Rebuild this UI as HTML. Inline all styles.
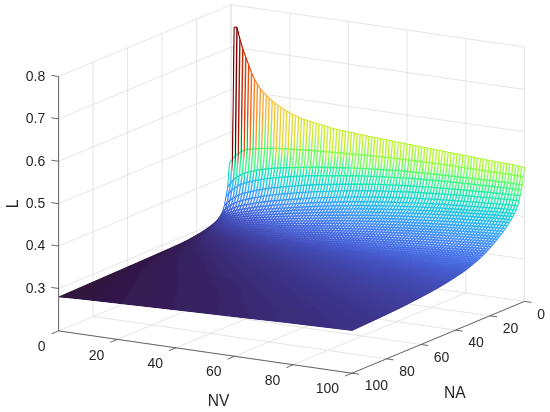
<!DOCTYPE html>
<html><head><meta charset="utf-8"><title>L vs NV, NA</title>
<style>html,body{margin:0;padding:0;background:#fff}svg{display:block}text{font-family:"Liberation Sans",Arial,Helvetica,sans-serif;font-size:14px;fill:#262626}</style></head>
<body><svg width="550" height="412" viewBox="0 0 550 412">
<rect width="550" height="412" fill="#fff"/>
<defs><linearGradient id="r0" gradientUnits="userSpaceOnUse" x1="234" x2="524.5"><stop offset="0" stop-color="#7a0403"/><stop offset="0.015" stop-color="#7a0403"/><stop offset="0.025" stop-color="#a71401"/><stop offset="0.035" stop-color="#c52603"/><stop offset="0.056" stop-color="#ea4e0d"/><stop offset="0.076" stop-color="#fb7e21"/><stop offset="0.086" stop-color="#fe932a"/><stop offset="0.126" stop-color="#faba39"/><stop offset="0.197" stop-color="#e5d938"/><stop offset="0.338" stop-color="#cbed34"/><stop offset="1" stop-color="#a7fc3a"/></linearGradient><linearGradient id="r1" gradientUnits="userSpaceOnUse" x1="229.4" x2="523.5"><stop offset="0" stop-color="#18dec0"/><stop offset="0.015" stop-color="#1ce6b4"/><stop offset="0.055" stop-color="#3cf58e"/><stop offset="0.125" stop-color="#55fa76"/><stop offset="0.305" stop-color="#6dfe62"/><stop offset="0.525" stop-color="#7dff56"/><stop offset="0.825" stop-color="#84ff51"/><stop offset="1" stop-color="#80ff53"/></linearGradient><linearGradient id="r2" gradientUnits="userSpaceOnUse" x1="227.7" x2="522.5"><stop offset="0" stop-color="#3e9bfe"/><stop offset="0.005" stop-color="#3e9bfe"/><stop offset="0.035" stop-color="#28bceb"/><stop offset="0.075" stop-color="#1bd0d5"/><stop offset="0.155" stop-color="#18e0bd"/><stop offset="0.415" stop-color="#35f394"/><stop offset="0.625" stop-color="#4af880"/><stop offset="0.865" stop-color="#55fa76"/><stop offset="1" stop-color="#59fb73"/></linearGradient><linearGradient id="r3" gradientUnits="userSpaceOnUse" x1="225.9" x2="521.4"><stop offset="0" stop-color="#467df4"/><stop offset="0.005" stop-color="#467df4"/><stop offset="0.025" stop-color="#4294ff"/><stop offset="0.065" stop-color="#31aff5"/><stop offset="0.165" stop-color="#1ccdd8"/><stop offset="0.365" stop-color="#1ae4b6"/><stop offset="0.655" stop-color="#32f298"/><stop offset="0.925" stop-color="#3ff68a"/><stop offset="1" stop-color="#43f787"/></linearGradient><linearGradient id="r4" gradientUnits="userSpaceOnUse" x1="224.2" x2="520.3"><stop offset="0" stop-color="#4661d6"/><stop offset="0.005" stop-color="#4661d6"/><stop offset="0.035" stop-color="#4680f6"/><stop offset="0.085" stop-color="#4099ff"/><stop offset="0.275" stop-color="#20c7df"/><stop offset="0.515" stop-color="#19e2bb"/><stop offset="0.935" stop-color="#2aefa1"/><stop offset="1" stop-color="#2cf09e"/></linearGradient><linearGradient id="r5" gradientUnits="userSpaceOnUse" x1="222.5" x2="519.1"><stop offset="0" stop-color="#4451bf"/><stop offset="0.005" stop-color="#4451bf"/><stop offset="0.035" stop-color="#466be3"/><stop offset="0.075" stop-color="#4680f6"/><stop offset="0.165" stop-color="#3e9bfe"/><stop offset="0.385" stop-color="#22c5e2"/><stop offset="0.665" stop-color="#18dec0"/><stop offset="1" stop-color="#1fe9af"/></linearGradient><linearGradient id="r6" gradientUnits="userSpaceOnUse" x1="220.5" x2="517.7"><stop offset="0" stop-color="#4146ac"/><stop offset="0.005" stop-color="#4146ac"/><stop offset="0.035" stop-color="#455ed3"/><stop offset="0.085" stop-color="#4773eb"/><stop offset="0.195" stop-color="#4391fe"/><stop offset="0.395" stop-color="#2eb4f2"/><stop offset="0.645" stop-color="#1ad2d2"/><stop offset="1" stop-color="#18e0bd"/></linearGradient><linearGradient id="r7" gradientUnits="userSpaceOnUse" x1="218.6" x2="516.2"><stop offset="0" stop-color="#3f3e9c"/><stop offset="0.005" stop-color="#3f3e9c"/><stop offset="0.025" stop-color="#434eba"/><stop offset="0.075" stop-color="#4666dd"/><stop offset="0.215" stop-color="#458afc"/><stop offset="0.395" stop-color="#37a8fa"/><stop offset="0.685" stop-color="#1fc9dd"/><stop offset="1" stop-color="#18d9c8"/></linearGradient><linearGradient id="r8" gradientUnits="userSpaceOnUse" x1="216.6" x2="514.6"><stop offset="0" stop-color="#3e3891"/><stop offset="0.005" stop-color="#3e3891"/><stop offset="0.025" stop-color="#4146ac"/><stop offset="0.075" stop-color="#455ed3"/><stop offset="0.195" stop-color="#477bf2"/><stop offset="0.335" stop-color="#4294ff"/><stop offset="0.585" stop-color="#2cb7f0"/><stop offset="0.985" stop-color="#1ad2d2"/><stop offset="1" stop-color="#1ad2d2"/></linearGradient><linearGradient id="r9" gradientUnits="userSpaceOnUse" x1="214.6" x2="512.9"><stop offset="0" stop-color="#3d358b"/><stop offset="0.015" stop-color="#3f3b97"/><stop offset="0.025" stop-color="#4143a7"/><stop offset="0.065" stop-color="#4454c3"/><stop offset="0.185" stop-color="#4773eb"/><stop offset="0.355" stop-color="#4391fe"/><stop offset="0.645" stop-color="#2eb4f2"/><stop offset="1" stop-color="#1ecbda"/></linearGradient><linearGradient id="r10" gradientUnits="userSpaceOnUse" x1="212.6" x2="511.1"><stop offset="0" stop-color="#3b2f80"/><stop offset="0.005" stop-color="#3b2f80"/><stop offset="0.025" stop-color="#3f3e9c"/><stop offset="0.065" stop-color="#434eba"/><stop offset="0.175" stop-color="#4669e0"/><stop offset="0.325" stop-color="#4685fa"/><stop offset="0.555" stop-color="#3aa3fc"/><stop offset="0.865" stop-color="#27bee9"/><stop offset="1" stop-color="#22c5e2"/></linearGradient><linearGradient id="r11" gradientUnits="userSpaceOnUse" x1="210.6" x2="509.3"><stop offset="0" stop-color="#3a2d79"/><stop offset="0.005" stop-color="#3a2d79"/><stop offset="0.025" stop-color="#3f3b97"/><stop offset="0.075" stop-color="#424bb5"/><stop offset="0.175" stop-color="#4664da"/><stop offset="0.335" stop-color="#4680f6"/><stop offset="0.555" stop-color="#3e9bfe"/><stop offset="0.875" stop-color="#2cb7f0"/><stop offset="1" stop-color="#27bee9"/></linearGradient><linearGradient id="r12" gradientUnits="userSpaceOnUse" x1="208.6" x2="507.4"><stop offset="0" stop-color="#3a2d79"/><stop offset="0.005" stop-color="#3a2d79"/><stop offset="0.025" stop-color="#3e3891"/><stop offset="0.075" stop-color="#4249b1"/><stop offset="0.185" stop-color="#4661d6"/><stop offset="0.365" stop-color="#467df4"/><stop offset="0.595" stop-color="#4099ff"/><stop offset="0.985" stop-color="#2cb7f0"/><stop offset="1" stop-color="#2cb7f0"/></linearGradient><linearGradient id="r13" gradientUnits="userSpaceOnUse" x1="206.7" x2="505.5"><stop offset="0" stop-color="#392a73"/><stop offset="0.005" stop-color="#392a73"/><stop offset="0.025" stop-color="#3d358b"/><stop offset="0.065" stop-color="#4143a7"/><stop offset="0.155" stop-color="#4456c7"/><stop offset="0.315" stop-color="#4771e9"/><stop offset="0.555" stop-color="#448ffe"/><stop offset="0.975" stop-color="#31aff5"/><stop offset="1" stop-color="#31aff5"/></linearGradient><linearGradient id="r14" gradientUnits="userSpaceOnUse" x1="204.7" x2="503.5"><stop offset="0" stop-color="#38276d"/><stop offset="0.005" stop-color="#38276d"/><stop offset="0.025" stop-color="#3c3286"/><stop offset="0.105" stop-color="#4249b1"/><stop offset="0.275" stop-color="#4666dd"/><stop offset="0.515" stop-color="#4685fa"/><stop offset="0.855" stop-color="#3aa3fc"/><stop offset="1" stop-color="#35abf8"/></linearGradient><linearGradient id="r15" gradientUnits="userSpaceOnUse" x1="202.7" x2="501.5"><stop offset="0" stop-color="#38276d"/><stop offset="0.015" stop-color="#392a73"/><stop offset="0.035" stop-color="#3c3286"/><stop offset="0.095" stop-color="#4143a7"/><stop offset="0.225" stop-color="#4559cb"/><stop offset="0.455" stop-color="#4778f0"/><stop offset="0.735" stop-color="#4294ff"/><stop offset="1" stop-color="#38a5fb"/></linearGradient><linearGradient id="r16" gradientUnits="userSpaceOnUse" x1="200.7" x2="499.5"><stop offset="0" stop-color="#372466"/><stop offset="0.005" stop-color="#372466"/><stop offset="0.025" stop-color="#3a2d79"/><stop offset="0.085" stop-color="#3f3e9c"/><stop offset="0.195" stop-color="#4451bf"/><stop offset="0.425" stop-color="#4771e9"/><stop offset="0.725" stop-color="#458cfd"/><stop offset="1" stop-color="#3d9efe"/></linearGradient><linearGradient id="r17" gradientUnits="userSpaceOnUse" x1="198.7" x2="497.4"><stop offset="0" stop-color="#372466"/><stop offset="0.025" stop-color="#392a73"/><stop offset="0.045" stop-color="#3c3286"/><stop offset="0.075" stop-color="#3e3891"/><stop offset="0.165" stop-color="#4249b1"/><stop offset="0.325" stop-color="#455ed3"/><stop offset="0.545" stop-color="#4778f0"/><stop offset="0.895" stop-color="#4294ff"/><stop offset="1" stop-color="#4099ff"/></linearGradient><linearGradient id="r18" gradientUnits="userSpaceOnUse" x1="196.7" x2="495.4"><stop offset="0" stop-color="#36215f"/><stop offset="0.015" stop-color="#372466"/><stop offset="0.035" stop-color="#3a2d79"/><stop offset="0.055" stop-color="#3c3286"/><stop offset="0.135" stop-color="#4040a2"/><stop offset="0.315" stop-color="#4559cb"/><stop offset="0.525" stop-color="#4771e9"/><stop offset="0.865" stop-color="#458cfd"/><stop offset="1" stop-color="#4294ff"/></linearGradient><linearGradient id="r19" gradientUnits="userSpaceOnUse" x1="194.8" x2="493.3"><stop offset="0" stop-color="#36215f"/><stop offset="0.065" stop-color="#3c3286"/><stop offset="0.105" stop-color="#3e3891"/><stop offset="0.295" stop-color="#4454c3"/><stop offset="0.545" stop-color="#476ee6"/><stop offset="0.865" stop-color="#4687fb"/><stop offset="1" stop-color="#448ffe"/></linearGradient><linearGradient id="r20" gradientUnits="userSpaceOnUse" x1="192.8" x2="491.2"><stop offset="0" stop-color="#351e58"/><stop offset="0.015" stop-color="#36215f"/><stop offset="0.035" stop-color="#392a73"/><stop offset="0.055" stop-color="#3a2d79"/><stop offset="0.075" stop-color="#3c3286"/><stop offset="0.265" stop-color="#424bb5"/><stop offset="0.455" stop-color="#4661d6"/><stop offset="0.755" stop-color="#477bf2"/><stop offset="1" stop-color="#458afc"/></linearGradient><linearGradient id="r21" gradientUnits="userSpaceOnUse" x1="190.8" x2="489.1"><stop offset="0" stop-color="#351e58"/><stop offset="0.055" stop-color="#3a2d79"/><stop offset="0.225" stop-color="#4143a7"/><stop offset="0.345" stop-color="#4451bf"/><stop offset="0.555" stop-color="#4666dd"/><stop offset="0.875" stop-color="#467df4"/><stop offset="1" stop-color="#4685fa"/></linearGradient><linearGradient id="r22" gradientUnits="userSpaceOnUse" x1="188.8" x2="487"><stop offset="0" stop-color="#351e58"/><stop offset="0.055" stop-color="#392a73"/><stop offset="0.155" stop-color="#3e3891"/><stop offset="0.225" stop-color="#4040a2"/><stop offset="0.375" stop-color="#4451bf"/><stop offset="0.595" stop-color="#4666dd"/><stop offset="0.985" stop-color="#4680f6"/><stop offset="1" stop-color="#4680f6"/></linearGradient><linearGradient id="r23" gradientUnits="userSpaceOnUse" x1="186.8" x2="485"><stop offset="0" stop-color="#341b51"/><stop offset="0.045" stop-color="#38276d"/><stop offset="0.065" stop-color="#392a73"/><stop offset="0.105" stop-color="#3b2f80"/><stop offset="0.195" stop-color="#3f3b97"/><stop offset="0.325" stop-color="#4249b1"/><stop offset="0.545" stop-color="#455ed3"/><stop offset="0.885" stop-color="#4776ee"/><stop offset="1" stop-color="#477bf2"/></linearGradient><linearGradient id="r24" gradientUnits="userSpaceOnUse" x1="184.8" x2="482.9"><stop offset="0" stop-color="#341b51"/><stop offset="0.035" stop-color="#372466"/><stop offset="0.055" stop-color="#38276d"/><stop offset="0.095" stop-color="#3a2d79"/><stop offset="0.165" stop-color="#3d358b"/><stop offset="0.265" stop-color="#4040a2"/><stop offset="0.465" stop-color="#4454c3"/><stop offset="0.735" stop-color="#4669e0"/><stop offset="1" stop-color="#4778f0"/></linearGradient><linearGradient id="r25" gradientUnits="userSpaceOnUse" x1="182.9" x2="480.8"><stop offset="0" stop-color="#341b51"/><stop offset="0.055" stop-color="#38276d"/><stop offset="0.105" stop-color="#3a2d79"/><stop offset="0.155" stop-color="#3c3286"/><stop offset="0.285" stop-color="#4040a2"/><stop offset="0.565" stop-color="#4559cb"/><stop offset="0.885" stop-color="#476ee6"/><stop offset="1" stop-color="#4773eb"/></linearGradient><linearGradient id="r26" gradientUnits="userSpaceOnUse" x1="180.9" x2="478.7"><stop offset="0" stop-color="#341b51"/><stop offset="0.035" stop-color="#36215f"/><stop offset="0.115" stop-color="#3a2d79"/><stop offset="0.165" stop-color="#3c3286"/><stop offset="0.285" stop-color="#3f3e9c"/><stop offset="0.345" stop-color="#4143a7"/><stop offset="0.535" stop-color="#4454c3"/><stop offset="0.795" stop-color="#4666dd"/><stop offset="1" stop-color="#4771e9"/></linearGradient><linearGradient id="r27" gradientUnits="userSpaceOnUse" x1="178.9" x2="476.6"><stop offset="0" stop-color="#341b51"/><stop offset="0.015" stop-color="#341b51"/><stop offset="0.045" stop-color="#372466"/><stop offset="0.105" stop-color="#392a73"/><stop offset="0.125" stop-color="#3a2d79"/><stop offset="0.275" stop-color="#3f3b97"/><stop offset="0.305" stop-color="#3f3e9c"/><stop offset="0.465" stop-color="#424bb5"/><stop offset="0.605" stop-color="#4456c7"/><stop offset="0.905" stop-color="#4669e0"/><stop offset="1" stop-color="#476ee6"/></linearGradient><linearGradient id="r28" gradientUnits="userSpaceOnUse" x1="176.9" x2="474.5"><stop offset="0" stop-color="#341b51"/><stop offset="0.015" stop-color="#341b51"/><stop offset="0.035" stop-color="#36215f"/><stop offset="0.085" stop-color="#38276d"/><stop offset="0.135" stop-color="#3a2d79"/><stop offset="0.325" stop-color="#3f3e9c"/><stop offset="0.455" stop-color="#4249b1"/><stop offset="0.685" stop-color="#4559cb"/><stop offset="1" stop-color="#466be3"/></linearGradient><linearGradient id="r29" gradientUnits="userSpaceOnUse" x1="174.9" x2="472.4"><stop offset="0" stop-color="#33184a"/><stop offset="0.035" stop-color="#36215f"/><stop offset="0.125" stop-color="#392a73"/><stop offset="0.145" stop-color="#3a2d79"/><stop offset="0.215" stop-color="#3c3286"/><stop offset="0.345" stop-color="#3f3e9c"/><stop offset="0.485" stop-color="#4249b1"/><stop offset="0.725" stop-color="#4559cb"/><stop offset="1" stop-color="#4669e0"/></linearGradient><linearGradient id="r30" gradientUnits="userSpaceOnUse" x1="172.9" x2="470.4"><stop offset="0" stop-color="#33184a"/><stop offset="0.025" stop-color="#351e58"/><stop offset="0.075" stop-color="#372466"/><stop offset="0.125" stop-color="#392a73"/><stop offset="0.175" stop-color="#3a2d79"/><stop offset="0.195" stop-color="#3b2f80"/><stop offset="0.265" stop-color="#3d358b"/><stop offset="0.365" stop-color="#3f3e9c"/><stop offset="0.475" stop-color="#4146ac"/><stop offset="0.635" stop-color="#4451bf"/><stop offset="0.865" stop-color="#455ed3"/><stop offset="1" stop-color="#4666dd"/></linearGradient><linearGradient id="r31" gradientUnits="userSpaceOnUse" x1="170.9" x2="468.3"><stop offset="0" stop-color="#33184a"/><stop offset="0.025" stop-color="#351e58"/><stop offset="0.075" stop-color="#372466"/><stop offset="0.175" stop-color="#3a2d79"/><stop offset="0.245" stop-color="#3c3286"/><stop offset="0.315" stop-color="#3e3891"/><stop offset="0.425" stop-color="#4040a2"/><stop offset="0.585" stop-color="#424bb5"/><stop offset="0.765" stop-color="#4456c7"/><stop offset="1" stop-color="#4664da"/></linearGradient><linearGradient id="r32" gradientUnits="userSpaceOnUse" x1="169" x2="466.2"><stop offset="0" stop-color="#33184a"/><stop offset="0.025" stop-color="#351e58"/><stop offset="0.065" stop-color="#36215f"/><stop offset="0.085" stop-color="#372466"/><stop offset="0.155" stop-color="#392a73"/><stop offset="0.225" stop-color="#3b2f80"/><stop offset="0.295" stop-color="#3d358b"/><stop offset="0.405" stop-color="#3f3e9c"/><stop offset="0.615" stop-color="#424bb5"/><stop offset="0.905" stop-color="#455ccf"/><stop offset="1" stop-color="#4661d6"/></linearGradient><linearGradient id="r33" gradientUnits="userSpaceOnUse" x1="167" x2="464.2"><stop offset="0" stop-color="#33184a"/><stop offset="0.065" stop-color="#36215f"/><stop offset="0.165" stop-color="#392a73"/><stop offset="0.235" stop-color="#3b2f80"/><stop offset="0.355" stop-color="#3e3891"/><stop offset="0.425" stop-color="#3f3e9c"/><stop offset="0.515" stop-color="#4143a7"/><stop offset="0.645" stop-color="#424bb5"/><stop offset="0.955" stop-color="#455ccf"/><stop offset="1" stop-color="#455ed3"/></linearGradient><linearGradient id="r34" gradientUnits="userSpaceOnUse" x1="165" x2="462.1"><stop offset="0" stop-color="#33184a"/><stop offset="0.065" stop-color="#36215f"/><stop offset="0.105" stop-color="#372466"/><stop offset="0.175" stop-color="#392a73"/><stop offset="0.225" stop-color="#3a2d79"/><stop offset="0.245" stop-color="#3b2f80"/><stop offset="0.265" stop-color="#3b2f80"/><stop offset="0.285" stop-color="#3c3286"/><stop offset="0.445" stop-color="#3f3e9c"/><stop offset="0.585" stop-color="#4146ac"/><stop offset="0.775" stop-color="#4451bf"/><stop offset="1" stop-color="#455ccf"/></linearGradient><linearGradient id="r35" gradientUnits="userSpaceOnUse" x1="163" x2="460"><stop offset="0" stop-color="#33184a"/><stop offset="0.045" stop-color="#351e58"/><stop offset="0.085" stop-color="#36215f"/><stop offset="0.105" stop-color="#372466"/><stop offset="0.155" stop-color="#38276d"/><stop offset="0.175" stop-color="#392a73"/><stop offset="0.195" stop-color="#392a73"/><stop offset="0.215" stop-color="#3a2d79"/><stop offset="0.235" stop-color="#3a2d79"/><stop offset="0.255" stop-color="#3b2f80"/><stop offset="0.275" stop-color="#3b2f80"/><stop offset="0.295" stop-color="#3c3286"/><stop offset="0.355" stop-color="#3d358b"/><stop offset="0.385" stop-color="#3e3891"/><stop offset="0.475" stop-color="#3f3e9c"/><stop offset="0.565" stop-color="#4143a7"/><stop offset="0.705" stop-color="#424bb5"/><stop offset="1" stop-color="#4559cb"/></linearGradient><linearGradient id="r36" gradientUnits="userSpaceOnUse" x1="161" x2="458"><stop offset="0" stop-color="#33184a"/><stop offset="0.045" stop-color="#351e58"/><stop offset="0.085" stop-color="#36215f"/><stop offset="0.105" stop-color="#372466"/><stop offset="0.125" stop-color="#372466"/><stop offset="0.145" stop-color="#38276d"/><stop offset="0.165" stop-color="#38276d"/><stop offset="0.185" stop-color="#392a73"/><stop offset="0.205" stop-color="#392a73"/><stop offset="0.225" stop-color="#3a2d79"/><stop offset="0.245" stop-color="#3a2d79"/><stop offset="0.265" stop-color="#3b2f80"/><stop offset="0.285" stop-color="#3b2f80"/><stop offset="0.305" stop-color="#3c3286"/><stop offset="0.375" stop-color="#3d358b"/><stop offset="0.405" stop-color="#3e3891"/><stop offset="0.495" stop-color="#3f3e9c"/><stop offset="0.585" stop-color="#4143a7"/><stop offset="0.745" stop-color="#424bb5"/><stop offset="0.985" stop-color="#4456c7"/><stop offset="1" stop-color="#4456c7"/></linearGradient><linearGradient id="r37" gradientUnits="userSpaceOnUse" x1="159" x2="455.9"><stop offset="0" stop-color="#33184a"/><stop offset="0.015" stop-color="#33184a"/><stop offset="0.075" stop-color="#36215f"/><stop offset="0.095" stop-color="#36215f"/><stop offset="0.115" stop-color="#372466"/><stop offset="0.135" stop-color="#372466"/><stop offset="0.155" stop-color="#38276d"/><stop offset="0.175" stop-color="#38276d"/><stop offset="0.195" stop-color="#392a73"/><stop offset="0.215" stop-color="#392a73"/><stop offset="0.235" stop-color="#3a2d79"/><stop offset="0.255" stop-color="#3a2d79"/><stop offset="0.275" stop-color="#3b2f80"/><stop offset="0.305" stop-color="#3b2f80"/><stop offset="0.325" stop-color="#3c3286"/><stop offset="0.385" stop-color="#3d358b"/><stop offset="0.415" stop-color="#3e3891"/><stop offset="0.515" stop-color="#3f3e9c"/><stop offset="0.775" stop-color="#424bb5"/><stop offset="1" stop-color="#4456c7"/></linearGradient><linearGradient id="r38" gradientUnits="userSpaceOnUse" x1="157.1" x2="453.8"><stop offset="0" stop-color="#33184a"/><stop offset="0.015" stop-color="#33184a"/><stop offset="0.055" stop-color="#351e58"/><stop offset="0.095" stop-color="#36215f"/><stop offset="0.135" stop-color="#372466"/><stop offset="0.185" stop-color="#38276d"/><stop offset="0.205" stop-color="#392a73"/><stop offset="0.225" stop-color="#392a73"/><stop offset="0.245" stop-color="#3a2d79"/><stop offset="0.275" stop-color="#3a2d79"/><stop offset="0.295" stop-color="#3b2f80"/><stop offset="0.315" stop-color="#3b2f80"/><stop offset="0.335" stop-color="#3c3286"/><stop offset="0.365" stop-color="#3c3286"/><stop offset="0.395" stop-color="#3d358b"/><stop offset="0.535" stop-color="#3f3e9c"/><stop offset="0.695" stop-color="#4146ac"/><stop offset="0.805" stop-color="#424bb5"/><stop offset="1" stop-color="#4454c3"/></linearGradient><linearGradient id="r39" gradientUnits="userSpaceOnUse" x1="155.1" x2="451.8"><stop offset="0" stop-color="#33184a"/><stop offset="0.015" stop-color="#33184a"/><stop offset="0.055" stop-color="#351e58"/><stop offset="0.095" stop-color="#36215f"/><stop offset="0.135" stop-color="#372466"/><stop offset="0.185" stop-color="#38276d"/><stop offset="0.235" stop-color="#392a73"/><stop offset="0.255" stop-color="#3a2d79"/><stop offset="0.285" stop-color="#3a2d79"/><stop offset="0.305" stop-color="#3b2f80"/><stop offset="0.325" stop-color="#3b2f80"/><stop offset="0.345" stop-color="#3c3286"/><stop offset="0.375" stop-color="#3c3286"/><stop offset="0.405" stop-color="#3d358b"/><stop offset="0.505" stop-color="#3f3b97"/><stop offset="0.665" stop-color="#4143a7"/><stop offset="0.775" stop-color="#4249b1"/><stop offset="1" stop-color="#4454c3"/></linearGradient><linearGradient id="r40" gradientUnits="userSpaceOnUse" x1="153.1" x2="449.7"><stop offset="0" stop-color="#33184a"/><stop offset="0.015" stop-color="#33184a"/><stop offset="0.035" stop-color="#341b51"/><stop offset="0.075" stop-color="#351e58"/><stop offset="0.095" stop-color="#36215f"/><stop offset="0.115" stop-color="#36215f"/><stop offset="0.135" stop-color="#372466"/><stop offset="0.155" stop-color="#372466"/><stop offset="0.175" stop-color="#38276d"/><stop offset="0.205" stop-color="#38276d"/><stop offset="0.225" stop-color="#392a73"/><stop offset="0.245" stop-color="#392a73"/><stop offset="0.265" stop-color="#3a2d79"/><stop offset="0.295" stop-color="#3a2d79"/><stop offset="0.315" stop-color="#3b2f80"/><stop offset="0.345" stop-color="#3b2f80"/><stop offset="0.365" stop-color="#3c3286"/><stop offset="0.435" stop-color="#3d358b"/><stop offset="0.465" stop-color="#3e3891"/><stop offset="0.535" stop-color="#3f3b97"/><stop offset="0.565" stop-color="#3f3e9c"/><stop offset="0.645" stop-color="#4040a2"/><stop offset="0.685" stop-color="#4143a7"/><stop offset="0.875" stop-color="#424bb5"/><stop offset="1" stop-color="#4451bf"/></linearGradient><linearGradient id="r41" gradientUnits="userSpaceOnUse" x1="151.1" x2="447.7"><stop offset="0" stop-color="#33184a"/><stop offset="0.015" stop-color="#33184a"/><stop offset="0.035" stop-color="#341b51"/><stop offset="0.075" stop-color="#351e58"/><stop offset="0.115" stop-color="#36215f"/><stop offset="0.155" stop-color="#372466"/><stop offset="0.205" stop-color="#38276d"/><stop offset="0.255" stop-color="#392a73"/><stop offset="0.305" stop-color="#3a2d79"/><stop offset="0.325" stop-color="#3b2f80"/><stop offset="0.355" stop-color="#3b2f80"/><stop offset="0.375" stop-color="#3c3286"/><stop offset="0.405" stop-color="#3c3286"/><stop offset="0.435" stop-color="#3d358b"/><stop offset="0.505" stop-color="#3e3891"/><stop offset="0.535" stop-color="#3f3b97"/><stop offset="0.655" stop-color="#4040a2"/><stop offset="0.845" stop-color="#4249b1"/><stop offset="0.975" stop-color="#434eba"/><stop offset="1" stop-color="#4451bf"/></linearGradient><linearGradient id="r42" gradientUnits="userSpaceOnUse" x1="149.1" x2="445.6"><stop offset="0" stop-color="#33184a"/><stop offset="0.015" stop-color="#33184a"/><stop offset="0.035" stop-color="#341b51"/><stop offset="0.075" stop-color="#351e58"/><stop offset="0.115" stop-color="#36215f"/><stop offset="0.155" stop-color="#372466"/><stop offset="0.175" stop-color="#372466"/><stop offset="0.195" stop-color="#38276d"/><stop offset="0.225" stop-color="#38276d"/><stop offset="0.245" stop-color="#392a73"/><stop offset="0.275" stop-color="#392a73"/><stop offset="0.295" stop-color="#3a2d79"/><stop offset="0.315" stop-color="#3a2d79"/><stop offset="0.335" stop-color="#3b2f80"/><stop offset="0.375" stop-color="#3b2f80"/><stop offset="0.395" stop-color="#3c3286"/><stop offset="0.475" stop-color="#3d358b"/><stop offset="0.505" stop-color="#3e3891"/><stop offset="0.575" stop-color="#3f3b97"/><stop offset="0.605" stop-color="#3f3e9c"/><stop offset="0.695" stop-color="#4040a2"/><stop offset="0.735" stop-color="#4143a7"/><stop offset="1" stop-color="#434eba"/></linearGradient><linearGradient id="r43" gradientUnits="userSpaceOnUse" x1="147.1" x2="443.6"><stop offset="0" stop-color="#33184a"/><stop offset="0.025" stop-color="#33184a"/><stop offset="0.045" stop-color="#341b51"/><stop offset="0.085" stop-color="#351e58"/><stop offset="0.125" stop-color="#36215f"/><stop offset="0.165" stop-color="#372466"/><stop offset="0.185" stop-color="#372466"/><stop offset="0.205" stop-color="#38276d"/><stop offset="0.235" stop-color="#38276d"/><stop offset="0.255" stop-color="#392a73"/><stop offset="0.285" stop-color="#392a73"/><stop offset="0.305" stop-color="#3a2d79"/><stop offset="0.335" stop-color="#3a2d79"/><stop offset="0.355" stop-color="#3b2f80"/><stop offset="0.385" stop-color="#3b2f80"/><stop offset="0.405" stop-color="#3c3286"/><stop offset="0.435" stop-color="#3c3286"/><stop offset="0.465" stop-color="#3d358b"/><stop offset="0.545" stop-color="#3e3891"/><stop offset="0.575" stop-color="#3f3b97"/><stop offset="0.655" stop-color="#3f3e9c"/><stop offset="0.695" stop-color="#4040a2"/><stop offset="0.835" stop-color="#4146ac"/><stop offset="1" stop-color="#434eba"/></linearGradient><linearGradient id="r44" gradientUnits="userSpaceOnUse" x1="145.2" x2="441.6"><stop offset="0" stop-color="#321543"/><stop offset="0.045" stop-color="#341b51"/><stop offset="0.085" stop-color="#351e58"/><stop offset="0.125" stop-color="#36215f"/><stop offset="0.145" stop-color="#36215f"/><stop offset="0.165" stop-color="#372466"/><stop offset="0.195" stop-color="#372466"/><stop offset="0.215" stop-color="#38276d"/><stop offset="0.245" stop-color="#38276d"/><stop offset="0.265" stop-color="#392a73"/><stop offset="0.295" stop-color="#392a73"/><stop offset="0.315" stop-color="#3a2d79"/><stop offset="0.345" stop-color="#3a2d79"/><stop offset="0.365" stop-color="#3b2f80"/><stop offset="0.395" stop-color="#3b2f80"/><stop offset="0.415" stop-color="#3c3286"/><stop offset="0.445" stop-color="#3c3286"/><stop offset="0.475" stop-color="#3d358b"/><stop offset="0.505" stop-color="#3d358b"/><stop offset="0.535" stop-color="#3e3891"/><stop offset="0.615" stop-color="#3f3b97"/><stop offset="0.645" stop-color="#3f3e9c"/><stop offset="0.735" stop-color="#4040a2"/><stop offset="0.775" stop-color="#4143a7"/><stop offset="1" stop-color="#424bb5"/></linearGradient><linearGradient id="r45" gradientUnits="userSpaceOnUse" x1="143.2" x2="439.5"><stop offset="0" stop-color="#321543"/><stop offset="0.045" stop-color="#341b51"/><stop offset="0.085" stop-color="#351e58"/><stop offset="0.105" stop-color="#351e58"/><stop offset="0.125" stop-color="#36215f"/><stop offset="0.155" stop-color="#36215f"/><stop offset="0.175" stop-color="#372466"/><stop offset="0.205" stop-color="#372466"/><stop offset="0.225" stop-color="#38276d"/><stop offset="0.255" stop-color="#38276d"/><stop offset="0.275" stop-color="#392a73"/><stop offset="0.305" stop-color="#392a73"/><stop offset="0.325" stop-color="#3a2d79"/><stop offset="0.355" stop-color="#3a2d79"/><stop offset="0.375" stop-color="#3b2f80"/><stop offset="0.415" stop-color="#3b2f80"/><stop offset="0.435" stop-color="#3c3286"/><stop offset="0.465" stop-color="#3c3286"/><stop offset="0.495" stop-color="#3d358b"/><stop offset="0.525" stop-color="#3d358b"/><stop offset="0.555" stop-color="#3e3891"/><stop offset="0.635" stop-color="#3f3b97"/><stop offset="0.665" stop-color="#3f3e9c"/><stop offset="0.765" stop-color="#4040a2"/><stop offset="0.805" stop-color="#4143a7"/><stop offset="1" stop-color="#424bb5"/></linearGradient><linearGradient id="r46" gradientUnits="userSpaceOnUse" x1="141.2" x2="437.5"><stop offset="0" stop-color="#321543"/><stop offset="0.045" stop-color="#341b51"/><stop offset="0.065" stop-color="#341b51"/><stop offset="0.085" stop-color="#351e58"/><stop offset="0.115" stop-color="#351e58"/><stop offset="0.135" stop-color="#36215f"/><stop offset="0.155" stop-color="#36215f"/><stop offset="0.175" stop-color="#372466"/><stop offset="0.215" stop-color="#372466"/><stop offset="0.235" stop-color="#38276d"/><stop offset="0.265" stop-color="#38276d"/><stop offset="0.285" stop-color="#392a73"/><stop offset="0.315" stop-color="#392a73"/><stop offset="0.335" stop-color="#3a2d79"/><stop offset="0.375" stop-color="#3a2d79"/><stop offset="0.395" stop-color="#3b2f80"/><stop offset="0.425" stop-color="#3b2f80"/><stop offset="0.445" stop-color="#3c3286"/><stop offset="0.485" stop-color="#3c3286"/><stop offset="0.515" stop-color="#3d358b"/><stop offset="0.595" stop-color="#3e3891"/><stop offset="0.625" stop-color="#3f3b97"/><stop offset="0.655" stop-color="#3f3b97"/><stop offset="0.685" stop-color="#3f3e9c"/><stop offset="0.725" stop-color="#3f3e9c"/><stop offset="0.765" stop-color="#4040a2"/><stop offset="0.865" stop-color="#4143a7"/><stop offset="0.905" stop-color="#4146ac"/><stop offset="1" stop-color="#4249b1"/></linearGradient><linearGradient id="r47" gradientUnits="userSpaceOnUse" x1="139.2" x2="435.4"><stop offset="0" stop-color="#321543"/><stop offset="0.025" stop-color="#33184a"/><stop offset="0.065" stop-color="#341b51"/><stop offset="0.085" stop-color="#351e58"/><stop offset="0.115" stop-color="#351e58"/><stop offset="0.135" stop-color="#36215f"/><stop offset="0.165" stop-color="#36215f"/><stop offset="0.185" stop-color="#372466"/><stop offset="0.225" stop-color="#372466"/><stop offset="0.245" stop-color="#38276d"/><stop offset="0.275" stop-color="#38276d"/><stop offset="0.295" stop-color="#392a73"/><stop offset="0.325" stop-color="#392a73"/><stop offset="0.345" stop-color="#3a2d79"/><stop offset="0.385" stop-color="#3a2d79"/><stop offset="0.405" stop-color="#3b2f80"/><stop offset="0.435" stop-color="#3b2f80"/><stop offset="0.455" stop-color="#3c3286"/><stop offset="0.495" stop-color="#3c3286"/><stop offset="0.525" stop-color="#3d358b"/><stop offset="0.555" stop-color="#3d358b"/><stop offset="0.585" stop-color="#3e3891"/><stop offset="0.615" stop-color="#3e3891"/><stop offset="0.645" stop-color="#3f3b97"/><stop offset="0.675" stop-color="#3f3b97"/><stop offset="0.705" stop-color="#3f3e9c"/><stop offset="0.745" stop-color="#3f3e9c"/><stop offset="0.785" stop-color="#4040a2"/><stop offset="0.885" stop-color="#4143a7"/><stop offset="0.925" stop-color="#4146ac"/><stop offset="1" stop-color="#4249b1"/></linearGradient><linearGradient id="r48" gradientUnits="userSpaceOnUse" x1="137.2" x2="433.4"><stop offset="0" stop-color="#321543"/><stop offset="0.025" stop-color="#33184a"/><stop offset="0.065" stop-color="#341b51"/><stop offset="0.105" stop-color="#351e58"/><stop offset="0.125" stop-color="#351e58"/><stop offset="0.145" stop-color="#36215f"/><stop offset="0.175" stop-color="#36215f"/><stop offset="0.195" stop-color="#372466"/><stop offset="0.235" stop-color="#372466"/><stop offset="0.255" stop-color="#38276d"/><stop offset="0.285" stop-color="#38276d"/><stop offset="0.305" stop-color="#392a73"/><stop offset="0.345" stop-color="#392a73"/><stop offset="0.365" stop-color="#3a2d79"/><stop offset="0.395" stop-color="#3a2d79"/><stop offset="0.415" stop-color="#3b2f80"/><stop offset="0.455" stop-color="#3b2f80"/><stop offset="0.475" stop-color="#3c3286"/><stop offset="0.515" stop-color="#3c3286"/><stop offset="0.545" stop-color="#3d358b"/><stop offset="0.575" stop-color="#3d358b"/><stop offset="0.605" stop-color="#3e3891"/><stop offset="0.635" stop-color="#3e3891"/><stop offset="0.665" stop-color="#3f3b97"/><stop offset="0.705" stop-color="#3f3b97"/><stop offset="0.735" stop-color="#3f3e9c"/><stop offset="0.845" stop-color="#4040a2"/><stop offset="0.885" stop-color="#4143a7"/><stop offset="1" stop-color="#4146ac"/></linearGradient><linearGradient id="r49" gradientUnits="userSpaceOnUse" x1="135.2" x2="431.4"><stop offset="0" stop-color="#321543"/><stop offset="0.025" stop-color="#33184a"/><stop offset="0.065" stop-color="#341b51"/><stop offset="0.105" stop-color="#351e58"/><stop offset="0.125" stop-color="#351e58"/><stop offset="0.145" stop-color="#36215f"/><stop offset="0.185" stop-color="#36215f"/><stop offset="0.205" stop-color="#372466"/><stop offset="0.235" stop-color="#372466"/><stop offset="0.255" stop-color="#38276d"/><stop offset="0.295" stop-color="#38276d"/><stop offset="0.315" stop-color="#392a73"/><stop offset="0.355" stop-color="#392a73"/><stop offset="0.375" stop-color="#3a2d79"/><stop offset="0.405" stop-color="#3a2d79"/><stop offset="0.425" stop-color="#3b2f80"/><stop offset="0.465" stop-color="#3b2f80"/><stop offset="0.485" stop-color="#3c3286"/><stop offset="0.525" stop-color="#3c3286"/><stop offset="0.555" stop-color="#3d358b"/><stop offset="0.585" stop-color="#3d358b"/><stop offset="0.615" stop-color="#3e3891"/><stop offset="0.655" stop-color="#3e3891"/><stop offset="0.685" stop-color="#3f3b97"/><stop offset="0.725" stop-color="#3f3b97"/><stop offset="0.755" stop-color="#3f3e9c"/><stop offset="0.795" stop-color="#3f3e9c"/><stop offset="0.835" stop-color="#4040a2"/><stop offset="0.945" stop-color="#4143a7"/><stop offset="0.985" stop-color="#4146ac"/><stop offset="1" stop-color="#4146ac"/></linearGradient><linearGradient id="r50" gradientUnits="userSpaceOnUse" x1="133.3" x2="429.3"><stop offset="0" stop-color="#321543"/><stop offset="0.025" stop-color="#33184a"/><stop offset="0.065" stop-color="#341b51"/><stop offset="0.085" stop-color="#341b51"/><stop offset="0.105" stop-color="#351e58"/><stop offset="0.135" stop-color="#351e58"/><stop offset="0.155" stop-color="#36215f"/><stop offset="0.195" stop-color="#36215f"/><stop offset="0.215" stop-color="#372466"/><stop offset="0.245" stop-color="#372466"/><stop offset="0.265" stop-color="#38276d"/><stop offset="0.305" stop-color="#38276d"/><stop offset="0.325" stop-color="#392a73"/><stop offset="0.365" stop-color="#392a73"/><stop offset="0.385" stop-color="#3a2d79"/><stop offset="0.425" stop-color="#3a2d79"/><stop offset="0.445" stop-color="#3b2f80"/><stop offset="0.485" stop-color="#3b2f80"/><stop offset="0.505" stop-color="#3c3286"/><stop offset="0.545" stop-color="#3c3286"/><stop offset="0.575" stop-color="#3d358b"/><stop offset="0.605" stop-color="#3d358b"/><stop offset="0.635" stop-color="#3e3891"/><stop offset="0.675" stop-color="#3e3891"/><stop offset="0.705" stop-color="#3f3b97"/><stop offset="0.745" stop-color="#3f3b97"/><stop offset="0.775" stop-color="#3f3e9c"/><stop offset="0.815" stop-color="#3f3e9c"/><stop offset="0.855" stop-color="#4040a2"/><stop offset="0.895" stop-color="#4040a2"/><stop offset="0.935" stop-color="#4143a7"/><stop offset="1" stop-color="#4146ac"/></linearGradient><linearGradient id="r51" gradientUnits="userSpaceOnUse" x1="131.3" x2="427.3"><stop offset="0" stop-color="#321543"/><stop offset="0.015" stop-color="#321543"/><stop offset="0.035" stop-color="#33184a"/><stop offset="0.075" stop-color="#341b51"/><stop offset="0.115" stop-color="#351e58"/><stop offset="0.145" stop-color="#351e58"/><stop offset="0.165" stop-color="#36215f"/><stop offset="0.195" stop-color="#36215f"/><stop offset="0.215" stop-color="#372466"/><stop offset="0.255" stop-color="#372466"/><stop offset="0.275" stop-color="#38276d"/><stop offset="0.315" stop-color="#38276d"/><stop offset="0.335" stop-color="#392a73"/><stop offset="0.375" stop-color="#392a73"/><stop offset="0.395" stop-color="#3a2d79"/><stop offset="0.435" stop-color="#3a2d79"/><stop offset="0.455" stop-color="#3b2f80"/><stop offset="0.495" stop-color="#3b2f80"/><stop offset="0.515" stop-color="#3c3286"/><stop offset="0.555" stop-color="#3c3286"/><stop offset="0.585" stop-color="#3d358b"/><stop offset="0.625" stop-color="#3d358b"/><stop offset="0.655" stop-color="#3e3891"/><stop offset="0.695" stop-color="#3e3891"/><stop offset="0.725" stop-color="#3f3b97"/><stop offset="0.765" stop-color="#3f3b97"/><stop offset="0.795" stop-color="#3f3e9c"/><stop offset="0.835" stop-color="#3f3e9c"/><stop offset="0.875" stop-color="#4040a2"/><stop offset="0.915" stop-color="#4040a2"/><stop offset="0.955" stop-color="#4143a7"/><stop offset="1" stop-color="#4143a7"/></linearGradient><linearGradient id="r52" gradientUnits="userSpaceOnUse" x1="129.3" x2="425.3"><stop offset="0" stop-color="#321543"/><stop offset="0.015" stop-color="#321543"/><stop offset="0.035" stop-color="#33184a"/><stop offset="0.075" stop-color="#341b51"/><stop offset="0.095" stop-color="#341b51"/><stop offset="0.115" stop-color="#351e58"/><stop offset="0.145" stop-color="#351e58"/><stop offset="0.165" stop-color="#36215f"/><stop offset="0.205" stop-color="#36215f"/><stop offset="0.225" stop-color="#372466"/><stop offset="0.265" stop-color="#372466"/><stop offset="0.285" stop-color="#38276d"/><stop offset="0.325" stop-color="#38276d"/><stop offset="0.345" stop-color="#392a73"/><stop offset="0.385" stop-color="#392a73"/><stop offset="0.405" stop-color="#3a2d79"/><stop offset="0.445" stop-color="#3a2d79"/><stop offset="0.465" stop-color="#3b2f80"/><stop offset="0.505" stop-color="#3b2f80"/><stop offset="0.525" stop-color="#3c3286"/><stop offset="0.575" stop-color="#3c3286"/><stop offset="0.605" stop-color="#3d358b"/><stop offset="0.645" stop-color="#3d358b"/><stop offset="0.675" stop-color="#3e3891"/><stop offset="0.715" stop-color="#3e3891"/><stop offset="0.745" stop-color="#3f3b97"/><stop offset="0.785" stop-color="#3f3b97"/><stop offset="0.815" stop-color="#3f3e9c"/><stop offset="0.865" stop-color="#3f3e9c"/><stop offset="0.905" stop-color="#4040a2"/><stop offset="0.945" stop-color="#4040a2"/><stop offset="0.985" stop-color="#4143a7"/><stop offset="1" stop-color="#4143a7"/></linearGradient><linearGradient id="r53" gradientUnits="userSpaceOnUse" x1="127.3" x2="423.3"><stop offset="0" stop-color="#321543"/><stop offset="0.015" stop-color="#321543"/><stop offset="0.035" stop-color="#33184a"/><stop offset="0.075" stop-color="#341b51"/><stop offset="0.105" stop-color="#341b51"/><stop offset="0.125" stop-color="#351e58"/><stop offset="0.155" stop-color="#351e58"/><stop offset="0.175" stop-color="#36215f"/><stop offset="0.215" stop-color="#36215f"/><stop offset="0.235" stop-color="#372466"/><stop offset="0.275" stop-color="#372466"/><stop offset="0.295" stop-color="#38276d"/><stop offset="0.335" stop-color="#38276d"/><stop offset="0.355" stop-color="#392a73"/><stop offset="0.395" stop-color="#392a73"/><stop offset="0.415" stop-color="#3a2d79"/><stop offset="0.455" stop-color="#3a2d79"/><stop offset="0.475" stop-color="#3b2f80"/><stop offset="0.525" stop-color="#3b2f80"/><stop offset="0.545" stop-color="#3c3286"/><stop offset="0.585" stop-color="#3c3286"/><stop offset="0.615" stop-color="#3d358b"/><stop offset="0.655" stop-color="#3d358b"/><stop offset="0.685" stop-color="#3e3891"/><stop offset="0.725" stop-color="#3e3891"/><stop offset="0.755" stop-color="#3f3b97"/><stop offset="0.805" stop-color="#3f3b97"/><stop offset="0.835" stop-color="#3f3e9c"/><stop offset="0.885" stop-color="#3f3e9c"/><stop offset="0.925" stop-color="#4040a2"/><stop offset="0.965" stop-color="#4040a2"/><stop offset="1" stop-color="#4143a7"/></linearGradient><linearGradient id="r54" gradientUnits="userSpaceOnUse" x1="125.3" x2="421.2"><stop offset="0" stop-color="#321543"/><stop offset="0.015" stop-color="#321543"/><stop offset="0.035" stop-color="#33184a"/><stop offset="0.055" stop-color="#33184a"/><stop offset="0.075" stop-color="#341b51"/><stop offset="0.105" stop-color="#341b51"/><stop offset="0.125" stop-color="#351e58"/><stop offset="0.165" stop-color="#351e58"/><stop offset="0.185" stop-color="#36215f"/><stop offset="0.225" stop-color="#36215f"/><stop offset="0.245" stop-color="#372466"/><stop offset="0.285" stop-color="#372466"/><stop offset="0.305" stop-color="#38276d"/><stop offset="0.345" stop-color="#38276d"/><stop offset="0.365" stop-color="#392a73"/><stop offset="0.405" stop-color="#392a73"/><stop offset="0.425" stop-color="#3a2d79"/><stop offset="0.475" stop-color="#3a2d79"/><stop offset="0.495" stop-color="#3b2f80"/><stop offset="0.535" stop-color="#3b2f80"/><stop offset="0.555" stop-color="#3c3286"/><stop offset="0.605" stop-color="#3c3286"/><stop offset="0.635" stop-color="#3d358b"/><stop offset="0.675" stop-color="#3d358b"/><stop offset="0.705" stop-color="#3e3891"/><stop offset="0.745" stop-color="#3e3891"/><stop offset="0.775" stop-color="#3f3b97"/><stop offset="0.825" stop-color="#3f3b97"/><stop offset="0.855" stop-color="#3f3e9c"/><stop offset="0.905" stop-color="#3f3e9c"/><stop offset="0.945" stop-color="#4040a2"/><stop offset="1" stop-color="#4040a2"/></linearGradient><linearGradient id="r55" gradientUnits="userSpaceOnUse" x1="123.3" x2="419.2"><stop offset="0" stop-color="#321543"/><stop offset="0.015" stop-color="#321543"/><stop offset="0.035" stop-color="#33184a"/><stop offset="0.055" stop-color="#33184a"/><stop offset="0.075" stop-color="#341b51"/><stop offset="0.115" stop-color="#341b51"/><stop offset="0.135" stop-color="#351e58"/><stop offset="0.165" stop-color="#351e58"/><stop offset="0.185" stop-color="#36215f"/><stop offset="0.235" stop-color="#36215f"/><stop offset="0.255" stop-color="#372466"/><stop offset="0.295" stop-color="#372466"/><stop offset="0.315" stop-color="#38276d"/><stop offset="0.355" stop-color="#38276d"/><stop offset="0.375" stop-color="#392a73"/><stop offset="0.415" stop-color="#392a73"/><stop offset="0.435" stop-color="#3a2d79"/><stop offset="0.485" stop-color="#3a2d79"/><stop offset="0.505" stop-color="#3b2f80"/><stop offset="0.555" stop-color="#3b2f80"/><stop offset="0.575" stop-color="#3c3286"/><stop offset="0.615" stop-color="#3c3286"/><stop offset="0.645" stop-color="#3d358b"/><stop offset="0.695" stop-color="#3d358b"/><stop offset="0.725" stop-color="#3e3891"/><stop offset="0.765" stop-color="#3e3891"/><stop offset="0.795" stop-color="#3f3b97"/><stop offset="0.845" stop-color="#3f3b97"/><stop offset="0.875" stop-color="#3f3e9c"/><stop offset="0.925" stop-color="#3f3e9c"/><stop offset="0.965" stop-color="#4040a2"/><stop offset="1" stop-color="#4040a2"/></linearGradient><linearGradient id="r56" gradientUnits="userSpaceOnUse" x1="121.4" x2="417.2"><stop offset="0" stop-color="#321543"/><stop offset="0.015" stop-color="#321543"/><stop offset="0.035" stop-color="#33184a"/><stop offset="0.065" stop-color="#33184a"/><stop offset="0.085" stop-color="#341b51"/><stop offset="0.115" stop-color="#341b51"/><stop offset="0.135" stop-color="#351e58"/><stop offset="0.175" stop-color="#351e58"/><stop offset="0.195" stop-color="#36215f"/><stop offset="0.235" stop-color="#36215f"/><stop offset="0.255" stop-color="#372466"/><stop offset="0.305" stop-color="#372466"/><stop offset="0.325" stop-color="#38276d"/><stop offset="0.365" stop-color="#38276d"/><stop offset="0.385" stop-color="#392a73"/><stop offset="0.435" stop-color="#392a73"/><stop offset="0.455" stop-color="#3a2d79"/><stop offset="0.495" stop-color="#3a2d79"/><stop offset="0.515" stop-color="#3b2f80"/><stop offset="0.565" stop-color="#3b2f80"/><stop offset="0.585" stop-color="#3c3286"/><stop offset="0.635" stop-color="#3c3286"/><stop offset="0.665" stop-color="#3d358b"/><stop offset="0.705" stop-color="#3d358b"/><stop offset="0.735" stop-color="#3e3891"/><stop offset="0.785" stop-color="#3e3891"/><stop offset="0.815" stop-color="#3f3b97"/><stop offset="0.865" stop-color="#3f3b97"/><stop offset="0.895" stop-color="#3f3e9c"/><stop offset="0.955" stop-color="#3f3e9c"/><stop offset="0.995" stop-color="#4040a2"/><stop offset="1" stop-color="#4040a2"/></linearGradient><linearGradient id="r57" gradientUnits="userSpaceOnUse" x1="119.4" x2="415.2"><stop offset="0" stop-color="#321543"/><stop offset="0.025" stop-color="#321543"/><stop offset="0.045" stop-color="#33184a"/><stop offset="0.065" stop-color="#33184a"/><stop offset="0.085" stop-color="#341b51"/><stop offset="0.125" stop-color="#341b51"/><stop offset="0.145" stop-color="#351e58"/><stop offset="0.185" stop-color="#351e58"/><stop offset="0.205" stop-color="#36215f"/><stop offset="0.245" stop-color="#36215f"/><stop offset="0.265" stop-color="#372466"/><stop offset="0.315" stop-color="#372466"/><stop offset="0.335" stop-color="#38276d"/><stop offset="0.375" stop-color="#38276d"/><stop offset="0.395" stop-color="#392a73"/><stop offset="0.445" stop-color="#392a73"/><stop offset="0.465" stop-color="#3a2d79"/><stop offset="0.505" stop-color="#3a2d79"/><stop offset="0.525" stop-color="#3b2f80"/><stop offset="0.575" stop-color="#3b2f80"/><stop offset="0.595" stop-color="#3c3286"/><stop offset="0.645" stop-color="#3c3286"/><stop offset="0.675" stop-color="#3d358b"/><stop offset="0.725" stop-color="#3d358b"/><stop offset="0.755" stop-color="#3e3891"/><stop offset="0.805" stop-color="#3e3891"/><stop offset="0.835" stop-color="#3f3b97"/><stop offset="0.885" stop-color="#3f3b97"/><stop offset="0.915" stop-color="#3f3e9c"/><stop offset="0.975" stop-color="#3f3e9c"/><stop offset="1" stop-color="#4040a2"/></linearGradient><linearGradient id="r58" gradientUnits="userSpaceOnUse" x1="117.4" x2="413.1"><stop offset="0" stop-color="#321543"/><stop offset="0.025" stop-color="#321543"/><stop offset="0.045" stop-color="#33184a"/><stop offset="0.065" stop-color="#33184a"/><stop offset="0.085" stop-color="#341b51"/><stop offset="0.125" stop-color="#341b51"/><stop offset="0.145" stop-color="#351e58"/><stop offset="0.195" stop-color="#351e58"/><stop offset="0.215" stop-color="#36215f"/><stop offset="0.255" stop-color="#36215f"/><stop offset="0.275" stop-color="#372466"/><stop offset="0.315" stop-color="#372466"/><stop offset="0.335" stop-color="#38276d"/><stop offset="0.385" stop-color="#38276d"/><stop offset="0.405" stop-color="#392a73"/><stop offset="0.455" stop-color="#392a73"/><stop offset="0.475" stop-color="#3a2d79"/><stop offset="0.525" stop-color="#3a2d79"/><stop offset="0.545" stop-color="#3b2f80"/><stop offset="0.595" stop-color="#3b2f80"/><stop offset="0.615" stop-color="#3c3286"/><stop offset="0.665" stop-color="#3c3286"/><stop offset="0.695" stop-color="#3d358b"/><stop offset="0.745" stop-color="#3d358b"/><stop offset="0.775" stop-color="#3e3891"/><stop offset="0.825" stop-color="#3e3891"/><stop offset="0.855" stop-color="#3f3b97"/><stop offset="0.905" stop-color="#3f3b97"/><stop offset="0.935" stop-color="#3f3e9c"/><stop offset="1" stop-color="#3f3e9c"/></linearGradient><linearGradient id="r59" gradientUnits="userSpaceOnUse" x1="115.4" x2="411.1"><stop offset="0" stop-color="#321543"/><stop offset="0.025" stop-color="#321543"/><stop offset="0.045" stop-color="#33184a"/><stop offset="0.075" stop-color="#33184a"/><stop offset="0.095" stop-color="#341b51"/><stop offset="0.135" stop-color="#341b51"/><stop offset="0.155" stop-color="#351e58"/><stop offset="0.195" stop-color="#351e58"/><stop offset="0.215" stop-color="#36215f"/><stop offset="0.265" stop-color="#36215f"/><stop offset="0.285" stop-color="#372466"/><stop offset="0.325" stop-color="#372466"/><stop offset="0.345" stop-color="#38276d"/><stop offset="0.395" stop-color="#38276d"/><stop offset="0.415" stop-color="#392a73"/><stop offset="0.465" stop-color="#392a73"/><stop offset="0.485" stop-color="#3a2d79"/><stop offset="0.535" stop-color="#3a2d79"/><stop offset="0.555" stop-color="#3b2f80"/><stop offset="0.605" stop-color="#3b2f80"/><stop offset="0.625" stop-color="#3c3286"/><stop offset="0.685" stop-color="#3c3286"/><stop offset="0.715" stop-color="#3d358b"/><stop offset="0.765" stop-color="#3d358b"/><stop offset="0.795" stop-color="#3e3891"/><stop offset="0.845" stop-color="#3e3891"/><stop offset="0.875" stop-color="#3f3b97"/><stop offset="0.925" stop-color="#3f3b97"/><stop offset="0.955" stop-color="#3f3e9c"/><stop offset="1" stop-color="#3f3e9c"/></linearGradient><linearGradient id="r60" gradientUnits="userSpaceOnUse" x1="113.4" x2="409.1"><stop offset="0" stop-color="#321543"/><stop offset="0.025" stop-color="#321543"/><stop offset="0.045" stop-color="#33184a"/><stop offset="0.075" stop-color="#33184a"/><stop offset="0.095" stop-color="#341b51"/><stop offset="0.135" stop-color="#341b51"/><stop offset="0.155" stop-color="#351e58"/><stop offset="0.205" stop-color="#351e58"/><stop offset="0.225" stop-color="#36215f"/><stop offset="0.275" stop-color="#36215f"/><stop offset="0.295" stop-color="#372466"/><stop offset="0.335" stop-color="#372466"/><stop offset="0.355" stop-color="#38276d"/><stop offset="0.405" stop-color="#38276d"/><stop offset="0.425" stop-color="#392a73"/><stop offset="0.475" stop-color="#392a73"/><stop offset="0.495" stop-color="#3a2d79"/><stop offset="0.545" stop-color="#3a2d79"/><stop offset="0.565" stop-color="#3b2f80"/><stop offset="0.615" stop-color="#3b2f80"/><stop offset="0.635" stop-color="#3c3286"/><stop offset="0.695" stop-color="#3c3286"/><stop offset="0.725" stop-color="#3d358b"/><stop offset="0.775" stop-color="#3d358b"/><stop offset="0.805" stop-color="#3e3891"/><stop offset="0.865" stop-color="#3e3891"/><stop offset="0.895" stop-color="#3f3b97"/><stop offset="0.945" stop-color="#3f3b97"/><stop offset="0.975" stop-color="#3f3e9c"/><stop offset="1" stop-color="#3f3e9c"/></linearGradient><linearGradient id="r61" gradientUnits="userSpaceOnUse" x1="111.4" x2="407.1"><stop offset="0" stop-color="#321543"/><stop offset="0.035" stop-color="#321543"/><stop offset="0.055" stop-color="#33184a"/><stop offset="0.085" stop-color="#33184a"/><stop offset="0.105" stop-color="#341b51"/><stop offset="0.145" stop-color="#341b51"/><stop offset="0.165" stop-color="#351e58"/><stop offset="0.215" stop-color="#351e58"/><stop offset="0.235" stop-color="#36215f"/><stop offset="0.275" stop-color="#36215f"/><stop offset="0.295" stop-color="#372466"/><stop offset="0.345" stop-color="#372466"/><stop offset="0.365" stop-color="#38276d"/><stop offset="0.415" stop-color="#38276d"/><stop offset="0.435" stop-color="#392a73"/><stop offset="0.485" stop-color="#392a73"/><stop offset="0.505" stop-color="#3a2d79"/><stop offset="0.555" stop-color="#3a2d79"/><stop offset="0.575" stop-color="#3b2f80"/><stop offset="0.635" stop-color="#3b2f80"/><stop offset="0.655" stop-color="#3c3286"/><stop offset="0.715" stop-color="#3c3286"/><stop offset="0.745" stop-color="#3d358b"/><stop offset="0.795" stop-color="#3d358b"/><stop offset="0.825" stop-color="#3e3891"/><stop offset="0.885" stop-color="#3e3891"/><stop offset="0.915" stop-color="#3f3b97"/><stop offset="0.975" stop-color="#3f3b97"/><stop offset="1" stop-color="#3f3e9c"/></linearGradient><linearGradient id="r62" gradientUnits="userSpaceOnUse" x1="109.5" x2="405.1"><stop offset="0" stop-color="#321543"/><stop offset="0.035" stop-color="#321543"/><stop offset="0.055" stop-color="#33184a"/><stop offset="0.085" stop-color="#33184a"/><stop offset="0.105" stop-color="#341b51"/><stop offset="0.145" stop-color="#341b51"/><stop offset="0.165" stop-color="#351e58"/><stop offset="0.215" stop-color="#351e58"/><stop offset="0.235" stop-color="#36215f"/><stop offset="0.285" stop-color="#36215f"/><stop offset="0.305" stop-color="#372466"/><stop offset="0.355" stop-color="#372466"/><stop offset="0.375" stop-color="#38276d"/><stop offset="0.425" stop-color="#38276d"/><stop offset="0.445" stop-color="#392a73"/><stop offset="0.495" stop-color="#392a73"/><stop offset="0.515" stop-color="#3a2d79"/><stop offset="0.575" stop-color="#3a2d79"/><stop offset="0.595" stop-color="#3b2f80"/><stop offset="0.645" stop-color="#3b2f80"/><stop offset="0.665" stop-color="#3c3286"/><stop offset="0.725" stop-color="#3c3286"/><stop offset="0.755" stop-color="#3d358b"/><stop offset="0.815" stop-color="#3d358b"/><stop offset="0.845" stop-color="#3e3891"/><stop offset="0.905" stop-color="#3e3891"/><stop offset="0.935" stop-color="#3f3b97"/><stop offset="1" stop-color="#3f3b97"/></linearGradient><linearGradient id="r63" gradientUnits="userSpaceOnUse" x1="107.5" x2="403"><stop offset="0" stop-color="#30123b"/><stop offset="0.025" stop-color="#321543"/><stop offset="0.065" stop-color="#33184a"/><stop offset="0.095" stop-color="#33184a"/><stop offset="0.115" stop-color="#341b51"/><stop offset="0.155" stop-color="#341b51"/><stop offset="0.175" stop-color="#351e58"/><stop offset="0.225" stop-color="#351e58"/><stop offset="0.245" stop-color="#36215f"/><stop offset="0.295" stop-color="#36215f"/><stop offset="0.315" stop-color="#372466"/><stop offset="0.365" stop-color="#372466"/><stop offset="0.385" stop-color="#38276d"/><stop offset="0.435" stop-color="#38276d"/><stop offset="0.455" stop-color="#392a73"/><stop offset="0.505" stop-color="#392a73"/><stop offset="0.525" stop-color="#3a2d79"/><stop offset="0.585" stop-color="#3a2d79"/><stop offset="0.605" stop-color="#3b2f80"/><stop offset="0.665" stop-color="#3b2f80"/><stop offset="0.685" stop-color="#3c3286"/><stop offset="0.745" stop-color="#3c3286"/><stop offset="0.775" stop-color="#3d358b"/><stop offset="0.825" stop-color="#3d358b"/><stop offset="0.855" stop-color="#3e3891"/><stop offset="0.915" stop-color="#3e3891"/><stop offset="0.945" stop-color="#3f3b97"/><stop offset="1" stop-color="#3f3b97"/></linearGradient><linearGradient id="r64" gradientUnits="userSpaceOnUse" x1="105.5" x2="401"><stop offset="0" stop-color="#30123b"/><stop offset="0.025" stop-color="#321543"/><stop offset="0.065" stop-color="#33184a"/><stop offset="0.095" stop-color="#33184a"/><stop offset="0.115" stop-color="#341b51"/><stop offset="0.165" stop-color="#341b51"/><stop offset="0.185" stop-color="#351e58"/><stop offset="0.235" stop-color="#351e58"/><stop offset="0.255" stop-color="#36215f"/><stop offset="0.305" stop-color="#36215f"/><stop offset="0.325" stop-color="#372466"/><stop offset="0.375" stop-color="#372466"/><stop offset="0.395" stop-color="#38276d"/><stop offset="0.445" stop-color="#38276d"/><stop offset="0.465" stop-color="#392a73"/><stop offset="0.515" stop-color="#392a73"/><stop offset="0.535" stop-color="#3a2d79"/><stop offset="0.595" stop-color="#3a2d79"/><stop offset="0.615" stop-color="#3b2f80"/><stop offset="0.675" stop-color="#3b2f80"/><stop offset="0.695" stop-color="#3c3286"/><stop offset="0.755" stop-color="#3c3286"/><stop offset="0.785" stop-color="#3d358b"/><stop offset="0.845" stop-color="#3d358b"/><stop offset="0.875" stop-color="#3e3891"/><stop offset="0.935" stop-color="#3e3891"/><stop offset="0.965" stop-color="#3f3b97"/><stop offset="1" stop-color="#3f3b97"/></linearGradient><linearGradient id="r65" gradientUnits="userSpaceOnUse" x1="103.5" x2="399"><stop offset="0" stop-color="#30123b"/><stop offset="0.025" stop-color="#321543"/><stop offset="0.045" stop-color="#321543"/><stop offset="0.065" stop-color="#33184a"/><stop offset="0.105" stop-color="#33184a"/><stop offset="0.125" stop-color="#341b51"/><stop offset="0.165" stop-color="#341b51"/><stop offset="0.185" stop-color="#351e58"/><stop offset="0.235" stop-color="#351e58"/><stop offset="0.255" stop-color="#36215f"/><stop offset="0.305" stop-color="#36215f"/><stop offset="0.325" stop-color="#372466"/><stop offset="0.385" stop-color="#372466"/><stop offset="0.405" stop-color="#38276d"/><stop offset="0.455" stop-color="#38276d"/><stop offset="0.475" stop-color="#392a73"/><stop offset="0.525" stop-color="#392a73"/><stop offset="0.545" stop-color="#3a2d79"/><stop offset="0.605" stop-color="#3a2d79"/><stop offset="0.625" stop-color="#3b2f80"/><stop offset="0.685" stop-color="#3b2f80"/><stop offset="0.705" stop-color="#3c3286"/><stop offset="0.775" stop-color="#3c3286"/><stop offset="0.805" stop-color="#3d358b"/><stop offset="0.865" stop-color="#3d358b"/><stop offset="0.895" stop-color="#3e3891"/><stop offset="0.955" stop-color="#3e3891"/><stop offset="0.985" stop-color="#3f3b97"/><stop offset="1" stop-color="#3f3b97"/></linearGradient><linearGradient id="r66" gradientUnits="userSpaceOnUse" x1="101.5" x2="397"><stop offset="0" stop-color="#30123b"/><stop offset="0.025" stop-color="#321543"/><stop offset="0.045" stop-color="#321543"/><stop offset="0.065" stop-color="#33184a"/><stop offset="0.105" stop-color="#33184a"/><stop offset="0.125" stop-color="#341b51"/><stop offset="0.175" stop-color="#341b51"/><stop offset="0.195" stop-color="#351e58"/><stop offset="0.245" stop-color="#351e58"/><stop offset="0.265" stop-color="#36215f"/><stop offset="0.315" stop-color="#36215f"/><stop offset="0.335" stop-color="#372466"/><stop offset="0.395" stop-color="#372466"/><stop offset="0.415" stop-color="#38276d"/><stop offset="0.465" stop-color="#38276d"/><stop offset="0.485" stop-color="#392a73"/><stop offset="0.535" stop-color="#392a73"/><stop offset="0.555" stop-color="#3a2d79"/><stop offset="0.615" stop-color="#3a2d79"/><stop offset="0.635" stop-color="#3b2f80"/><stop offset="0.705" stop-color="#3b2f80"/><stop offset="0.725" stop-color="#3c3286"/><stop offset="0.785" stop-color="#3c3286"/><stop offset="0.815" stop-color="#3d358b"/><stop offset="0.885" stop-color="#3d358b"/><stop offset="0.915" stop-color="#3e3891"/><stop offset="0.975" stop-color="#3e3891"/><stop offset="1" stop-color="#3f3b97"/></linearGradient><linearGradient id="r67" gradientUnits="userSpaceOnUse" x1="99.5" x2="395"><stop offset="0" stop-color="#30123b"/><stop offset="0.025" stop-color="#321543"/><stop offset="0.045" stop-color="#321543"/><stop offset="0.065" stop-color="#33184a"/><stop offset="0.105" stop-color="#33184a"/><stop offset="0.125" stop-color="#341b51"/><stop offset="0.175" stop-color="#341b51"/><stop offset="0.195" stop-color="#351e58"/><stop offset="0.255" stop-color="#351e58"/><stop offset="0.275" stop-color="#36215f"/><stop offset="0.325" stop-color="#36215f"/><stop offset="0.345" stop-color="#372466"/><stop offset="0.395" stop-color="#372466"/><stop offset="0.415" stop-color="#38276d"/><stop offset="0.475" stop-color="#38276d"/><stop offset="0.495" stop-color="#392a73"/><stop offset="0.555" stop-color="#392a73"/><stop offset="0.575" stop-color="#3a2d79"/><stop offset="0.635" stop-color="#3a2d79"/><stop offset="0.655" stop-color="#3b2f80"/><stop offset="0.715" stop-color="#3b2f80"/><stop offset="0.735" stop-color="#3c3286"/><stop offset="0.805" stop-color="#3c3286"/><stop offset="0.835" stop-color="#3d358b"/><stop offset="0.895" stop-color="#3d358b"/><stop offset="0.925" stop-color="#3e3891"/><stop offset="1" stop-color="#3e3891"/></linearGradient><linearGradient id="r68" gradientUnits="userSpaceOnUse" x1="97.6" x2="393"><stop offset="0" stop-color="#30123b"/><stop offset="0.025" stop-color="#321543"/><stop offset="0.055" stop-color="#321543"/><stop offset="0.075" stop-color="#33184a"/><stop offset="0.115" stop-color="#33184a"/><stop offset="0.135" stop-color="#341b51"/><stop offset="0.185" stop-color="#341b51"/><stop offset="0.205" stop-color="#351e58"/><stop offset="0.255" stop-color="#351e58"/><stop offset="0.275" stop-color="#36215f"/><stop offset="0.335" stop-color="#36215f"/><stop offset="0.355" stop-color="#372466"/><stop offset="0.405" stop-color="#372466"/><stop offset="0.425" stop-color="#38276d"/><stop offset="0.485" stop-color="#38276d"/><stop offset="0.505" stop-color="#392a73"/><stop offset="0.565" stop-color="#392a73"/><stop offset="0.585" stop-color="#3a2d79"/><stop offset="0.645" stop-color="#3a2d79"/><stop offset="0.665" stop-color="#3b2f80"/><stop offset="0.725" stop-color="#3b2f80"/><stop offset="0.745" stop-color="#3c3286"/><stop offset="0.815" stop-color="#3c3286"/><stop offset="0.845" stop-color="#3d358b"/><stop offset="0.915" stop-color="#3d358b"/><stop offset="0.945" stop-color="#3e3891"/><stop offset="1" stop-color="#3e3891"/></linearGradient><linearGradient id="r69" gradientUnits="userSpaceOnUse" x1="95.6" x2="391"><stop offset="0" stop-color="#30123b"/><stop offset="0.015" stop-color="#30123b"/><stop offset="0.035" stop-color="#321543"/><stop offset="0.055" stop-color="#321543"/><stop offset="0.075" stop-color="#33184a"/><stop offset="0.115" stop-color="#33184a"/><stop offset="0.135" stop-color="#341b51"/><stop offset="0.195" stop-color="#341b51"/><stop offset="0.215" stop-color="#351e58"/><stop offset="0.265" stop-color="#351e58"/><stop offset="0.285" stop-color="#36215f"/><stop offset="0.345" stop-color="#36215f"/><stop offset="0.365" stop-color="#372466"/><stop offset="0.415" stop-color="#372466"/><stop offset="0.435" stop-color="#38276d"/><stop offset="0.495" stop-color="#38276d"/><stop offset="0.515" stop-color="#392a73"/><stop offset="0.575" stop-color="#392a73"/><stop offset="0.595" stop-color="#3a2d79"/><stop offset="0.655" stop-color="#3a2d79"/><stop offset="0.675" stop-color="#3b2f80"/><stop offset="0.745" stop-color="#3b2f80"/><stop offset="0.765" stop-color="#3c3286"/><stop offset="0.835" stop-color="#3c3286"/><stop offset="0.865" stop-color="#3d358b"/><stop offset="0.925" stop-color="#3d358b"/><stop offset="0.955" stop-color="#3e3891"/><stop offset="1" stop-color="#3e3891"/></linearGradient><linearGradient id="r70" gradientUnits="userSpaceOnUse" x1="93.6" x2="389"><stop offset="0" stop-color="#30123b"/><stop offset="0.015" stop-color="#30123b"/><stop offset="0.035" stop-color="#321543"/><stop offset="0.055" stop-color="#321543"/><stop offset="0.075" stop-color="#33184a"/><stop offset="0.125" stop-color="#33184a"/><stop offset="0.145" stop-color="#341b51"/><stop offset="0.195" stop-color="#341b51"/><stop offset="0.215" stop-color="#351e58"/><stop offset="0.275" stop-color="#351e58"/><stop offset="0.295" stop-color="#36215f"/><stop offset="0.345" stop-color="#36215f"/><stop offset="0.365" stop-color="#372466"/><stop offset="0.425" stop-color="#372466"/><stop offset="0.445" stop-color="#38276d"/><stop offset="0.505" stop-color="#38276d"/><stop offset="0.525" stop-color="#392a73"/><stop offset="0.585" stop-color="#392a73"/><stop offset="0.605" stop-color="#3a2d79"/><stop offset="0.665" stop-color="#3a2d79"/><stop offset="0.685" stop-color="#3b2f80"/><stop offset="0.755" stop-color="#3b2f80"/><stop offset="0.775" stop-color="#3c3286"/><stop offset="0.845" stop-color="#3c3286"/><stop offset="0.875" stop-color="#3d358b"/><stop offset="0.945" stop-color="#3d358b"/><stop offset="0.975" stop-color="#3e3891"/><stop offset="1" stop-color="#3e3891"/></linearGradient><linearGradient id="r71" gradientUnits="userSpaceOnUse" x1="91.6" x2="386.9"><stop offset="0" stop-color="#30123b"/><stop offset="0.015" stop-color="#30123b"/><stop offset="0.035" stop-color="#321543"/><stop offset="0.055" stop-color="#321543"/><stop offset="0.075" stop-color="#33184a"/><stop offset="0.125" stop-color="#33184a"/><stop offset="0.145" stop-color="#341b51"/><stop offset="0.205" stop-color="#341b51"/><stop offset="0.225" stop-color="#351e58"/><stop offset="0.275" stop-color="#351e58"/><stop offset="0.295" stop-color="#36215f"/><stop offset="0.355" stop-color="#36215f"/><stop offset="0.375" stop-color="#372466"/><stop offset="0.435" stop-color="#372466"/><stop offset="0.455" stop-color="#38276d"/><stop offset="0.515" stop-color="#38276d"/><stop offset="0.535" stop-color="#392a73"/><stop offset="0.595" stop-color="#392a73"/><stop offset="0.615" stop-color="#3a2d79"/><stop offset="0.675" stop-color="#3a2d79"/><stop offset="0.695" stop-color="#3b2f80"/><stop offset="0.765" stop-color="#3b2f80"/><stop offset="0.785" stop-color="#3c3286"/><stop offset="0.865" stop-color="#3c3286"/><stop offset="0.895" stop-color="#3d358b"/><stop offset="0.955" stop-color="#3d358b"/><stop offset="0.985" stop-color="#3e3891"/><stop offset="1" stop-color="#3e3891"/></linearGradient><linearGradient id="r72" gradientUnits="userSpaceOnUse" x1="89.6" x2="384.9"><stop offset="0" stop-color="#30123b"/><stop offset="0.015" stop-color="#30123b"/><stop offset="0.035" stop-color="#321543"/><stop offset="0.065" stop-color="#321543"/><stop offset="0.085" stop-color="#33184a"/><stop offset="0.135" stop-color="#33184a"/><stop offset="0.155" stop-color="#341b51"/><stop offset="0.205" stop-color="#341b51"/><stop offset="0.225" stop-color="#351e58"/><stop offset="0.285" stop-color="#351e58"/><stop offset="0.305" stop-color="#36215f"/><stop offset="0.365" stop-color="#36215f"/><stop offset="0.385" stop-color="#372466"/><stop offset="0.435" stop-color="#372466"/><stop offset="0.455" stop-color="#38276d"/><stop offset="0.515" stop-color="#38276d"/><stop offset="0.535" stop-color="#392a73"/><stop offset="0.605" stop-color="#392a73"/><stop offset="0.625" stop-color="#3a2d79"/><stop offset="0.685" stop-color="#3a2d79"/><stop offset="0.705" stop-color="#3b2f80"/><stop offset="0.775" stop-color="#3b2f80"/><stop offset="0.795" stop-color="#3c3286"/><stop offset="0.875" stop-color="#3c3286"/><stop offset="0.905" stop-color="#3d358b"/><stop offset="0.975" stop-color="#3d358b"/><stop offset="1" stop-color="#3e3891"/></linearGradient><linearGradient id="r73" gradientUnits="userSpaceOnUse" x1="87.6" x2="382.9"><stop offset="0" stop-color="#30123b"/><stop offset="0.015" stop-color="#30123b"/><stop offset="0.035" stop-color="#321543"/><stop offset="0.065" stop-color="#321543"/><stop offset="0.085" stop-color="#33184a"/><stop offset="0.135" stop-color="#33184a"/><stop offset="0.155" stop-color="#341b51"/><stop offset="0.215" stop-color="#341b51"/><stop offset="0.235" stop-color="#351e58"/><stop offset="0.295" stop-color="#351e58"/><stop offset="0.315" stop-color="#36215f"/><stop offset="0.365" stop-color="#36215f"/><stop offset="0.385" stop-color="#372466"/><stop offset="0.445" stop-color="#372466"/><stop offset="0.465" stop-color="#38276d"/><stop offset="0.525" stop-color="#38276d"/><stop offset="0.545" stop-color="#392a73"/><stop offset="0.615" stop-color="#392a73"/><stop offset="0.635" stop-color="#3a2d79"/><stop offset="0.705" stop-color="#3a2d79"/><stop offset="0.725" stop-color="#3b2f80"/><stop offset="0.795" stop-color="#3b2f80"/><stop offset="0.815" stop-color="#3c3286"/><stop offset="0.895" stop-color="#3c3286"/><stop offset="0.925" stop-color="#3d358b"/><stop offset="1" stop-color="#3d358b"/></linearGradient><linearGradient id="r74" gradientUnits="userSpaceOnUse" x1="85.6" x2="380.9"><stop offset="0" stop-color="#30123b"/><stop offset="0.015" stop-color="#30123b"/><stop offset="0.035" stop-color="#321543"/><stop offset="0.075" stop-color="#321543"/><stop offset="0.095" stop-color="#33184a"/><stop offset="0.145" stop-color="#33184a"/><stop offset="0.165" stop-color="#341b51"/><stop offset="0.215" stop-color="#341b51"/><stop offset="0.235" stop-color="#351e58"/><stop offset="0.295" stop-color="#351e58"/><stop offset="0.315" stop-color="#36215f"/><stop offset="0.375" stop-color="#36215f"/><stop offset="0.395" stop-color="#372466"/><stop offset="0.455" stop-color="#372466"/><stop offset="0.475" stop-color="#38276d"/><stop offset="0.535" stop-color="#38276d"/><stop offset="0.555" stop-color="#392a73"/><stop offset="0.625" stop-color="#392a73"/><stop offset="0.645" stop-color="#3a2d79"/><stop offset="0.715" stop-color="#3a2d79"/><stop offset="0.735" stop-color="#3b2f80"/><stop offset="0.805" stop-color="#3b2f80"/><stop offset="0.825" stop-color="#3c3286"/><stop offset="0.905" stop-color="#3c3286"/><stop offset="0.935" stop-color="#3d358b"/><stop offset="1" stop-color="#3d358b"/></linearGradient><linearGradient id="r75" gradientUnits="userSpaceOnUse" x1="83.7" x2="378.9"><stop offset="0" stop-color="#30123b"/><stop offset="0.015" stop-color="#30123b"/><stop offset="0.035" stop-color="#321543"/><stop offset="0.075" stop-color="#321543"/><stop offset="0.095" stop-color="#33184a"/><stop offset="0.145" stop-color="#33184a"/><stop offset="0.165" stop-color="#341b51"/><stop offset="0.225" stop-color="#341b51"/><stop offset="0.245" stop-color="#351e58"/><stop offset="0.305" stop-color="#351e58"/><stop offset="0.325" stop-color="#36215f"/><stop offset="0.385" stop-color="#36215f"/><stop offset="0.405" stop-color="#372466"/><stop offset="0.465" stop-color="#372466"/><stop offset="0.485" stop-color="#38276d"/><stop offset="0.545" stop-color="#38276d"/><stop offset="0.565" stop-color="#392a73"/><stop offset="0.635" stop-color="#392a73"/><stop offset="0.655" stop-color="#3a2d79"/><stop offset="0.725" stop-color="#3a2d79"/><stop offset="0.745" stop-color="#3b2f80"/><stop offset="0.815" stop-color="#3b2f80"/><stop offset="0.835" stop-color="#3c3286"/><stop offset="0.915" stop-color="#3c3286"/><stop offset="0.945" stop-color="#3d358b"/><stop offset="1" stop-color="#3d358b"/></linearGradient><linearGradient id="r76" gradientUnits="userSpaceOnUse" x1="81.7" x2="376.9"><stop offset="0" stop-color="#30123b"/><stop offset="0.025" stop-color="#30123b"/><stop offset="0.045" stop-color="#321543"/><stop offset="0.075" stop-color="#321543"/><stop offset="0.095" stop-color="#33184a"/><stop offset="0.155" stop-color="#33184a"/><stop offset="0.175" stop-color="#341b51"/><stop offset="0.235" stop-color="#341b51"/><stop offset="0.255" stop-color="#351e58"/><stop offset="0.305" stop-color="#351e58"/><stop offset="0.325" stop-color="#36215f"/><stop offset="0.395" stop-color="#36215f"/><stop offset="0.415" stop-color="#372466"/><stop offset="0.475" stop-color="#372466"/><stop offset="0.495" stop-color="#38276d"/><stop offset="0.555" stop-color="#38276d"/><stop offset="0.575" stop-color="#392a73"/><stop offset="0.645" stop-color="#392a73"/><stop offset="0.665" stop-color="#3a2d79"/><stop offset="0.735" stop-color="#3a2d79"/><stop offset="0.755" stop-color="#3b2f80"/><stop offset="0.835" stop-color="#3b2f80"/><stop offset="0.855" stop-color="#3c3286"/><stop offset="0.935" stop-color="#3c3286"/><stop offset="0.965" stop-color="#3d358b"/><stop offset="1" stop-color="#3d358b"/></linearGradient><linearGradient id="r77" gradientUnits="userSpaceOnUse" x1="79.7" x2="374.9"><stop offset="0" stop-color="#30123b"/><stop offset="0.025" stop-color="#30123b"/><stop offset="0.045" stop-color="#321543"/><stop offset="0.085" stop-color="#321543"/><stop offset="0.105" stop-color="#33184a"/><stop offset="0.155" stop-color="#33184a"/><stop offset="0.175" stop-color="#341b51"/><stop offset="0.235" stop-color="#341b51"/><stop offset="0.255" stop-color="#351e58"/><stop offset="0.315" stop-color="#351e58"/><stop offset="0.335" stop-color="#36215f"/><stop offset="0.395" stop-color="#36215f"/><stop offset="0.415" stop-color="#372466"/><stop offset="0.475" stop-color="#372466"/><stop offset="0.495" stop-color="#38276d"/><stop offset="0.565" stop-color="#38276d"/><stop offset="0.585" stop-color="#392a73"/><stop offset="0.655" stop-color="#392a73"/><stop offset="0.675" stop-color="#3a2d79"/><stop offset="0.745" stop-color="#3a2d79"/><stop offset="0.765" stop-color="#3b2f80"/><stop offset="0.845" stop-color="#3b2f80"/><stop offset="0.865" stop-color="#3c3286"/><stop offset="0.945" stop-color="#3c3286"/><stop offset="0.975" stop-color="#3d358b"/><stop offset="1" stop-color="#3d358b"/></linearGradient><linearGradient id="r78" gradientUnits="userSpaceOnUse" x1="77.7" x2="372.9"><stop offset="0" stop-color="#30123b"/><stop offset="0.025" stop-color="#30123b"/><stop offset="0.045" stop-color="#321543"/><stop offset="0.085" stop-color="#321543"/><stop offset="0.105" stop-color="#33184a"/><stop offset="0.165" stop-color="#33184a"/><stop offset="0.185" stop-color="#341b51"/><stop offset="0.245" stop-color="#341b51"/><stop offset="0.265" stop-color="#351e58"/><stop offset="0.325" stop-color="#351e58"/><stop offset="0.345" stop-color="#36215f"/><stop offset="0.405" stop-color="#36215f"/><stop offset="0.425" stop-color="#372466"/><stop offset="0.485" stop-color="#372466"/><stop offset="0.505" stop-color="#38276d"/><stop offset="0.575" stop-color="#38276d"/><stop offset="0.595" stop-color="#392a73"/><stop offset="0.665" stop-color="#392a73"/><stop offset="0.685" stop-color="#3a2d79"/><stop offset="0.755" stop-color="#3a2d79"/><stop offset="0.775" stop-color="#3b2f80"/><stop offset="0.855" stop-color="#3b2f80"/><stop offset="0.875" stop-color="#3c3286"/><stop offset="0.955" stop-color="#3c3286"/><stop offset="0.985" stop-color="#3d358b"/><stop offset="1" stop-color="#3d358b"/></linearGradient><linearGradient id="r79" gradientUnits="userSpaceOnUse" x1="75.7" x2="370.9"><stop offset="0" stop-color="#30123b"/><stop offset="0.025" stop-color="#30123b"/><stop offset="0.045" stop-color="#321543"/><stop offset="0.085" stop-color="#321543"/><stop offset="0.105" stop-color="#33184a"/><stop offset="0.165" stop-color="#33184a"/><stop offset="0.185" stop-color="#341b51"/><stop offset="0.245" stop-color="#341b51"/><stop offset="0.265" stop-color="#351e58"/><stop offset="0.325" stop-color="#351e58"/><stop offset="0.345" stop-color="#36215f"/><stop offset="0.415" stop-color="#36215f"/><stop offset="0.435" stop-color="#372466"/><stop offset="0.495" stop-color="#372466"/><stop offset="0.515" stop-color="#38276d"/><stop offset="0.585" stop-color="#38276d"/><stop offset="0.605" stop-color="#392a73"/><stop offset="0.675" stop-color="#392a73"/><stop offset="0.695" stop-color="#3a2d79"/><stop offset="0.765" stop-color="#3a2d79"/><stop offset="0.785" stop-color="#3b2f80"/><stop offset="0.865" stop-color="#3b2f80"/><stop offset="0.885" stop-color="#3c3286"/><stop offset="0.975" stop-color="#3c3286"/><stop offset="1" stop-color="#3d358b"/></linearGradient><linearGradient id="r80" gradientUnits="userSpaceOnUse" x1="73.7" x2="368.9"><stop offset="0" stop-color="#30123b"/><stop offset="0.025" stop-color="#30123b"/><stop offset="0.045" stop-color="#321543"/><stop offset="0.095" stop-color="#321543"/><stop offset="0.115" stop-color="#33184a"/><stop offset="0.175" stop-color="#33184a"/><stop offset="0.195" stop-color="#341b51"/><stop offset="0.255" stop-color="#341b51"/><stop offset="0.275" stop-color="#351e58"/><stop offset="0.335" stop-color="#351e58"/><stop offset="0.355" stop-color="#36215f"/><stop offset="0.415" stop-color="#36215f"/><stop offset="0.435" stop-color="#372466"/><stop offset="0.505" stop-color="#372466"/><stop offset="0.525" stop-color="#38276d"/><stop offset="0.585" stop-color="#38276d"/><stop offset="0.605" stop-color="#392a73"/><stop offset="0.685" stop-color="#392a73"/><stop offset="0.705" stop-color="#3a2d79"/><stop offset="0.775" stop-color="#3a2d79"/><stop offset="0.795" stop-color="#3b2f80"/><stop offset="0.885" stop-color="#3b2f80"/><stop offset="0.905" stop-color="#3c3286"/><stop offset="0.985" stop-color="#3c3286"/><stop offset="1" stop-color="#3d358b"/></linearGradient><linearGradient id="r81" gradientUnits="userSpaceOnUse" x1="71.8" x2="366.9"><stop offset="0" stop-color="#30123b"/><stop offset="0.035" stop-color="#30123b"/><stop offset="0.055" stop-color="#321543"/><stop offset="0.095" stop-color="#321543"/><stop offset="0.115" stop-color="#33184a"/><stop offset="0.175" stop-color="#33184a"/><stop offset="0.195" stop-color="#341b51"/><stop offset="0.255" stop-color="#341b51"/><stop offset="0.275" stop-color="#351e58"/><stop offset="0.345" stop-color="#351e58"/><stop offset="0.365" stop-color="#36215f"/><stop offset="0.425" stop-color="#36215f"/><stop offset="0.445" stop-color="#372466"/><stop offset="0.505" stop-color="#372466"/><stop offset="0.525" stop-color="#38276d"/><stop offset="0.595" stop-color="#38276d"/><stop offset="0.615" stop-color="#392a73"/><stop offset="0.695" stop-color="#392a73"/><stop offset="0.715" stop-color="#3a2d79"/><stop offset="0.785" stop-color="#3a2d79"/><stop offset="0.805" stop-color="#3b2f80"/><stop offset="0.895" stop-color="#3b2f80"/><stop offset="0.915" stop-color="#3c3286"/><stop offset="1" stop-color="#3c3286"/></linearGradient><linearGradient id="r82" gradientUnits="userSpaceOnUse" x1="69.8" x2="364.9"><stop offset="0" stop-color="#30123b"/><stop offset="0.035" stop-color="#30123b"/><stop offset="0.055" stop-color="#321543"/><stop offset="0.105" stop-color="#321543"/><stop offset="0.125" stop-color="#33184a"/><stop offset="0.175" stop-color="#33184a"/><stop offset="0.195" stop-color="#341b51"/><stop offset="0.265" stop-color="#341b51"/><stop offset="0.285" stop-color="#351e58"/><stop offset="0.345" stop-color="#351e58"/><stop offset="0.365" stop-color="#36215f"/><stop offset="0.435" stop-color="#36215f"/><stop offset="0.455" stop-color="#372466"/><stop offset="0.515" stop-color="#372466"/><stop offset="0.535" stop-color="#38276d"/><stop offset="0.605" stop-color="#38276d"/><stop offset="0.625" stop-color="#392a73"/><stop offset="0.705" stop-color="#392a73"/><stop offset="0.725" stop-color="#3a2d79"/><stop offset="0.805" stop-color="#3a2d79"/><stop offset="0.825" stop-color="#3b2f80"/><stop offset="0.905" stop-color="#3b2f80"/><stop offset="0.925" stop-color="#3c3286"/><stop offset="1" stop-color="#3c3286"/></linearGradient><linearGradient id="r83" gradientUnits="userSpaceOnUse" x1="67.8" x2="362.9"><stop offset="0" stop-color="#30123b"/><stop offset="0.035" stop-color="#30123b"/><stop offset="0.055" stop-color="#321543"/><stop offset="0.105" stop-color="#321543"/><stop offset="0.125" stop-color="#33184a"/><stop offset="0.185" stop-color="#33184a"/><stop offset="0.205" stop-color="#341b51"/><stop offset="0.265" stop-color="#341b51"/><stop offset="0.285" stop-color="#351e58"/><stop offset="0.355" stop-color="#351e58"/><stop offset="0.375" stop-color="#36215f"/><stop offset="0.435" stop-color="#36215f"/><stop offset="0.455" stop-color="#372466"/><stop offset="0.525" stop-color="#372466"/><stop offset="0.545" stop-color="#38276d"/><stop offset="0.615" stop-color="#38276d"/><stop offset="0.635" stop-color="#392a73"/><stop offset="0.715" stop-color="#392a73"/><stop offset="0.735" stop-color="#3a2d79"/><stop offset="0.815" stop-color="#3a2d79"/><stop offset="0.835" stop-color="#3b2f80"/><stop offset="0.915" stop-color="#3b2f80"/><stop offset="0.935" stop-color="#3c3286"/><stop offset="1" stop-color="#3c3286"/></linearGradient><linearGradient id="r84" gradientUnits="userSpaceOnUse" x1="65.8" x2="360.9"><stop offset="0" stop-color="#30123b"/><stop offset="0.035" stop-color="#30123b"/><stop offset="0.055" stop-color="#321543"/><stop offset="0.105" stop-color="#321543"/><stop offset="0.125" stop-color="#33184a"/><stop offset="0.185" stop-color="#33184a"/><stop offset="0.205" stop-color="#341b51"/><stop offset="0.275" stop-color="#341b51"/><stop offset="0.295" stop-color="#351e58"/><stop offset="0.355" stop-color="#351e58"/><stop offset="0.375" stop-color="#36215f"/><stop offset="0.445" stop-color="#36215f"/><stop offset="0.465" stop-color="#372466"/><stop offset="0.535" stop-color="#372466"/><stop offset="0.555" stop-color="#38276d"/><stop offset="0.625" stop-color="#38276d"/><stop offset="0.645" stop-color="#392a73"/><stop offset="0.715" stop-color="#392a73"/><stop offset="0.735" stop-color="#3a2d79"/><stop offset="0.825" stop-color="#3a2d79"/><stop offset="0.845" stop-color="#3b2f80"/><stop offset="0.925" stop-color="#3b2f80"/><stop offset="0.945" stop-color="#3c3286"/><stop offset="1" stop-color="#3c3286"/></linearGradient><linearGradient id="r85" gradientUnits="userSpaceOnUse" x1="63.8" x2="358.9"><stop offset="0" stop-color="#30123b"/><stop offset="0.045" stop-color="#30123b"/><stop offset="0.065" stop-color="#321543"/><stop offset="0.115" stop-color="#321543"/><stop offset="0.135" stop-color="#33184a"/><stop offset="0.195" stop-color="#33184a"/><stop offset="0.215" stop-color="#341b51"/><stop offset="0.275" stop-color="#341b51"/><stop offset="0.295" stop-color="#351e58"/><stop offset="0.365" stop-color="#351e58"/><stop offset="0.385" stop-color="#36215f"/><stop offset="0.455" stop-color="#36215f"/><stop offset="0.475" stop-color="#372466"/><stop offset="0.535" stop-color="#372466"/><stop offset="0.555" stop-color="#38276d"/><stop offset="0.635" stop-color="#38276d"/><stop offset="0.655" stop-color="#392a73"/><stop offset="0.725" stop-color="#392a73"/><stop offset="0.745" stop-color="#3a2d79"/><stop offset="0.835" stop-color="#3a2d79"/><stop offset="0.855" stop-color="#3b2f80"/><stop offset="0.935" stop-color="#3b2f80"/><stop offset="0.955" stop-color="#3c3286"/><stop offset="1" stop-color="#3c3286"/></linearGradient><linearGradient id="r86" gradientUnits="userSpaceOnUse" x1="61.8" x2="356.9"><stop offset="0" stop-color="#30123b"/><stop offset="0.045" stop-color="#30123b"/><stop offset="0.065" stop-color="#321543"/><stop offset="0.115" stop-color="#321543"/><stop offset="0.135" stop-color="#33184a"/><stop offset="0.195" stop-color="#33184a"/><stop offset="0.215" stop-color="#341b51"/><stop offset="0.285" stop-color="#341b51"/><stop offset="0.305" stop-color="#351e58"/><stop offset="0.375" stop-color="#351e58"/><stop offset="0.395" stop-color="#36215f"/><stop offset="0.455" stop-color="#36215f"/><stop offset="0.475" stop-color="#372466"/><stop offset="0.545" stop-color="#372466"/><stop offset="0.565" stop-color="#38276d"/><stop offset="0.635" stop-color="#38276d"/><stop offset="0.655" stop-color="#392a73"/><stop offset="0.735" stop-color="#392a73"/><stop offset="0.755" stop-color="#3a2d79"/><stop offset="0.845" stop-color="#3a2d79"/><stop offset="0.865" stop-color="#3b2f80"/><stop offset="0.945" stop-color="#3b2f80"/><stop offset="0.965" stop-color="#3c3286"/><stop offset="1" stop-color="#3c3286"/></linearGradient><linearGradient id="r87" gradientUnits="userSpaceOnUse" x1="59.9" x2="354.9"><stop offset="0" stop-color="#30123b"/><stop offset="0.045" stop-color="#30123b"/><stop offset="0.065" stop-color="#321543"/><stop offset="0.115" stop-color="#321543"/><stop offset="0.135" stop-color="#33184a"/><stop offset="0.205" stop-color="#33184a"/><stop offset="0.225" stop-color="#341b51"/><stop offset="0.285" stop-color="#341b51"/><stop offset="0.305" stop-color="#351e58"/><stop offset="0.375" stop-color="#351e58"/><stop offset="0.395" stop-color="#36215f"/><stop offset="0.465" stop-color="#36215f"/><stop offset="0.485" stop-color="#372466"/><stop offset="0.555" stop-color="#372466"/><stop offset="0.575" stop-color="#38276d"/><stop offset="0.645" stop-color="#38276d"/><stop offset="0.665" stop-color="#392a73"/><stop offset="0.745" stop-color="#392a73"/><stop offset="0.765" stop-color="#3a2d79"/><stop offset="0.855" stop-color="#3a2d79"/><stop offset="0.875" stop-color="#3b2f80"/><stop offset="0.965" stop-color="#3b2f80"/><stop offset="0.985" stop-color="#3c3286"/><stop offset="1" stop-color="#3c3286"/></linearGradient><linearGradient id="r88" gradientUnits="userSpaceOnUse" x1="58.6" x2="352"><stop offset="0" stop-color="#30123b"/><stop offset="0.045" stop-color="#30123b"/><stop offset="0.065" stop-color="#321543"/><stop offset="0.125" stop-color="#321543"/><stop offset="0.145" stop-color="#33184a"/><stop offset="0.205" stop-color="#33184a"/><stop offset="0.225" stop-color="#341b51"/><stop offset="0.295" stop-color="#341b51"/><stop offset="0.315" stop-color="#351e58"/><stop offset="0.385" stop-color="#351e58"/><stop offset="0.405" stop-color="#36215f"/><stop offset="0.475" stop-color="#36215f"/><stop offset="0.495" stop-color="#372466"/><stop offset="0.565" stop-color="#372466"/><stop offset="0.585" stop-color="#38276d"/><stop offset="0.655" stop-color="#38276d"/><stop offset="0.675" stop-color="#392a73"/><stop offset="0.755" stop-color="#392a73"/><stop offset="0.775" stop-color="#3a2d79"/><stop offset="0.865" stop-color="#3a2d79"/><stop offset="0.885" stop-color="#3b2f80"/><stop offset="0.975" stop-color="#3b2f80"/><stop offset="1" stop-color="#3c3286"/></linearGradient><linearGradient id="c0" gradientUnits="userSpaceOnUse" x1="229.4" x2="58.6"><stop offset="0" stop-color="#18dec0"/><stop offset="0.0101" stop-color="#18dec0"/><stop offset="0.0101" stop-color="#3e9bfe"/><stop offset="0.0202" stop-color="#3e9bfe"/><stop offset="0.0202" stop-color="#467df4"/><stop offset="0.0303" stop-color="#467df4"/><stop offset="0.0303" stop-color="#4661d6"/><stop offset="0.0404" stop-color="#4661d6"/><stop offset="0.0404" stop-color="#4451bf"/><stop offset="0.0517" stop-color="#4451bf"/><stop offset="0.0517" stop-color="#4146ac"/><stop offset="0.0633" stop-color="#4146ac"/><stop offset="0.0633" stop-color="#3f3e9c"/><stop offset="0.0749" stop-color="#3f3e9c"/><stop offset="0.0749" stop-color="#3e3891"/><stop offset="0.0924" stop-color="#3d358b"/><stop offset="0.1156" stop-color="#3a2d79"/><stop offset="0.1388" stop-color="#392a73"/><stop offset="0.2318" stop-color="#351e58"/><stop offset="0.2782" stop-color="#341b51"/><stop offset="0.3131" stop-color="#341b51"/><stop offset="0.3363" stop-color="#33184a"/><stop offset="0.4873" stop-color="#33184a"/><stop offset="0.5106" stop-color="#321543"/><stop offset="0.708" stop-color="#321543"/><stop offset="0.7313" stop-color="#30123b"/><stop offset="1" stop-color="#30123b"/></linearGradient><linearGradient id="c1" gradientUnits="userSpaceOnUse" x1="234" x2="217.6"><stop offset="0" stop-color="#7a0403"/><stop offset="0.1044" stop-color="#7a0403"/><stop offset="0.1044" stop-color="#1ce6b4"/><stop offset="0.2087" stop-color="#1ce6b4"/><stop offset="0.2087" stop-color="#37a8fa"/><stop offset="0.3131" stop-color="#37a8fa"/><stop offset="0.3131" stop-color="#458afc"/><stop offset="0.4176" stop-color="#458afc"/><stop offset="0.4176" stop-color="#466be3"/><stop offset="0.522" stop-color="#466be3"/><stop offset="0.522" stop-color="#4559cb"/><stop offset="0.6391" stop-color="#4559cb"/><stop offset="0.6391" stop-color="#434eba"/><stop offset="0.7593" stop-color="#434eba"/><stop offset="0.7593" stop-color="#4146ac"/><stop offset="0.8796" stop-color="#4146ac"/><stop offset="0.9398" stop-color="#4040a2"/><stop offset="1" stop-color="#4040a2"/></linearGradient><linearGradient id="c2" gradientUnits="userSpaceOnUse" x1="237" x2="214.6"><stop offset="0" stop-color="#7a0403"/><stop offset="0.0765" stop-color="#7a0403"/><stop offset="0.0765" stop-color="#25eca7"/><stop offset="0.1531" stop-color="#25eca7"/><stop offset="0.1531" stop-color="#2eb4f2"/><stop offset="0.2297" stop-color="#2eb4f2"/><stop offset="0.2297" stop-color="#4294ff"/><stop offset="0.3063" stop-color="#4294ff"/><stop offset="0.3063" stop-color="#4776ee"/><stop offset="0.383" stop-color="#4776ee"/><stop offset="0.383" stop-color="#4664da"/><stop offset="0.4689" stop-color="#4664da"/><stop offset="0.4689" stop-color="#4456c7"/><stop offset="0.5572" stop-color="#4456c7"/><stop offset="0.5572" stop-color="#434eba"/><stop offset="0.6457" stop-color="#434eba"/><stop offset="0.6899" stop-color="#4146ac"/><stop offset="1" stop-color="#3f3b97"/></linearGradient><linearGradient id="c3" gradientUnits="userSpaceOnUse" x1="239.9" x2="209.7"><stop offset="0" stop-color="#a71401"/><stop offset="0.0563" stop-color="#a71401"/><stop offset="0.0563" stop-color="#2cf09e"/><stop offset="0.1127" stop-color="#2cf09e"/><stop offset="0.1127" stop-color="#28bceb"/><stop offset="0.1691" stop-color="#28bceb"/><stop offset="0.1691" stop-color="#3d9efe"/><stop offset="0.2255" stop-color="#3d9efe"/><stop offset="0.2255" stop-color="#4680f6"/><stop offset="0.282" stop-color="#4680f6"/><stop offset="0.282" stop-color="#466be3"/><stop offset="0.3454" stop-color="#466be3"/><stop offset="0.3454" stop-color="#455ed3"/><stop offset="0.4106" stop-color="#455ed3"/><stop offset="0.4106" stop-color="#4454c3"/><stop offset="0.4758" stop-color="#4454c3"/><stop offset="0.5085" stop-color="#424bb5"/><stop offset="0.8359" stop-color="#3e3891"/><stop offset="1" stop-color="#3c3286"/></linearGradient><linearGradient id="c4" gradientUnits="userSpaceOnUse" x1="242.8" x2="198.7"><stop offset="0" stop-color="#c52603"/><stop offset="0.0385" stop-color="#c52603"/><stop offset="0.0385" stop-color="#35f394"/><stop offset="0.077" stop-color="#35f394"/><stop offset="0.077" stop-color="#23c3e4"/><stop offset="0.1155" stop-color="#23c3e4"/><stop offset="0.1155" stop-color="#38a5fb"/><stop offset="0.154" stop-color="#38a5fb"/><stop offset="0.154" stop-color="#4685fa"/><stop offset="0.1927" stop-color="#4685fa"/><stop offset="0.1927" stop-color="#4771e9"/><stop offset="0.236" stop-color="#4771e9"/><stop offset="0.236" stop-color="#4664da"/><stop offset="0.2806" stop-color="#4664da"/><stop offset="0.2806" stop-color="#4559cb"/><stop offset="0.3252" stop-color="#4559cb"/><stop offset="0.3476" stop-color="#4451bf"/><stop offset="0.4821" stop-color="#4143a7"/><stop offset="0.707" stop-color="#3c3286"/><stop offset="0.7971" stop-color="#3b2f80"/><stop offset="0.8873" stop-color="#392a73"/><stop offset="1" stop-color="#38276d"/></linearGradient><linearGradient id="c5" gradientUnits="userSpaceOnUse" x1="245.8" x2="197.7"><stop offset="0" stop-color="#da3907"/><stop offset="0.0352" stop-color="#da3907"/><stop offset="0.0352" stop-color="#3cf58e"/><stop offset="0.0704" stop-color="#3cf58e"/><stop offset="0.0704" stop-color="#1fc9dd"/><stop offset="0.1056" stop-color="#1fc9dd"/><stop offset="0.1056" stop-color="#35abf8"/><stop offset="0.1409" stop-color="#35abf8"/><stop offset="0.1409" stop-color="#458cfd"/><stop offset="0.1762" stop-color="#458cfd"/><stop offset="0.1762" stop-color="#4778f0"/><stop offset="0.2159" stop-color="#4778f0"/><stop offset="0.2159" stop-color="#4669e0"/><stop offset="0.2567" stop-color="#4669e0"/><stop offset="0.2567" stop-color="#455ed3"/><stop offset="0.2976" stop-color="#455ed3"/><stop offset="0.3181" stop-color="#4456c7"/><stop offset="0.4827" stop-color="#4143a7"/><stop offset="0.6894" stop-color="#3c3286"/><stop offset="0.7722" stop-color="#3b2f80"/><stop offset="0.9793" stop-color="#38276d"/><stop offset="1" stop-color="#38276d"/></linearGradient><linearGradient id="c6" gradientUnits="userSpaceOnUse" x1="248.7" x2="198.7"><stop offset="0" stop-color="#ea4e0d"/><stop offset="0.0337" stop-color="#ea4e0d"/><stop offset="0.0337" stop-color="#43f787"/><stop offset="0.0673" stop-color="#43f787"/><stop offset="0.0673" stop-color="#1ccdd8"/><stop offset="0.1011" stop-color="#1ccdd8"/><stop offset="0.1011" stop-color="#31aff5"/><stop offset="0.1348" stop-color="#31aff5"/><stop offset="0.1348" stop-color="#4391fe"/><stop offset="0.1687" stop-color="#4391fe"/><stop offset="0.1687" stop-color="#477bf2"/><stop offset="0.2067" stop-color="#477bf2"/><stop offset="0.2067" stop-color="#466be3"/><stop offset="0.2459" stop-color="#466be3"/><stop offset="0.2459" stop-color="#4661d6"/><stop offset="0.2851" stop-color="#4661d6"/><stop offset="0.3048" stop-color="#4559cb"/><stop offset="0.4629" stop-color="#4146ac"/><stop offset="0.7013" stop-color="#3c3286"/><stop offset="0.781" stop-color="#3b2f80"/><stop offset="1" stop-color="#38276d"/></linearGradient><linearGradient id="c7" gradientUnits="userSpaceOnUse" x1="251.6" x2="197.7"><stop offset="0" stop-color="#f46617"/><stop offset="0.0311" stop-color="#f46617"/><stop offset="0.0311" stop-color="#46f884"/><stop offset="0.0622" stop-color="#46f884"/><stop offset="0.0622" stop-color="#1bd0d5"/><stop offset="0.0933" stop-color="#1bd0d5"/><stop offset="0.0933" stop-color="#2eb4f2"/><stop offset="0.1245" stop-color="#2eb4f2"/><stop offset="0.1245" stop-color="#4294ff"/><stop offset="0.1558" stop-color="#4294ff"/><stop offset="0.1558" stop-color="#4680f6"/><stop offset="0.1909" stop-color="#4680f6"/><stop offset="0.1909" stop-color="#4771e9"/><stop offset="0.2271" stop-color="#4771e9"/><stop offset="0.2271" stop-color="#4666dd"/><stop offset="0.2634" stop-color="#4666dd"/><stop offset="0.3181" stop-color="#4456c7"/><stop offset="0.5385" stop-color="#3f3e9c"/><stop offset="0.6861" stop-color="#3c3286"/><stop offset="0.7599" stop-color="#3b2f80"/><stop offset="0.9815" stop-color="#38276d"/><stop offset="1" stop-color="#38276d"/></linearGradient><linearGradient id="c8" gradientUnits="userSpaceOnUse" x1="254.6" x2="198.7"><stop offset="0" stop-color="#fb7e21"/><stop offset="0.0299" stop-color="#fb7e21"/><stop offset="0.0299" stop-color="#4af880"/><stop offset="0.0597" stop-color="#4af880"/><stop offset="0.0597" stop-color="#1ad4d0"/><stop offset="0.0897" stop-color="#1ad4d0"/><stop offset="0.0897" stop-color="#2cb7f0"/><stop offset="0.1197" stop-color="#2cb7f0"/><stop offset="0.1197" stop-color="#4099ff"/><stop offset="0.1498" stop-color="#4099ff"/><stop offset="0.1498" stop-color="#4682f8"/><stop offset="0.1836" stop-color="#4682f8"/><stop offset="0.1836" stop-color="#4773eb"/><stop offset="0.2184" stop-color="#4773eb"/><stop offset="0.2184" stop-color="#4669e0"/><stop offset="0.2534" stop-color="#4669e0"/><stop offset="0.3061" stop-color="#4559cb"/><stop offset="0.5187" stop-color="#4040a2"/><stop offset="0.7325" stop-color="#3b2f80"/><stop offset="1" stop-color="#38276d"/></linearGradient><linearGradient id="c9" gradientUnits="userSpaceOnUse" x1="257.5" x2="199.7"><stop offset="0" stop-color="#fe932a"/><stop offset="0.0287" stop-color="#fe932a"/><stop offset="0.0287" stop-color="#4ef97d"/><stop offset="0.0575" stop-color="#4ef97d"/><stop offset="0.0575" stop-color="#19d5cd"/><stop offset="0.0863" stop-color="#19d5cd"/><stop offset="0.0863" stop-color="#28bceb"/><stop offset="0.1152" stop-color="#28bceb"/><stop offset="0.1152" stop-color="#3e9bfe"/><stop offset="0.1441" stop-color="#3e9bfe"/><stop offset="0.1441" stop-color="#4687fb"/><stop offset="0.1767" stop-color="#4687fb"/><stop offset="0.1767" stop-color="#4776ee"/><stop offset="0.2103" stop-color="#4776ee"/><stop offset="0.2103" stop-color="#466be3"/><stop offset="0.2441" stop-color="#466be3"/><stop offset="0.329" stop-color="#4456c7"/><stop offset="0.638" stop-color="#3d358b"/><stop offset="0.9828" stop-color="#38276d"/><stop offset="1" stop-color="#38276d"/></linearGradient><linearGradient id="c10" gradientUnits="userSpaceOnUse" x1="260.4" x2="200.7"><stop offset="0" stop-color="#fe9e2f"/><stop offset="0.0277" stop-color="#fe9e2f"/><stop offset="0.0277" stop-color="#4ef97d"/><stop offset="0.0554" stop-color="#4ef97d"/><stop offset="0.0554" stop-color="#18d7ca"/><stop offset="0.0831" stop-color="#18d7ca"/><stop offset="0.0831" stop-color="#27bee9"/><stop offset="0.1109" stop-color="#27bee9"/><stop offset="0.1109" stop-color="#3d9efe"/><stop offset="0.1389" stop-color="#3d9efe"/><stop offset="0.1389" stop-color="#458afc"/><stop offset="0.1703" stop-color="#458afc"/><stop offset="0.1703" stop-color="#477bf2"/><stop offset="0.2027" stop-color="#477bf2"/><stop offset="0.2027" stop-color="#476ee6"/><stop offset="0.2353" stop-color="#476ee6"/><stop offset="0.3173" stop-color="#4559cb"/><stop offset="0.583" stop-color="#3f3b97"/><stop offset="0.683" stop-color="#3c3286"/><stop offset="0.7498" stop-color="#3b2f80"/><stop offset="0.8165" stop-color="#3a2d79"/><stop offset="1" stop-color="#38276d"/></linearGradient><linearGradient id="c11" gradientUnits="userSpaceOnUse" x1="263.4" x2="199.7"><stop offset="0" stop-color="#fea933"/><stop offset="0.0258" stop-color="#fea933"/><stop offset="0.0258" stop-color="#52fa7a"/><stop offset="0.0517" stop-color="#52fa7a"/><stop offset="0.0517" stop-color="#18d9c8"/><stop offset="0.0776" stop-color="#18d9c8"/><stop offset="0.0776" stop-color="#25c0e7"/><stop offset="0.1036" stop-color="#25c0e7"/><stop offset="0.1036" stop-color="#3aa3fc"/><stop offset="0.1298" stop-color="#3aa3fc"/><stop offset="0.1298" stop-color="#458cfd"/><stop offset="0.1592" stop-color="#458cfd"/><stop offset="0.1592" stop-color="#467df4"/><stop offset="0.1895" stop-color="#467df4"/><stop offset="0.1895" stop-color="#4771e9"/><stop offset="0.22" stop-color="#4771e9"/><stop offset="0.2968" stop-color="#455ccf"/><stop offset="0.4835" stop-color="#4143a7"/><stop offset="0.7026" stop-color="#3b2f80"/><stop offset="0.9218" stop-color="#392a73"/><stop offset="1" stop-color="#38276d"/></linearGradient><linearGradient id="c12" gradientUnits="userSpaceOnUse" x1="266.3" x2="200.6"><stop offset="0" stop-color="#fcb336"/><stop offset="0.025" stop-color="#fcb336"/><stop offset="0.025" stop-color="#55fa76"/><stop offset="0.0499" stop-color="#55fa76"/><stop offset="0.0499" stop-color="#18ddc2"/><stop offset="0.075" stop-color="#18ddc2"/><stop offset="0.075" stop-color="#23c3e4"/><stop offset="0.1001" stop-color="#23c3e4"/><stop offset="0.1001" stop-color="#38a5fb"/><stop offset="0.1254" stop-color="#38a5fb"/><stop offset="0.1254" stop-color="#4391fe"/><stop offset="0.1538" stop-color="#4391fe"/><stop offset="0.1538" stop-color="#4680f6"/><stop offset="0.1832" stop-color="#4680f6"/><stop offset="0.1832" stop-color="#4773eb"/><stop offset="0.2127" stop-color="#4773eb"/><stop offset="0.2872" stop-color="#455ed3"/><stop offset="0.529" stop-color="#3f3e9c"/><stop offset="0.6201" stop-color="#3d358b"/><stop offset="0.8025" stop-color="#3a2d79"/><stop offset="1" stop-color="#38276d"/></linearGradient><linearGradient id="c13" gradientUnits="userSpaceOnUse" x1="269.2" x2="201.6"><stop offset="0" stop-color="#faba39"/><stop offset="0.0241" stop-color="#faba39"/><stop offset="0.0241" stop-color="#55fa76"/><stop offset="0.0483" stop-color="#55fa76"/><stop offset="0.0483" stop-color="#18dec0"/><stop offset="0.0725" stop-color="#18dec0"/><stop offset="0.0725" stop-color="#20c7df"/><stop offset="0.0968" stop-color="#20c7df"/><stop offset="0.0968" stop-color="#37a8fa"/><stop offset="0.1213" stop-color="#37a8fa"/><stop offset="0.1213" stop-color="#4294ff"/><stop offset="0.1488" stop-color="#4294ff"/><stop offset="0.1488" stop-color="#4682f8"/><stop offset="0.1773" stop-color="#4682f8"/><stop offset="0.1773" stop-color="#4776ee"/><stop offset="0.2059" stop-color="#4776ee"/><stop offset="0.2781" stop-color="#4661d6"/><stop offset="0.4834" stop-color="#4143a7"/><stop offset="0.6605" stop-color="#3c3286"/><stop offset="0.8082" stop-color="#3a2d79"/><stop offset="1" stop-color="#38276d"/></linearGradient><linearGradient id="c14" gradientUnits="userSpaceOnUse" x1="272.2" x2="202.6"><stop offset="0" stop-color="#f7c13a"/><stop offset="0.0233" stop-color="#f7c13a"/><stop offset="0.0233" stop-color="#59fb73"/><stop offset="0.0467" stop-color="#59fb73"/><stop offset="0.0467" stop-color="#18e0bd"/><stop offset="0.0702" stop-color="#18e0bd"/><stop offset="0.0702" stop-color="#1fc9dd"/><stop offset="0.0937" stop-color="#1fc9dd"/><stop offset="0.0937" stop-color="#35abf8"/><stop offset="0.1174" stop-color="#35abf8"/><stop offset="0.1174" stop-color="#4196ff"/><stop offset="0.1441" stop-color="#4196ff"/><stop offset="0.1441" stop-color="#4685fa"/><stop offset="0.1717" stop-color="#4685fa"/><stop offset="0.1717" stop-color="#4778f0"/><stop offset="0.1994" stop-color="#4778f0"/><stop offset="0.2695" stop-color="#4664da"/><stop offset="0.4118" stop-color="#424bb5"/><stop offset="0.5838" stop-color="#3e3891"/><stop offset="0.8136" stop-color="#3a2d79"/><stop offset="1" stop-color="#38276d"/></linearGradient><linearGradient id="c15" gradientUnits="userSpaceOnUse" x1="275.1" x2="203.6"><stop offset="0" stop-color="#f5c53a"/><stop offset="0.0226" stop-color="#f5c53a"/><stop offset="0.0226" stop-color="#59fb73"/><stop offset="0.0452" stop-color="#59fb73"/><stop offset="0.0452" stop-color="#18e0bd"/><stop offset="0.068" stop-color="#18e0bd"/><stop offset="0.068" stop-color="#1ecbda"/><stop offset="0.0908" stop-color="#1ecbda"/><stop offset="0.0908" stop-color="#33adf7"/><stop offset="0.1137" stop-color="#33adf7"/><stop offset="0.1137" stop-color="#4099ff"/><stop offset="0.1396" stop-color="#4099ff"/><stop offset="0.1396" stop-color="#4687fb"/><stop offset="0.1664" stop-color="#4687fb"/><stop offset="0.1664" stop-color="#477bf2"/><stop offset="0.1933" stop-color="#477bf2"/><stop offset="0.2614" stop-color="#4666dd"/><stop offset="0.4834" stop-color="#4143a7"/><stop offset="0.6231" stop-color="#3d358b"/><stop offset="0.8186" stop-color="#3a2d79"/><stop offset="1" stop-color="#38276d"/></linearGradient><linearGradient id="c16" gradientUnits="userSpaceOnUse" x1="278" x2="204.5"><stop offset="0" stop-color="#f1cb3a"/><stop offset="0.0219" stop-color="#f1cb3a"/><stop offset="0.0219" stop-color="#5dfc6f"/><stop offset="0.0438" stop-color="#5dfc6f"/><stop offset="0.0438" stop-color="#19e2bb"/><stop offset="0.0659" stop-color="#19e2bb"/><stop offset="0.0659" stop-color="#1ccdd8"/><stop offset="0.088" stop-color="#1ccdd8"/><stop offset="0.088" stop-color="#31aff5"/><stop offset="0.1103" stop-color="#31aff5"/><stop offset="0.1103" stop-color="#3e9bfe"/><stop offset="0.1354" stop-color="#3e9bfe"/><stop offset="0.1354" stop-color="#458afc"/><stop offset="0.1613" stop-color="#458afc"/><stop offset="0.1613" stop-color="#467df4"/><stop offset="0.1875" stop-color="#467df4"/><stop offset="0.2805" stop-color="#4661d6"/><stop offset="0.4426" stop-color="#4249b1"/><stop offset="0.5786" stop-color="#3e3891"/><stop offset="0.7419" stop-color="#3b2f80"/><stop offset="0.8778" stop-color="#392a73"/><stop offset="0.9321" stop-color="#392a73"/><stop offset="1" stop-color="#38276d"/></linearGradient><linearGradient id="c17" gradientUnits="userSpaceOnUse" x1="281" x2="205.5"><stop offset="0" stop-color="#eecf3a"/><stop offset="0.0212" stop-color="#eecf3a"/><stop offset="0.0212" stop-color="#5dfc6f"/><stop offset="0.0425" stop-color="#5dfc6f"/><stop offset="0.0425" stop-color="#19e3b9"/><stop offset="0.0639" stop-color="#19e3b9"/><stop offset="0.0639" stop-color="#1ccdd8"/><stop offset="0.0853" stop-color="#1ccdd8"/><stop offset="0.0853" stop-color="#2fb2f4"/><stop offset="0.107" stop-color="#2fb2f4"/><stop offset="0.107" stop-color="#3d9efe"/><stop offset="0.1313" stop-color="#3d9efe"/><stop offset="0.1313" stop-color="#458cfd"/><stop offset="0.1566" stop-color="#458cfd"/><stop offset="0.1566" stop-color="#4680f6"/><stop offset="0.182" stop-color="#4680f6"/><stop offset="0.2725" stop-color="#4664da"/><stop offset="0.4834" stop-color="#4143a7"/><stop offset="0.616" stop-color="#3d358b"/><stop offset="0.8015" stop-color="#3a2d79"/><stop offset="0.9339" stop-color="#392a73"/><stop offset="1" stop-color="#38276d"/></linearGradient><linearGradient id="c18" gradientUnits="userSpaceOnUse" x1="283.9" x2="204.5"><stop offset="0" stop-color="#ebd339"/><stop offset="0.0201" stop-color="#ebd339"/><stop offset="0.0201" stop-color="#61fc6c"/><stop offset="0.0402" stop-color="#61fc6c"/><stop offset="0.0402" stop-color="#1ae4b6"/><stop offset="0.0604" stop-color="#1ae4b6"/><stop offset="0.0604" stop-color="#1bd0d5"/><stop offset="0.0808" stop-color="#1bd0d5"/><stop offset="0.0808" stop-color="#2eb4f2"/><stop offset="0.1012" stop-color="#2eb4f2"/><stop offset="0.1012" stop-color="#3ba0fd"/><stop offset="0.1243" stop-color="#3ba0fd"/><stop offset="0.1243" stop-color="#448ffe"/><stop offset="0.1482" stop-color="#448ffe"/><stop offset="0.1482" stop-color="#4682f8"/><stop offset="0.1724" stop-color="#4682f8"/><stop offset="0.2582" stop-color="#4666dd"/><stop offset="0.509" stop-color="#3f3e9c"/><stop offset="0.7107" stop-color="#3b2f80"/><stop offset="0.8869" stop-color="#392a73"/><stop offset="1" stop-color="#38276d"/></linearGradient><linearGradient id="c19" gradientUnits="userSpaceOnUse" x1="286.8" x2="205.5"><stop offset="0" stop-color="#e9d539"/><stop offset="0.0195" stop-color="#e9d539"/><stop offset="0.0195" stop-color="#61fc6c"/><stop offset="0.0391" stop-color="#61fc6c"/><stop offset="0.0391" stop-color="#1ae4b6"/><stop offset="0.0587" stop-color="#1ae4b6"/><stop offset="0.0587" stop-color="#1ad2d2"/><stop offset="0.0785" stop-color="#1ad2d2"/><stop offset="0.0785" stop-color="#2cb7f0"/><stop offset="0.0984" stop-color="#2cb7f0"/><stop offset="0.0984" stop-color="#3aa3fc"/><stop offset="0.1209" stop-color="#3aa3fc"/><stop offset="0.1209" stop-color="#4391fe"/><stop offset="0.1441" stop-color="#4391fe"/><stop offset="0.1441" stop-color="#4685fa"/><stop offset="0.1676" stop-color="#4685fa"/><stop offset="0.1795" stop-color="#477bf2"/><stop offset="0.3487" stop-color="#4454c3"/><stop offset="0.57" stop-color="#3e3891"/><stop offset="0.6684" stop-color="#3c3286"/><stop offset="0.7914" stop-color="#3a2d79"/><stop offset="0.9141" stop-color="#392a73"/><stop offset="0.9632" stop-color="#38276d"/><stop offset="1" stop-color="#38276d"/></linearGradient><linearGradient id="c20" gradientUnits="userSpaceOnUse" x1="289.8" x2="206.4"><stop offset="0" stop-color="#e5d938"/><stop offset="0.019" stop-color="#e5d938"/><stop offset="0.019" stop-color="#61fc6c"/><stop offset="0.038" stop-color="#61fc6c"/><stop offset="0.038" stop-color="#1ce6b4"/><stop offset="0.0571" stop-color="#1ce6b4"/><stop offset="0.0571" stop-color="#1ad4d0"/><stop offset="0.0763" stop-color="#1ad4d0"/><stop offset="0.0763" stop-color="#2ab9ee"/><stop offset="0.0957" stop-color="#2ab9ee"/><stop offset="0.0957" stop-color="#38a5fb"/><stop offset="0.1175" stop-color="#38a5fb"/><stop offset="0.1175" stop-color="#4294ff"/><stop offset="0.1402" stop-color="#4294ff"/><stop offset="0.1402" stop-color="#4687fb"/><stop offset="0.1631" stop-color="#4687fb"/><stop offset="0.1747" stop-color="#467df4"/><stop offset="0.3399" stop-color="#4456c7"/><stop offset="0.532" stop-color="#3f3b97"/><stop offset="0.7243" stop-color="#3b2f80"/><stop offset="0.8922" stop-color="#392a73"/><stop offset="1" stop-color="#38276d"/></linearGradient><linearGradient id="c21" gradientUnits="userSpaceOnUse" x1="292.7" x2="207.4"><stop offset="0" stop-color="#e3db38"/><stop offset="0.0184" stop-color="#e3db38"/><stop offset="0.0184" stop-color="#61fc6c"/><stop offset="0.0369" stop-color="#61fc6c"/><stop offset="0.0369" stop-color="#1de7b2"/><stop offset="0.0555" stop-color="#1de7b2"/><stop offset="0.0555" stop-color="#19d5cd"/><stop offset="0.0742" stop-color="#19d5cd"/><stop offset="0.0742" stop-color="#28bceb"/><stop offset="0.0931" stop-color="#28bceb"/><stop offset="0.0931" stop-color="#37a8fa"/><stop offset="0.1144" stop-color="#37a8fa"/><stop offset="0.1144" stop-color="#4196ff"/><stop offset="0.1365" stop-color="#4196ff"/><stop offset="0.1365" stop-color="#458afc"/><stop offset="0.1588" stop-color="#458afc"/><stop offset="0.1701" stop-color="#4680f6"/><stop offset="0.3314" stop-color="#4456c7"/><stop offset="0.5662" stop-color="#3e3891"/><stop offset="0.7306" stop-color="#3b2f80"/><stop offset="0.8947" stop-color="#392a73"/><stop offset="1" stop-color="#38276d"/></linearGradient><linearGradient id="c22" gradientUnits="userSpaceOnUse" x1="295.6" x2="206.4"><stop offset="0" stop-color="#dfdf37"/><stop offset="0.0175" stop-color="#dfdf37"/><stop offset="0.0175" stop-color="#65fd69"/><stop offset="0.0351" stop-color="#65fd69"/><stop offset="0.0351" stop-color="#1de7b2"/><stop offset="0.0528" stop-color="#1de7b2"/><stop offset="0.0528" stop-color="#19d5cd"/><stop offset="0.0706" stop-color="#19d5cd"/><stop offset="0.0706" stop-color="#27bee9"/><stop offset="0.0886" stop-color="#27bee9"/><stop offset="0.0886" stop-color="#37a8fa"/><stop offset="0.1089" stop-color="#37a8fa"/><stop offset="0.1089" stop-color="#4196ff"/><stop offset="0.13" stop-color="#4196ff"/><stop offset="0.13" stop-color="#458afc"/><stop offset="0.1513" stop-color="#458afc"/><stop offset="0.2494" stop-color="#4666dd"/><stop offset="0.4956" stop-color="#3f3e9c"/><stop offset="0.6529" stop-color="#3c3286"/><stop offset="0.765" stop-color="#3a2d79"/><stop offset="0.8098" stop-color="#3a2d79"/><stop offset="0.8546" stop-color="#392a73"/><stop offset="0.8994" stop-color="#392a73"/><stop offset="0.9441" stop-color="#38276d"/><stop offset="1" stop-color="#38276d"/></linearGradient><linearGradient id="c23" gradientUnits="userSpaceOnUse" x1="298.6" x2="209.3"><stop offset="0" stop-color="#dde037"/><stop offset="0.0175" stop-color="#dde037"/><stop offset="0.0175" stop-color="#65fd69"/><stop offset="0.035" stop-color="#65fd69"/><stop offset="0.035" stop-color="#1fe9af"/><stop offset="0.0526" stop-color="#1fe9af"/><stop offset="0.0526" stop-color="#18d7ca"/><stop offset="0.0703" stop-color="#18d7ca"/><stop offset="0.0703" stop-color="#25c0e7"/><stop offset="0.0882" stop-color="#25c0e7"/><stop offset="0.0882" stop-color="#35abf8"/><stop offset="0.1085" stop-color="#35abf8"/><stop offset="0.1085" stop-color="#4099ff"/><stop offset="0.1295" stop-color="#4099ff"/><stop offset="0.1295" stop-color="#458cfd"/><stop offset="0.1508" stop-color="#458cfd"/><stop offset="0.1615" stop-color="#4682f8"/><stop offset="0.3156" stop-color="#4559cb"/><stop offset="0.4727" stop-color="#4040a2"/><stop offset="0.5402" stop-color="#3f3b97"/><stop offset="0.72" stop-color="#3b2f80"/><stop offset="0.8321" stop-color="#3a2d79"/><stop offset="0.8769" stop-color="#392a73"/><stop offset="0.9217" stop-color="#392a73"/><stop offset="0.9664" stop-color="#38276d"/><stop offset="1" stop-color="#38276d"/></linearGradient><linearGradient id="c24" gradientUnits="userSpaceOnUse" x1="301.5" x2="210.3"><stop offset="0" stop-color="#dbe236"/><stop offset="0.017" stop-color="#dbe236"/><stop offset="0.017" stop-color="#65fd69"/><stop offset="0.0341" stop-color="#65fd69"/><stop offset="0.0341" stop-color="#20eaac"/><stop offset="0.0512" stop-color="#20eaac"/><stop offset="0.0512" stop-color="#18d9c8"/><stop offset="0.0685" stop-color="#18d9c8"/><stop offset="0.0685" stop-color="#25c0e7"/><stop offset="0.086" stop-color="#25c0e7"/><stop offset="0.086" stop-color="#33adf7"/><stop offset="0.1057" stop-color="#33adf7"/><stop offset="0.1057" stop-color="#3e9bfe"/><stop offset="0.1263" stop-color="#3e9bfe"/><stop offset="0.1263" stop-color="#448ffe"/><stop offset="0.147" stop-color="#448ffe"/><stop offset="0.1575" stop-color="#4685fa"/><stop offset="0.3301" stop-color="#4456c7"/><stop offset="0.5281" stop-color="#3f3b97"/><stop offset="0.726" stop-color="#3b2f80"/><stop offset="0.8357" stop-color="#3a2d79"/><stop offset="0.8795" stop-color="#392a73"/><stop offset="0.9234" stop-color="#392a73"/><stop offset="0.9672" stop-color="#38276d"/><stop offset="1" stop-color="#38276d"/></linearGradient><linearGradient id="c25" gradientUnits="userSpaceOnUse" x1="304.4" x2="211.3"><stop offset="0" stop-color="#d9e436"/><stop offset="0.0166" stop-color="#d9e436"/><stop offset="0.0166" stop-color="#69fd66"/><stop offset="0.0332" stop-color="#69fd66"/><stop offset="0.0332" stop-color="#20eaac"/><stop offset="0.0499" stop-color="#20eaac"/><stop offset="0.0499" stop-color="#18d9c8"/><stop offset="0.0668" stop-color="#18d9c8"/><stop offset="0.0668" stop-color="#23c3e4"/><stop offset="0.0838" stop-color="#23c3e4"/><stop offset="0.0838" stop-color="#31aff5"/><stop offset="0.1031" stop-color="#31aff5"/><stop offset="0.1031" stop-color="#3d9efe"/><stop offset="0.1231" stop-color="#3d9efe"/><stop offset="0.1231" stop-color="#4391fe"/><stop offset="0.1434" stop-color="#4391fe"/><stop offset="0.1537" stop-color="#4687fb"/><stop offset="0.2797" stop-color="#4661d6"/><stop offset="0.4733" stop-color="#4040a2"/><stop offset="0.538" stop-color="#3f3b97"/><stop offset="0.6672" stop-color="#3c3286"/><stop offset="0.8177" stop-color="#3a2d79"/><stop offset="0.925" stop-color="#392a73"/><stop offset="0.9679" stop-color="#38276d"/><stop offset="1" stop-color="#38276d"/></linearGradient><linearGradient id="c26" gradientUnits="userSpaceOnUse" x1="307.4" x2="212.2"><stop offset="0" stop-color="#d7e535"/><stop offset="0.0162" stop-color="#d7e535"/><stop offset="0.0162" stop-color="#69fd66"/><stop offset="0.0324" stop-color="#69fd66"/><stop offset="0.0324" stop-color="#22ebaa"/><stop offset="0.0487" stop-color="#22ebaa"/><stop offset="0.0487" stop-color="#18dbc5"/><stop offset="0.0651" stop-color="#18dbc5"/><stop offset="0.0651" stop-color="#22c5e2"/><stop offset="0.0817" stop-color="#22c5e2"/><stop offset="0.0817" stop-color="#2fb2f4"/><stop offset="0.1006" stop-color="#2fb2f4"/><stop offset="0.1006" stop-color="#3ba0fd"/><stop offset="0.1201" stop-color="#3ba0fd"/><stop offset="0.1201" stop-color="#4391fe"/><stop offset="0.14" stop-color="#4391fe"/><stop offset="0.2317" stop-color="#476ee6"/><stop offset="0.4419" stop-color="#4146ac"/><stop offset="0.5264" stop-color="#3f3b97"/><stop offset="0.7163" stop-color="#3b2f80"/><stop offset="0.7584" stop-color="#3b2f80"/><stop offset="0.8004" stop-color="#3a2d79"/><stop offset="0.9055" stop-color="#392a73"/><stop offset="1" stop-color="#38276d"/></linearGradient><linearGradient id="c27" gradientUnits="userSpaceOnUse" x1="310.3" x2="213.2"><stop offset="0" stop-color="#d7e535"/><stop offset="0.0158" stop-color="#d7e535"/><stop offset="0.0158" stop-color="#69fd66"/><stop offset="0.0316" stop-color="#69fd66"/><stop offset="0.0316" stop-color="#22ebaa"/><stop offset="0.0475" stop-color="#22ebaa"/><stop offset="0.0475" stop-color="#18ddc2"/><stop offset="0.0635" stop-color="#18ddc2"/><stop offset="0.0635" stop-color="#20c7df"/><stop offset="0.0797" stop-color="#20c7df"/><stop offset="0.0797" stop-color="#2fb2f4"/><stop offset="0.0981" stop-color="#2fb2f4"/><stop offset="0.0981" stop-color="#3ba0fd"/><stop offset="0.1173" stop-color="#3ba0fd"/><stop offset="0.1173" stop-color="#4294ff"/><stop offset="0.1367" stop-color="#4294ff"/><stop offset="0.1465" stop-color="#458afc"/><stop offset="0.3084" stop-color="#455ccf"/><stop offset="0.4739" stop-color="#4040a2"/><stop offset="0.6187" stop-color="#3d358b"/><stop offset="0.7839" stop-color="#3a2d79"/><stop offset="0.8251" stop-color="#3a2d79"/><stop offset="0.8663" stop-color="#392a73"/><stop offset="0.928" stop-color="#392a73"/><stop offset="0.9692" stop-color="#38276d"/><stop offset="1" stop-color="#38276d"/></linearGradient><linearGradient id="c28" gradientUnits="userSpaceOnUse" x1="313.3" x2="214.2"><stop offset="0" stop-color="#d4e735"/><stop offset="0.0154" stop-color="#d4e735"/><stop offset="0.0154" stop-color="#6dfe62"/><stop offset="0.0308" stop-color="#6dfe62"/><stop offset="0.0308" stop-color="#25eca7"/><stop offset="0.0463" stop-color="#25eca7"/><stop offset="0.0463" stop-color="#18dec0"/><stop offset="0.062" stop-color="#18dec0"/><stop offset="0.062" stop-color="#20c7df"/><stop offset="0.0778" stop-color="#20c7df"/><stop offset="0.0778" stop-color="#2eb4f2"/><stop offset="0.0958" stop-color="#2eb4f2"/><stop offset="0.0958" stop-color="#3aa3fc"/><stop offset="0.1145" stop-color="#3aa3fc"/><stop offset="0.1145" stop-color="#4196ff"/><stop offset="0.1335" stop-color="#4196ff"/><stop offset="0.1431" stop-color="#458cfd"/><stop offset="0.2815" stop-color="#4661d6"/><stop offset="0.5046" stop-color="#3f3e9c"/><stop offset="0.6668" stop-color="#3c3286"/><stop offset="0.8084" stop-color="#3a2d79"/><stop offset="0.9093" stop-color="#392a73"/><stop offset="1" stop-color="#38276d"/></linearGradient><linearGradient id="c29" gradientUnits="userSpaceOnUse" x1="316.2" x2="217.1"><stop offset="0" stop-color="#d2e935"/><stop offset="0.0153" stop-color="#d2e935"/><stop offset="0.0153" stop-color="#6dfe62"/><stop offset="0.0307" stop-color="#6dfe62"/><stop offset="0.0307" stop-color="#27eea4"/><stop offset="0.0461" stop-color="#27eea4"/><stop offset="0.0461" stop-color="#18dec0"/><stop offset="0.0617" stop-color="#18dec0"/><stop offset="0.0617" stop-color="#1fc9dd"/><stop offset="0.0775" stop-color="#1fc9dd"/><stop offset="0.0775" stop-color="#2cb7f0"/><stop offset="0.0954" stop-color="#2cb7f0"/><stop offset="0.0954" stop-color="#38a5fb"/><stop offset="0.1141" stop-color="#38a5fb"/><stop offset="0.1141" stop-color="#4099ff"/><stop offset="0.133" stop-color="#4099ff"/><stop offset="0.1426" stop-color="#448ffe"/><stop offset="0.2609" stop-color="#4669e0"/><stop offset="0.4433" stop-color="#4146ac"/><stop offset="0.5855" stop-color="#3e3891"/><stop offset="0.8285" stop-color="#3a2d79"/><stop offset="0.9294" stop-color="#392a73"/><stop offset="1" stop-color="#38276d"/></linearGradient><linearGradient id="c30" gradientUnits="userSpaceOnUse" x1="319.1" x2="218.1"><stop offset="0" stop-color="#d2e935"/><stop offset="0.0149" stop-color="#d2e935"/><stop offset="0.0149" stop-color="#6dfe62"/><stop offset="0.0299" stop-color="#6dfe62"/><stop offset="0.0299" stop-color="#27eea4"/><stop offset="0.045" stop-color="#27eea4"/><stop offset="0.045" stop-color="#18e0bd"/><stop offset="0.0603" stop-color="#18e0bd"/><stop offset="0.0603" stop-color="#1ecbda"/><stop offset="0.0757" stop-color="#1ecbda"/><stop offset="0.0757" stop-color="#2ab9ee"/><stop offset="0.0932" stop-color="#2ab9ee"/><stop offset="0.0932" stop-color="#37a8fa"/><stop offset="0.1115" stop-color="#37a8fa"/><stop offset="0.1115" stop-color="#4099ff"/><stop offset="0.13" stop-color="#4099ff"/><stop offset="0.1583" stop-color="#4687fb"/><stop offset="0.3147" stop-color="#455ccf"/><stop offset="0.4541" stop-color="#4143a7"/><stop offset="0.6334" stop-color="#3d358b"/><stop offset="0.7525" stop-color="#3b2f80"/><stop offset="0.8516" stop-color="#3a2d79"/><stop offset="0.8912" stop-color="#392a73"/><stop offset="0.9506" stop-color="#392a73"/><stop offset="1" stop-color="#38276d"/></linearGradient><linearGradient id="c31" gradientUnits="userSpaceOnUse" x1="322.1" x2="219.1"><stop offset="0" stop-color="#d0ea34"/><stop offset="0.0146" stop-color="#d0ea34"/><stop offset="0.0146" stop-color="#6dfe62"/><stop offset="0.0292" stop-color="#6dfe62"/><stop offset="0.0292" stop-color="#2aefa1"/><stop offset="0.044" stop-color="#2aefa1"/><stop offset="0.044" stop-color="#18e0bd"/><stop offset="0.0588" stop-color="#18e0bd"/><stop offset="0.0588" stop-color="#1ccdd8"/><stop offset="0.0739" stop-color="#1ccdd8"/><stop offset="0.0739" stop-color="#2ab9ee"/><stop offset="0.0911" stop-color="#2ab9ee"/><stop offset="0.0911" stop-color="#37a8fa"/><stop offset="0.1089" stop-color="#37a8fa"/><stop offset="0.1089" stop-color="#3e9bfe"/><stop offset="0.1271" stop-color="#3e9bfe"/><stop offset="0.1362" stop-color="#4391fe"/><stop offset="0.2499" stop-color="#466be3"/><stop offset="0.4254" stop-color="#4249b1"/><stop offset="0.5037" stop-color="#3f3e9c"/><stop offset="0.6794" stop-color="#3c3286"/><stop offset="0.7767" stop-color="#3b2f80"/><stop offset="0.8156" stop-color="#3a2d79"/><stop offset="0.8545" stop-color="#3a2d79"/><stop offset="0.8933" stop-color="#392a73"/><stop offset="0.9515" stop-color="#392a73"/><stop offset="1" stop-color="#38276d"/></linearGradient><linearGradient id="c32" gradientUnits="userSpaceOnUse" x1="325" x2="220"><stop offset="0" stop-color="#d0ea34"/><stop offset="0.0142" stop-color="#d0ea34"/><stop offset="0.0142" stop-color="#71fe5f"/><stop offset="0.0285" stop-color="#71fe5f"/><stop offset="0.0285" stop-color="#2aefa1"/><stop offset="0.0429" stop-color="#2aefa1"/><stop offset="0.0429" stop-color="#19e2bb"/><stop offset="0.0575" stop-color="#19e2bb"/><stop offset="0.0575" stop-color="#1ccdd8"/><stop offset="0.0722" stop-color="#1ccdd8"/><stop offset="0.0722" stop-color="#28bceb"/><stop offset="0.089" stop-color="#28bceb"/><stop offset="0.089" stop-color="#35abf8"/><stop offset="0.1065" stop-color="#35abf8"/><stop offset="0.1065" stop-color="#3d9efe"/><stop offset="0.1242" stop-color="#3d9efe"/><stop offset="0.1332" stop-color="#4294ff"/><stop offset="0.2447" stop-color="#466be3"/><stop offset="0.4554" stop-color="#4143a7"/><stop offset="0.628" stop-color="#3d358b"/><stop offset="0.7618" stop-color="#3b2f80"/><stop offset="0.8572" stop-color="#3a2d79"/><stop offset="0.8953" stop-color="#392a73"/><stop offset="0.9524" stop-color="#392a73"/><stop offset="1" stop-color="#38276d"/></linearGradient><linearGradient id="c33" gradientUnits="userSpaceOnUse" x1="327.9" x2="221"><stop offset="0" stop-color="#cdec34"/><stop offset="0.0139" stop-color="#cdec34"/><stop offset="0.0139" stop-color="#71fe5f"/><stop offset="0.0279" stop-color="#71fe5f"/><stop offset="0.0279" stop-color="#2aefa1"/><stop offset="0.0419" stop-color="#2aefa1"/><stop offset="0.0419" stop-color="#19e3b9"/><stop offset="0.0562" stop-color="#19e3b9"/><stop offset="0.0562" stop-color="#1bd0d5"/><stop offset="0.0706" stop-color="#1bd0d5"/><stop offset="0.0706" stop-color="#27bee9"/><stop offset="0.087" stop-color="#27bee9"/><stop offset="0.087" stop-color="#33adf7"/><stop offset="0.1041" stop-color="#33adf7"/><stop offset="0.1041" stop-color="#3d9efe"/><stop offset="0.1215" stop-color="#3d9efe"/><stop offset="0.1303" stop-color="#4294ff"/><stop offset="0.2397" stop-color="#476ee6"/><stop offset="0.4277" stop-color="#4146ac"/><stop offset="0.6349" stop-color="#3d358b"/><stop offset="0.8224" stop-color="#3a2d79"/><stop offset="0.8598" stop-color="#3a2d79"/><stop offset="0.8972" stop-color="#392a73"/><stop offset="0.9533" stop-color="#392a73"/><stop offset="1" stop-color="#38276d"/></linearGradient><linearGradient id="c34" gradientUnits="userSpaceOnUse" x1="330.9" x2="223.9"><stop offset="0" stop-color="#cbed34"/><stop offset="0.0138" stop-color="#cbed34"/><stop offset="0.0138" stop-color="#71fe5f"/><stop offset="0.0277" stop-color="#71fe5f"/><stop offset="0.0277" stop-color="#2cf09e"/><stop offset="0.0418" stop-color="#2cf09e"/><stop offset="0.0418" stop-color="#19e3b9"/><stop offset="0.0559" stop-color="#19e3b9"/><stop offset="0.0559" stop-color="#1bd0d5"/><stop offset="0.0703" stop-color="#1bd0d5"/><stop offset="0.0703" stop-color="#27bee9"/><stop offset="0.0866" stop-color="#27bee9"/><stop offset="0.0866" stop-color="#33adf7"/><stop offset="0.1037" stop-color="#33adf7"/><stop offset="0.1037" stop-color="#3ba0fd"/><stop offset="0.1211" stop-color="#3ba0fd"/><stop offset="0.1299" stop-color="#4196ff"/><stop offset="0.2206" stop-color="#4773eb"/><stop offset="0.4085" stop-color="#424bb5"/><stop offset="0.5218" stop-color="#3f3e9c"/><stop offset="0.5971" stop-color="#3e3891"/><stop offset="0.7661" stop-color="#3b2f80"/><stop offset="0.8598" stop-color="#3a2d79"/><stop offset="0.8972" stop-color="#392a73"/><stop offset="0.972" stop-color="#392a73"/><stop offset="1" stop-color="#38276d"/></linearGradient><linearGradient id="c35" gradientUnits="userSpaceOnUse" x1="333.8" x2="226.9"><stop offset="0" stop-color="#cbed34"/><stop offset="0.0138" stop-color="#cbed34"/><stop offset="0.0138" stop-color="#71fe5f"/><stop offset="0.0276" stop-color="#71fe5f"/><stop offset="0.0276" stop-color="#2cf09e"/><stop offset="0.0416" stop-color="#2cf09e"/><stop offset="0.0416" stop-color="#1ae4b6"/><stop offset="0.0557" stop-color="#1ae4b6"/><stop offset="0.0557" stop-color="#1ad2d2"/><stop offset="0.07" stop-color="#1ad2d2"/><stop offset="0.07" stop-color="#25c0e7"/><stop offset="0.0863" stop-color="#25c0e7"/><stop offset="0.0863" stop-color="#31aff5"/><stop offset="0.1034" stop-color="#31aff5"/><stop offset="0.1034" stop-color="#3aa3fc"/><stop offset="0.1207" stop-color="#3aa3fc"/><stop offset="0.1295" stop-color="#4099ff"/><stop offset="0.2017" stop-color="#477bf2"/><stop offset="0.3893" stop-color="#434eba"/><stop offset="0.5215" stop-color="#3f3e9c"/><stop offset="0.6533" stop-color="#3d358b"/><stop offset="0.7847" stop-color="#3b2f80"/><stop offset="0.8784" stop-color="#3a2d79"/><stop offset="0.9159" stop-color="#392a73"/><stop offset="1" stop-color="#392a73"/></linearGradient><linearGradient id="c36" gradientUnits="userSpaceOnUse" x1="336.7" x2="229.9"><stop offset="0" stop-color="#c8ef34"/><stop offset="0.0137" stop-color="#c8ef34"/><stop offset="0.0137" stop-color="#71fe5f"/><stop offset="0.0275" stop-color="#71fe5f"/><stop offset="0.0275" stop-color="#2ff19b"/><stop offset="0.0414" stop-color="#2ff19b"/><stop offset="0.0414" stop-color="#1ae4b6"/><stop offset="0.0554" stop-color="#1ae4b6"/><stop offset="0.0554" stop-color="#1ad4d0"/><stop offset="0.0697" stop-color="#1ad4d0"/><stop offset="0.0697" stop-color="#23c3e4"/><stop offset="0.086" stop-color="#23c3e4"/><stop offset="0.086" stop-color="#31aff5"/><stop offset="0.103" stop-color="#31aff5"/><stop offset="0.103" stop-color="#3aa3fc"/><stop offset="0.1203" stop-color="#3aa3fc"/><stop offset="0.1291" stop-color="#4099ff"/><stop offset="0.2197" stop-color="#4778f0"/><stop offset="0.37" stop-color="#4454c3"/><stop offset="0.5024" stop-color="#4040a2"/><stop offset="0.6155" stop-color="#3e3891"/><stop offset="0.7283" stop-color="#3c3286"/><stop offset="0.8222" stop-color="#3b2f80"/><stop offset="0.8596" stop-color="#3a2d79"/><stop offset="0.8971" stop-color="#3a2d79"/><stop offset="0.9345" stop-color="#392a73"/><stop offset="1" stop-color="#392a73"/></linearGradient><linearGradient id="c37" gradientUnits="userSpaceOnUse" x1="339.7" x2="232.8"><stop offset="0" stop-color="#c8ef34"/><stop offset="0.0136" stop-color="#c8ef34"/><stop offset="0.0136" stop-color="#71fe5f"/><stop offset="0.0274" stop-color="#71fe5f"/><stop offset="0.0274" stop-color="#2ff19b"/><stop offset="0.0412" stop-color="#2ff19b"/><stop offset="0.0412" stop-color="#1ce6b4"/><stop offset="0.0552" stop-color="#1ce6b4"/><stop offset="0.0552" stop-color="#1ad4d0"/><stop offset="0.0694" stop-color="#1ad4d0"/><stop offset="0.0694" stop-color="#23c3e4"/><stop offset="0.0856" stop-color="#23c3e4"/><stop offset="0.0856" stop-color="#2fb2f4"/><stop offset="0.1026" stop-color="#2fb2f4"/><stop offset="0.1026" stop-color="#38a5fb"/><stop offset="0.1199" stop-color="#38a5fb"/><stop offset="0.1287" stop-color="#3e9bfe"/><stop offset="0.2008" stop-color="#467df4"/><stop offset="0.3886" stop-color="#4451bf"/><stop offset="0.5399" stop-color="#3f3e9c"/><stop offset="0.6718" stop-color="#3d358b"/><stop offset="0.8033" stop-color="#3b2f80"/><stop offset="0.897" stop-color="#3a2d79"/><stop offset="0.9906" stop-color="#392a73"/><stop offset="1" stop-color="#392a73"/></linearGradient><linearGradient id="c38" gradientUnits="userSpaceOnUse" x1="342.6" x2="233.8"><stop offset="0" stop-color="#c8ef34"/><stop offset="0.0133" stop-color="#c8ef34"/><stop offset="0.0133" stop-color="#75fe5c"/><stop offset="0.0267" stop-color="#75fe5c"/><stop offset="0.0267" stop-color="#32f298"/><stop offset="0.0403" stop-color="#32f298"/><stop offset="0.0403" stop-color="#1ce6b4"/><stop offset="0.054" stop-color="#1ce6b4"/><stop offset="0.054" stop-color="#19d5cd"/><stop offset="0.0679" stop-color="#19d5cd"/><stop offset="0.0679" stop-color="#22c5e2"/><stop offset="0.0837" stop-color="#22c5e2"/><stop offset="0.0837" stop-color="#2eb4f2"/><stop offset="0.1003" stop-color="#2eb4f2"/><stop offset="0.1003" stop-color="#37a8fa"/><stop offset="0.1173" stop-color="#37a8fa"/><stop offset="0.1432" stop-color="#4294ff"/><stop offset="0.233" stop-color="#4773eb"/><stop offset="0.4369" stop-color="#4249b1"/><stop offset="0.6778" stop-color="#3d358b"/><stop offset="0.8069" stop-color="#3b2f80"/><stop offset="0.8989" stop-color="#3a2d79"/><stop offset="0.9908" stop-color="#392a73"/><stop offset="1" stop-color="#392a73"/></linearGradient><linearGradient id="c39" gradientUnits="userSpaceOnUse" x1="345.5" x2="234.7"><stop offset="0" stop-color="#c8ef34"/><stop offset="0.013" stop-color="#c8ef34"/><stop offset="0.013" stop-color="#75fe5c"/><stop offset="0.0261" stop-color="#75fe5c"/><stop offset="0.0261" stop-color="#32f298"/><stop offset="0.0394" stop-color="#32f298"/><stop offset="0.0394" stop-color="#1de7b2"/><stop offset="0.0528" stop-color="#1de7b2"/><stop offset="0.0528" stop-color="#19d5cd"/><stop offset="0.0664" stop-color="#19d5cd"/><stop offset="0.0664" stop-color="#20c7df"/><stop offset="0.0819" stop-color="#20c7df"/><stop offset="0.0819" stop-color="#2eb4f2"/><stop offset="0.0982" stop-color="#2eb4f2"/><stop offset="0.0982" stop-color="#37a8fa"/><stop offset="0.1148" stop-color="#37a8fa"/><stop offset="0.1232" stop-color="#3d9efe"/><stop offset="0.1926" stop-color="#4682f8"/><stop offset="0.3191" stop-color="#455ed3"/><stop offset="0.4834" stop-color="#4143a7"/><stop offset="0.6291" stop-color="#3e3891"/><stop offset="0.8103" stop-color="#3b2f80"/><stop offset="0.9007" stop-color="#3a2d79"/><stop offset="0.991" stop-color="#392a73"/><stop offset="1" stop-color="#392a73"/></linearGradient><linearGradient id="c40" gradientUnits="userSpaceOnUse" x1="348.5" x2="235.7"><stop offset="0" stop-color="#c6f034"/><stop offset="0.0127" stop-color="#c6f034"/><stop offset="0.0127" stop-color="#75fe5c"/><stop offset="0.0255" stop-color="#75fe5c"/><stop offset="0.0255" stop-color="#35f394"/><stop offset="0.0385" stop-color="#35f394"/><stop offset="0.0385" stop-color="#1de7b2"/><stop offset="0.0516" stop-color="#1de7b2"/><stop offset="0.0516" stop-color="#18d7ca"/><stop offset="0.0649" stop-color="#18d7ca"/><stop offset="0.0649" stop-color="#20c7df"/><stop offset="0.0801" stop-color="#20c7df"/><stop offset="0.0801" stop-color="#2cb7f0"/><stop offset="0.0961" stop-color="#2cb7f0"/><stop offset="0.0961" stop-color="#35abf8"/><stop offset="0.1123" stop-color="#35abf8"/><stop offset="0.1206" stop-color="#3ba0fd"/><stop offset="0.1888" stop-color="#4682f8"/><stop offset="0.331" stop-color="#455ccf"/><stop offset="0.4567" stop-color="#4146ac"/><stop offset="0.6713" stop-color="#3d358b"/><stop offset="0.7603" stop-color="#3c3286"/><stop offset="0.7959" stop-color="#3b2f80"/><stop offset="0.8314" stop-color="#3b2f80"/><stop offset="0.867" stop-color="#3a2d79"/><stop offset="0.9202" stop-color="#3a2d79"/><stop offset="0.9557" stop-color="#392a73"/><stop offset="1" stop-color="#392a73"/></linearGradient><linearGradient id="c41" gradientUnits="userSpaceOnUse" x1="351.4" x2="236.6"><stop offset="0" stop-color="#c6f034"/><stop offset="0.0125" stop-color="#c6f034"/><stop offset="0.0125" stop-color="#75fe5c"/><stop offset="0.025" stop-color="#75fe5c"/><stop offset="0.025" stop-color="#35f394"/><stop offset="0.0376" stop-color="#35f394"/><stop offset="0.0376" stop-color="#1fe9af"/><stop offset="0.0505" stop-color="#1fe9af"/><stop offset="0.0505" stop-color="#18d9c8"/><stop offset="0.0635" stop-color="#18d9c8"/><stop offset="0.0635" stop-color="#1fc9dd"/><stop offset="0.0784" stop-color="#1fc9dd"/><stop offset="0.0784" stop-color="#2ab9ee"/><stop offset="0.0941" stop-color="#2ab9ee"/><stop offset="0.0941" stop-color="#35abf8"/><stop offset="0.11" stop-color="#35abf8"/><stop offset="0.1181" stop-color="#3ba0fd"/><stop offset="0.1851" stop-color="#4685fa"/><stop offset="0.3425" stop-color="#4559cb"/><stop offset="0.4308" stop-color="#4249b1"/><stop offset="0.6244" stop-color="#3e3891"/><stop offset="0.7994" stop-color="#3b2f80"/><stop offset="0.8344" stop-color="#3b2f80"/><stop offset="0.8693" stop-color="#3a2d79"/><stop offset="0.9216" stop-color="#3a2d79"/><stop offset="0.9564" stop-color="#392a73"/><stop offset="1" stop-color="#392a73"/></linearGradient><linearGradient id="c42" gradientUnits="userSpaceOnUse" x1="354.3" x2="237.6"><stop offset="0" stop-color="#c6f034"/><stop offset="0.0122" stop-color="#c6f034"/><stop offset="0.0122" stop-color="#79fe59"/><stop offset="0.0244" stop-color="#79fe59"/><stop offset="0.0244" stop-color="#35f394"/><stop offset="0.0368" stop-color="#35f394"/><stop offset="0.0368" stop-color="#1fe9af"/><stop offset="0.0494" stop-color="#1fe9af"/><stop offset="0.0494" stop-color="#18d9c8"/><stop offset="0.0622" stop-color="#18d9c8"/><stop offset="0.0622" stop-color="#1fc9dd"/><stop offset="0.0768" stop-color="#1fc9dd"/><stop offset="0.0768" stop-color="#2ab9ee"/><stop offset="0.0921" stop-color="#2ab9ee"/><stop offset="0.0921" stop-color="#33adf7"/><stop offset="0.1077" stop-color="#33adf7"/><stop offset="0.1157" stop-color="#3aa3fc"/><stop offset="0.1815" stop-color="#4685fa"/><stop offset="0.3537" stop-color="#4456c7"/><stop offset="0.4751" stop-color="#4143a7"/><stop offset="0.6652" stop-color="#3d358b"/><stop offset="0.7513" stop-color="#3c3286"/><stop offset="0.7856" stop-color="#3b2f80"/><stop offset="0.82" stop-color="#3b2f80"/><stop offset="0.8543" stop-color="#3a2d79"/><stop offset="0.9229" stop-color="#3a2d79"/><stop offset="0.9572" stop-color="#392a73"/><stop offset="1" stop-color="#392a73"/></linearGradient><linearGradient id="c43" gradientUnits="userSpaceOnUse" x1="357.3" x2="238.6"><stop offset="0" stop-color="#c3f134"/><stop offset="0.0119" stop-color="#c3f134"/><stop offset="0.0119" stop-color="#79fe59"/><stop offset="0.0239" stop-color="#79fe59"/><stop offset="0.0239" stop-color="#38f491"/><stop offset="0.036" stop-color="#38f491"/><stop offset="0.036" stop-color="#20eaac"/><stop offset="0.0483" stop-color="#20eaac"/><stop offset="0.0483" stop-color="#18dbc5"/><stop offset="0.0609" stop-color="#18dbc5"/><stop offset="0.0609" stop-color="#1ecbda"/><stop offset="0.0752" stop-color="#1ecbda"/><stop offset="0.0752" stop-color="#28bceb"/><stop offset="0.0902" stop-color="#28bceb"/><stop offset="0.0902" stop-color="#31aff5"/><stop offset="0.1056" stop-color="#31aff5"/><stop offset="0.1292" stop-color="#3e9bfe"/><stop offset="0.2114" stop-color="#477bf2"/><stop offset="0.3815" stop-color="#4451bf"/><stop offset="0.535" stop-color="#3f3e9c"/><stop offset="0.7385" stop-color="#3c3286"/><stop offset="0.823" stop-color="#3b2f80"/><stop offset="0.8568" stop-color="#3a2d79"/><stop offset="0.9073" stop-color="#3a2d79"/><stop offset="0.9411" stop-color="#392a73"/><stop offset="1" stop-color="#392a73"/></linearGradient><linearGradient id="c44" gradientUnits="userSpaceOnUse" x1="360.2" x2="241.5"><stop offset="0" stop-color="#c3f134"/><stop offset="0.0119" stop-color="#c3f134"/><stop offset="0.0119" stop-color="#79fe59"/><stop offset="0.0238" stop-color="#79fe59"/><stop offset="0.0238" stop-color="#38f491"/><stop offset="0.0359" stop-color="#38f491"/><stop offset="0.0359" stop-color="#20eaac"/><stop offset="0.0481" stop-color="#20eaac"/><stop offset="0.0481" stop-color="#18dbc5"/><stop offset="0.0606" stop-color="#18dbc5"/><stop offset="0.0606" stop-color="#1ecbda"/><stop offset="0.0749" stop-color="#1ecbda"/><stop offset="0.0749" stop-color="#28bceb"/><stop offset="0.0899" stop-color="#28bceb"/><stop offset="0.0899" stop-color="#31aff5"/><stop offset="0.1052" stop-color="#31aff5"/><stop offset="0.113" stop-color="#38a5fb"/><stop offset="0.1776" stop-color="#4687fb"/><stop offset="0.3299" stop-color="#455ccf"/><stop offset="0.4154" stop-color="#424bb5"/><stop offset="0.6368" stop-color="#3e3891"/><stop offset="0.7553" stop-color="#3c3286"/><stop offset="0.8398" stop-color="#3b2f80"/><stop offset="0.8736" stop-color="#3a2d79"/><stop offset="0.9242" stop-color="#3a2d79"/><stop offset="0.9579" stop-color="#392a73"/><stop offset="1" stop-color="#392a73"/></linearGradient><linearGradient id="c45" gradientUnits="userSpaceOnUse" x1="363.1" x2="242.5"><stop offset="0" stop-color="#c3f134"/><stop offset="0.0116" stop-color="#c3f134"/><stop offset="0.0116" stop-color="#79fe59"/><stop offset="0.0233" stop-color="#79fe59"/><stop offset="0.0233" stop-color="#38f491"/><stop offset="0.0351" stop-color="#38f491"/><stop offset="0.0351" stop-color="#22ebaa"/><stop offset="0.0471" stop-color="#22ebaa"/><stop offset="0.0471" stop-color="#18ddc2"/><stop offset="0.0593" stop-color="#18ddc2"/><stop offset="0.0593" stop-color="#1ccdd8"/><stop offset="0.0733" stop-color="#1ccdd8"/><stop offset="0.0733" stop-color="#27bee9"/><stop offset="0.088" stop-color="#27bee9"/><stop offset="0.088" stop-color="#2fb2f4"/><stop offset="0.1031" stop-color="#2fb2f4"/><stop offset="0.1263" stop-color="#3d9efe"/><stop offset="0.1906" stop-color="#4682f8"/><stop offset="0.3578" stop-color="#4456c7"/><stop offset="0.509" stop-color="#4040a2"/><stop offset="0.6261" stop-color="#3e3891"/><stop offset="0.7594" stop-color="#3c3286"/><stop offset="0.7926" stop-color="#3b2f80"/><stop offset="0.8425" stop-color="#3b2f80"/><stop offset="0.8757" stop-color="#3a2d79"/><stop offset="0.9254" stop-color="#3a2d79"/><stop offset="0.9586" stop-color="#392a73"/><stop offset="1" stop-color="#392a73"/></linearGradient><linearGradient id="c46" gradientUnits="userSpaceOnUse" x1="366.1" x2="245.4"><stop offset="0" stop-color="#c3f134"/><stop offset="0.0115" stop-color="#c3f134"/><stop offset="0.0115" stop-color="#79fe59"/><stop offset="0.0232" stop-color="#79fe59"/><stop offset="0.0232" stop-color="#3cf58e"/><stop offset="0.0349" stop-color="#3cf58e"/><stop offset="0.0349" stop-color="#22ebaa"/><stop offset="0.0469" stop-color="#22ebaa"/><stop offset="0.0469" stop-color="#18ddc2"/><stop offset="0.0591" stop-color="#18ddc2"/><stop offset="0.0591" stop-color="#1ccdd8"/><stop offset="0.073" stop-color="#1ccdd8"/><stop offset="0.073" stop-color="#27bee9"/><stop offset="0.0877" stop-color="#27bee9"/><stop offset="0.0877" stop-color="#2fb2f4"/><stop offset="0.1027" stop-color="#2fb2f4"/><stop offset="0.1104" stop-color="#37a8fa"/><stop offset="0.1738" stop-color="#458afc"/><stop offset="0.3238" stop-color="#455ed3"/><stop offset="0.4416" stop-color="#4249b1"/><stop offset="0.559" stop-color="#3f3e9c"/><stop offset="0.7593" stop-color="#3c3286"/><stop offset="0.8424" stop-color="#3b2f80"/><stop offset="0.9254" stop-color="#3a2d79"/><stop offset="1" stop-color="#392a73"/></linearGradient><linearGradient id="c47" gradientUnits="userSpaceOnUse" x1="369" x2="246.4"><stop offset="0" stop-color="#c1f334"/><stop offset="0.0113" stop-color="#c1f334"/><stop offset="0.0113" stop-color="#7dff56"/><stop offset="0.0227" stop-color="#7dff56"/><stop offset="0.0227" stop-color="#3cf58e"/><stop offset="0.0342" stop-color="#3cf58e"/><stop offset="0.0342" stop-color="#22ebaa"/><stop offset="0.0459" stop-color="#22ebaa"/><stop offset="0.0459" stop-color="#18dec0"/><stop offset="0.0578" stop-color="#18dec0"/><stop offset="0.0578" stop-color="#1bd0d5"/><stop offset="0.0715" stop-color="#1bd0d5"/><stop offset="0.0715" stop-color="#25c0e7"/><stop offset="0.0859" stop-color="#25c0e7"/><stop offset="0.0859" stop-color="#2eb4f2"/><stop offset="0.1007" stop-color="#2eb4f2"/><stop offset="0.1082" stop-color="#35abf8"/><stop offset="0.1706" stop-color="#458cfd"/><stop offset="0.3182" stop-color="#455ed3"/><stop offset="0.4176" stop-color="#424bb5"/><stop offset="0.5991" stop-color="#3f3b97"/><stop offset="0.6976" stop-color="#3d358b"/><stop offset="0.7795" stop-color="#3c3286"/><stop offset="0.8123" stop-color="#3b2f80"/><stop offset="0.8449" stop-color="#3b2f80"/><stop offset="0.8776" stop-color="#3a2d79"/><stop offset="0.9429" stop-color="#3a2d79"/><stop offset="0.9755" stop-color="#392a73"/><stop offset="1" stop-color="#392a73"/></linearGradient><linearGradient id="c48" gradientUnits="userSpaceOnUse" x1="371.9" x2="249.3"><stop offset="0" stop-color="#c1f334"/><stop offset="0.0112" stop-color="#c1f334"/><stop offset="0.0112" stop-color="#7dff56"/><stop offset="0.0226" stop-color="#7dff56"/><stop offset="0.0226" stop-color="#3ff68a"/><stop offset="0.034" stop-color="#3ff68a"/><stop offset="0.034" stop-color="#25eca7"/><stop offset="0.0457" stop-color="#25eca7"/><stop offset="0.0457" stop-color="#18dec0"/><stop offset="0.0576" stop-color="#18dec0"/><stop offset="0.0576" stop-color="#1ad2d2"/><stop offset="0.0712" stop-color="#1ad2d2"/><stop offset="0.0712" stop-color="#25c0e7"/><stop offset="0.0856" stop-color="#25c0e7"/><stop offset="0.0856" stop-color="#2eb4f2"/><stop offset="0.1003" stop-color="#2eb4f2"/><stop offset="0.1078" stop-color="#35abf8"/><stop offset="0.1702" stop-color="#458cfd"/><stop offset="0.3012" stop-color="#4664da"/><stop offset="0.467" stop-color="#4146ac"/><stop offset="0.533" stop-color="#4040a2"/><stop offset="0.6483" stop-color="#3e3891"/><stop offset="0.7631" stop-color="#3c3286"/><stop offset="0.8449" stop-color="#3b2f80"/><stop offset="0.9266" stop-color="#3a2d79"/><stop offset="0.9592" stop-color="#3a2d79"/><stop offset="1" stop-color="#392a73"/></linearGradient><linearGradient id="c49" gradientUnits="userSpaceOnUse" x1="374.9" x2="202.4"><stop offset="0" stop-color="#c1f334"/><stop offset="0.008" stop-color="#c1f334"/><stop offset="0.008" stop-color="#7dff56"/><stop offset="0.016" stop-color="#7dff56"/><stop offset="0.016" stop-color="#3ff68a"/><stop offset="0.0241" stop-color="#3ff68a"/><stop offset="0.0241" stop-color="#25eca7"/><stop offset="0.0323" stop-color="#25eca7"/><stop offset="0.0323" stop-color="#18e0bd"/><stop offset="0.0407" stop-color="#18e0bd"/><stop offset="0.0407" stop-color="#1ad2d2"/><stop offset="0.0504" stop-color="#1ad2d2"/><stop offset="0.0504" stop-color="#23c3e4"/><stop offset="0.0606" stop-color="#23c3e4"/><stop offset="0.0606" stop-color="#2cb7f0"/><stop offset="0.071" stop-color="#2cb7f0"/><stop offset="0.0764" stop-color="#33adf7"/><stop offset="0.1206" stop-color="#448ffe"/><stop offset="0.2256" stop-color="#4661d6"/><stop offset="0.3199" stop-color="#4249b1"/><stop offset="0.4371" stop-color="#3f3b97"/><stop offset="0.5538" stop-color="#3c3286"/><stop offset="0.6119" stop-color="#3b2f80"/><stop offset="0.6699" stop-color="#3a2d79"/><stop offset="0.6931" stop-color="#3a2d79"/><stop offset="0.7163" stop-color="#392a73"/><stop offset="0.7742" stop-color="#392a73"/><stop offset="0.7974" stop-color="#38276d"/><stop offset="0.8899" stop-color="#38276d"/><stop offset="0.913" stop-color="#372466"/><stop offset="1" stop-color="#372466"/></linearGradient><linearGradient id="c50" gradientUnits="userSpaceOnUse" x1="377.8" x2="205.3"><stop offset="0" stop-color="#c1f334"/><stop offset="0.0079" stop-color="#c1f334"/><stop offset="0.0079" stop-color="#7dff56"/><stop offset="0.0159" stop-color="#7dff56"/><stop offset="0.0159" stop-color="#3ff68a"/><stop offset="0.0239" stop-color="#3ff68a"/><stop offset="0.0239" stop-color="#27eea4"/><stop offset="0.0322" stop-color="#27eea4"/><stop offset="0.0322" stop-color="#18e0bd"/><stop offset="0.0405" stop-color="#18e0bd"/><stop offset="0.0405" stop-color="#1ad4d0"/><stop offset="0.0502" stop-color="#1ad4d0"/><stop offset="0.0502" stop-color="#22c5e2"/><stop offset="0.0603" stop-color="#22c5e2"/><stop offset="0.0603" stop-color="#2cb7f0"/><stop offset="0.0708" stop-color="#2cb7f0"/><stop offset="0.0761" stop-color="#33adf7"/><stop offset="0.1203" stop-color="#448ffe"/><stop offset="0.2135" stop-color="#4666dd"/><stop offset="0.2961" stop-color="#434eba"/><stop offset="0.4135" stop-color="#3f3e9c"/><stop offset="0.5187" stop-color="#3d358b"/><stop offset="0.5769" stop-color="#3c3286"/><stop offset="0.6001" stop-color="#3b2f80"/><stop offset="0.635" stop-color="#3b2f80"/><stop offset="0.6582" stop-color="#3a2d79"/><stop offset="0.7046" stop-color="#3a2d79"/><stop offset="0.7278" stop-color="#392a73"/><stop offset="0.7857" stop-color="#392a73"/><stop offset="0.8088" stop-color="#38276d"/><stop offset="0.9014" stop-color="#38276d"/><stop offset="0.9245" stop-color="#372466"/><stop offset="1" stop-color="#372466"/></linearGradient><linearGradient id="c51" gradientUnits="userSpaceOnUse" x1="380.7" x2="208.2"><stop offset="0" stop-color="#c1f334"/><stop offset="0.0079" stop-color="#c1f334"/><stop offset="0.0079" stop-color="#7dff56"/><stop offset="0.0158" stop-color="#7dff56"/><stop offset="0.0158" stop-color="#43f787"/><stop offset="0.0238" stop-color="#43f787"/><stop offset="0.0238" stop-color="#27eea4"/><stop offset="0.032" stop-color="#27eea4"/><stop offset="0.032" stop-color="#19e2bb"/><stop offset="0.0404" stop-color="#19e2bb"/><stop offset="0.0404" stop-color="#1ad4d0"/><stop offset="0.05" stop-color="#1ad4d0"/><stop offset="0.05" stop-color="#22c5e2"/><stop offset="0.0601" stop-color="#22c5e2"/><stop offset="0.0601" stop-color="#2ab9ee"/><stop offset="0.0705" stop-color="#2ab9ee"/><stop offset="0.0758" stop-color="#31aff5"/><stop offset="0.12" stop-color="#4391fe"/><stop offset="0.2014" stop-color="#466be3"/><stop offset="0.3312" stop-color="#4249b1"/><stop offset="0.4484" stop-color="#3f3b97"/><stop offset="0.5651" stop-color="#3c3286"/><stop offset="0.5883" stop-color="#3c3286"/><stop offset="0.6116" stop-color="#3b2f80"/><stop offset="0.6464" stop-color="#3b2f80"/><stop offset="0.6697" stop-color="#3a2d79"/><stop offset="0.7161" stop-color="#3a2d79"/><stop offset="0.7392" stop-color="#392a73"/><stop offset="0.7971" stop-color="#392a73"/><stop offset="0.8203" stop-color="#38276d"/><stop offset="0.9244" stop-color="#38276d"/><stop offset="0.9475" stop-color="#372466"/><stop offset="1" stop-color="#372466"/></linearGradient><linearGradient id="c52" gradientUnits="userSpaceOnUse" x1="383.7" x2="211.2"><stop offset="0" stop-color="#bef434"/><stop offset="0.0078" stop-color="#bef434"/><stop offset="0.0078" stop-color="#7dff56"/><stop offset="0.0157" stop-color="#7dff56"/><stop offset="0.0157" stop-color="#43f787"/><stop offset="0.0237" stop-color="#43f787"/><stop offset="0.0237" stop-color="#27eea4"/><stop offset="0.0318" stop-color="#27eea4"/><stop offset="0.0318" stop-color="#19e2bb"/><stop offset="0.0402" stop-color="#19e2bb"/><stop offset="0.0402" stop-color="#1ad4d0"/><stop offset="0.0497" stop-color="#1ad4d0"/><stop offset="0.0497" stop-color="#20c7df"/><stop offset="0.0598" stop-color="#20c7df"/><stop offset="0.0598" stop-color="#2ab9ee"/><stop offset="0.0702" stop-color="#2ab9ee"/><stop offset="0.0755" stop-color="#31aff5"/><stop offset="0.1197" stop-color="#4391fe"/><stop offset="0.2129" stop-color="#4669e0"/><stop offset="0.3191" stop-color="#424bb5"/><stop offset="0.4249" stop-color="#3f3e9c"/><stop offset="0.53" stop-color="#3d358b"/><stop offset="0.5882" stop-color="#3c3286"/><stop offset="0.6115" stop-color="#3b2f80"/><stop offset="0.6463" stop-color="#3b2f80"/><stop offset="0.6695" stop-color="#3a2d79"/><stop offset="0.7275" stop-color="#3a2d79"/><stop offset="0.7507" stop-color="#392a73"/><stop offset="0.8202" stop-color="#392a73"/><stop offset="0.8433" stop-color="#38276d"/><stop offset="0.9359" stop-color="#38276d"/><stop offset="0.959" stop-color="#372466"/><stop offset="1" stop-color="#372466"/></linearGradient><linearGradient id="c53" gradientUnits="userSpaceOnUse" x1="386.6" x2="214.1"><stop offset="0" stop-color="#bef434"/><stop offset="0.0078" stop-color="#bef434"/><stop offset="0.0078" stop-color="#7dff56"/><stop offset="0.0156" stop-color="#7dff56"/><stop offset="0.0156" stop-color="#43f787"/><stop offset="0.0236" stop-color="#43f787"/><stop offset="0.0236" stop-color="#2aefa1"/><stop offset="0.0317" stop-color="#2aefa1"/><stop offset="0.0317" stop-color="#19e2bb"/><stop offset="0.04" stop-color="#19e2bb"/><stop offset="0.04" stop-color="#19d5cd"/><stop offset="0.0495" stop-color="#19d5cd"/><stop offset="0.0495" stop-color="#20c7df"/><stop offset="0.0596" stop-color="#20c7df"/><stop offset="0.0596" stop-color="#28bceb"/><stop offset="0.0699" stop-color="#28bceb"/><stop offset="0.086" stop-color="#35abf8"/><stop offset="0.1308" stop-color="#458cfd"/><stop offset="0.2362" stop-color="#4661d6"/><stop offset="0.3071" stop-color="#434eba"/><stop offset="0.4598" stop-color="#3f3b97"/><stop offset="0.5415" stop-color="#3d358b"/><stop offset="0.5997" stop-color="#3c3286"/><stop offset="0.6229" stop-color="#3b2f80"/><stop offset="0.6578" stop-color="#3b2f80"/><stop offset="0.681" stop-color="#3a2d79"/><stop offset="0.739" stop-color="#3a2d79"/><stop offset="0.7622" stop-color="#392a73"/><stop offset="0.8317" stop-color="#392a73"/><stop offset="0.8548" stop-color="#38276d"/><stop offset="0.9473" stop-color="#38276d"/><stop offset="0.9704" stop-color="#372466"/><stop offset="1" stop-color="#372466"/></linearGradient><linearGradient id="c54" gradientUnits="userSpaceOnUse" x1="389.5" x2="217"><stop offset="0" stop-color="#bef434"/><stop offset="0.0077" stop-color="#bef434"/><stop offset="0.0077" stop-color="#80ff53"/><stop offset="0.0155" stop-color="#80ff53"/><stop offset="0.0155" stop-color="#43f787"/><stop offset="0.0235" stop-color="#43f787"/><stop offset="0.0235" stop-color="#2aefa1"/><stop offset="0.0315" stop-color="#2aefa1"/><stop offset="0.0315" stop-color="#19e3b9"/><stop offset="0.0398" stop-color="#19e3b9"/><stop offset="0.0398" stop-color="#19d5cd"/><stop offset="0.0493" stop-color="#19d5cd"/><stop offset="0.0493" stop-color="#20c7df"/><stop offset="0.0593" stop-color="#20c7df"/><stop offset="0.0593" stop-color="#28bceb"/><stop offset="0.0697" stop-color="#28bceb"/><stop offset="0.0857" stop-color="#35abf8"/><stop offset="0.1305" stop-color="#458cfd"/><stop offset="0.2241" stop-color="#4666dd"/><stop offset="0.2833" stop-color="#4454c3"/><stop offset="0.4245" stop-color="#3f3e9c"/><stop offset="0.4713" stop-color="#3f3b97"/><stop offset="0.5063" stop-color="#3e3891"/><stop offset="0.5879" stop-color="#3c3286"/><stop offset="0.6112" stop-color="#3c3286"/><stop offset="0.6344" stop-color="#3b2f80"/><stop offset="0.6693" stop-color="#3b2f80"/><stop offset="0.6925" stop-color="#3a2d79"/><stop offset="0.7505" stop-color="#3a2d79"/><stop offset="0.7736" stop-color="#392a73"/><stop offset="0.8431" stop-color="#392a73"/><stop offset="0.8663" stop-color="#38276d"/><stop offset="0.9703" stop-color="#38276d"/><stop offset="0.9938" stop-color="#372466"/><stop offset="1" stop-color="#372466"/></linearGradient><linearGradient id="c55" gradientUnits="userSpaceOnUse" x1="392.5" x2="220"><stop offset="0" stop-color="#bef434"/><stop offset="0.0077" stop-color="#bef434"/><stop offset="0.0077" stop-color="#80ff53"/><stop offset="0.0155" stop-color="#80ff53"/><stop offset="0.0155" stop-color="#46f884"/><stop offset="0.0233" stop-color="#46f884"/><stop offset="0.0233" stop-color="#2aefa1"/><stop offset="0.0314" stop-color="#2aefa1"/><stop offset="0.0314" stop-color="#19e3b9"/><stop offset="0.0396" stop-color="#19e3b9"/><stop offset="0.0396" stop-color="#18d7ca"/><stop offset="0.0491" stop-color="#18d7ca"/><stop offset="0.0491" stop-color="#1fc9dd"/><stop offset="0.0591" stop-color="#1fc9dd"/><stop offset="0.0591" stop-color="#27bee9"/><stop offset="0.0694" stop-color="#27bee9"/><stop offset="0.0854" stop-color="#35abf8"/><stop offset="0.1301" stop-color="#448ffe"/><stop offset="0.2239" stop-color="#4666dd"/><stop offset="0.3656" stop-color="#4146ac"/><stop offset="0.4711" stop-color="#3f3b97"/><stop offset="0.5528" stop-color="#3d358b"/><stop offset="0.611" stop-color="#3c3286"/><stop offset="0.6343" stop-color="#3b2f80"/><stop offset="0.6807" stop-color="#3b2f80"/><stop offset="0.704" stop-color="#3a2d79"/><stop offset="0.7503" stop-color="#3a2d79"/><stop offset="0.7735" stop-color="#392a73"/><stop offset="0.8546" stop-color="#392a73"/><stop offset="0.8777" stop-color="#38276d"/><stop offset="0.9818" stop-color="#38276d"/><stop offset="1" stop-color="#372466"/></linearGradient><linearGradient id="c56" gradientUnits="userSpaceOnUse" x1="395.4" x2="222.9"><stop offset="0" stop-color="#bef434"/><stop offset="0.0077" stop-color="#bef434"/><stop offset="0.0077" stop-color="#80ff53"/><stop offset="0.0154" stop-color="#80ff53"/><stop offset="0.0154" stop-color="#46f884"/><stop offset="0.0232" stop-color="#46f884"/><stop offset="0.0232" stop-color="#2cf09e"/><stop offset="0.0312" stop-color="#2cf09e"/><stop offset="0.0312" stop-color="#1ae4b6"/><stop offset="0.0394" stop-color="#1ae4b6"/><stop offset="0.0394" stop-color="#18d7ca"/><stop offset="0.0489" stop-color="#18d7ca"/><stop offset="0.0489" stop-color="#1fc9dd"/><stop offset="0.0589" stop-color="#1fc9dd"/><stop offset="0.0589" stop-color="#27bee9"/><stop offset="0.0691" stop-color="#27bee9"/><stop offset="0.0851" stop-color="#33adf7"/><stop offset="0.1298" stop-color="#448ffe"/><stop offset="0.2118" stop-color="#466be3"/><stop offset="0.3182" stop-color="#434eba"/><stop offset="0.4475" stop-color="#3f3e9c"/><stop offset="0.5643" stop-color="#3d358b"/><stop offset="0.6225" stop-color="#3c3286"/><stop offset="0.6458" stop-color="#3b2f80"/><stop offset="0.6922" stop-color="#3b2f80"/><stop offset="0.7154" stop-color="#3a2d79"/><stop offset="0.7618" stop-color="#3a2d79"/><stop offset="0.785" stop-color="#392a73"/><stop offset="0.8661" stop-color="#392a73"/><stop offset="0.8892" stop-color="#38276d"/><stop offset="1" stop-color="#38276d"/></linearGradient><linearGradient id="c57" gradientUnits="userSpaceOnUse" x1="398.3" x2="225.8"><stop offset="0" stop-color="#bcf534"/><stop offset="0.0076" stop-color="#bcf534"/><stop offset="0.0076" stop-color="#80ff53"/><stop offset="0.0153" stop-color="#80ff53"/><stop offset="0.0153" stop-color="#46f884"/><stop offset="0.0231" stop-color="#46f884"/><stop offset="0.0231" stop-color="#2cf09e"/><stop offset="0.0311" stop-color="#2cf09e"/><stop offset="0.0311" stop-color="#1ae4b6"/><stop offset="0.0392" stop-color="#1ae4b6"/><stop offset="0.0392" stop-color="#18d9c8"/><stop offset="0.0486" stop-color="#18d9c8"/><stop offset="0.0486" stop-color="#1ecbda"/><stop offset="0.0586" stop-color="#1ecbda"/><stop offset="0.0586" stop-color="#25c0e7"/><stop offset="0.0689" stop-color="#25c0e7"/><stop offset="0.0848" stop-color="#33adf7"/><stop offset="0.1295" stop-color="#4391fe"/><stop offset="0.2233" stop-color="#4669e0"/><stop offset="0.3061" stop-color="#4451bf"/><stop offset="0.4239" stop-color="#4040a2"/><stop offset="0.5642" stop-color="#3d358b"/><stop offset="0.634" stop-color="#3c3286"/><stop offset="0.6572" stop-color="#3b2f80"/><stop offset="0.6921" stop-color="#3b2f80"/><stop offset="0.7153" stop-color="#3a2d79"/><stop offset="0.7733" stop-color="#3a2d79"/><stop offset="0.7965" stop-color="#392a73"/><stop offset="0.8775" stop-color="#392a73"/><stop offset="0.9007" stop-color="#38276d"/><stop offset="1" stop-color="#38276d"/></linearGradient><linearGradient id="c58" gradientUnits="userSpaceOnUse" x1="401.3" x2="228.8"><stop offset="0" stop-color="#bcf534"/><stop offset="0.0076" stop-color="#bcf534"/><stop offset="0.0076" stop-color="#80ff53"/><stop offset="0.0152" stop-color="#80ff53"/><stop offset="0.0152" stop-color="#46f884"/><stop offset="0.023" stop-color="#46f884"/><stop offset="0.023" stop-color="#2cf09e"/><stop offset="0.0309" stop-color="#2cf09e"/><stop offset="0.0309" stop-color="#1ae4b6"/><stop offset="0.039" stop-color="#1ae4b6"/><stop offset="0.039" stop-color="#18d9c8"/><stop offset="0.0484" stop-color="#18d9c8"/><stop offset="0.0484" stop-color="#1ecbda"/><stop offset="0.0584" stop-color="#1ecbda"/><stop offset="0.0584" stop-color="#25c0e7"/><stop offset="0.0686" stop-color="#25c0e7"/><stop offset="0.0739" stop-color="#2cb7f0"/><stop offset="0.1178" stop-color="#4099ff"/><stop offset="0.1758" stop-color="#477bf2"/><stop offset="0.2941" stop-color="#4456c7"/><stop offset="0.4002" stop-color="#4143a7"/><stop offset="0.5757" stop-color="#3d358b"/><stop offset="0.6455" stop-color="#3c3286"/><stop offset="0.6687" stop-color="#3b2f80"/><stop offset="0.7036" stop-color="#3b2f80"/><stop offset="0.7268" stop-color="#3a2d79"/><stop offset="0.7848" stop-color="#3a2d79"/><stop offset="0.8079" stop-color="#392a73"/><stop offset="0.889" stop-color="#392a73"/><stop offset="0.9121" stop-color="#38276d"/><stop offset="1" stop-color="#38276d"/></linearGradient><linearGradient id="c59" gradientUnits="userSpaceOnUse" x1="404.2" x2="231.7"><stop offset="0" stop-color="#bcf534"/><stop offset="0.0075" stop-color="#bcf534"/><stop offset="0.0075" stop-color="#80ff53"/><stop offset="0.0151" stop-color="#80ff53"/><stop offset="0.0151" stop-color="#4af880"/><stop offset="0.0229" stop-color="#4af880"/><stop offset="0.0229" stop-color="#2ff19b"/><stop offset="0.0307" stop-color="#2ff19b"/><stop offset="0.0307" stop-color="#1ce6b4"/><stop offset="0.0388" stop-color="#1ce6b4"/><stop offset="0.0388" stop-color="#18d9c8"/><stop offset="0.0482" stop-color="#18d9c8"/><stop offset="0.0482" stop-color="#1ccdd8"/><stop offset="0.0581" stop-color="#1ccdd8"/><stop offset="0.0581" stop-color="#25c0e7"/><stop offset="0.0683" stop-color="#25c0e7"/><stop offset="0.0736" stop-color="#2cb7f0"/><stop offset="0.1175" stop-color="#4099ff"/><stop offset="0.1872" stop-color="#4778f0"/><stop offset="0.282" stop-color="#4559cb"/><stop offset="0.3765" stop-color="#4146ac"/><stop offset="0.5405" stop-color="#3e3891"/><stop offset="0.6453" stop-color="#3c3286"/><stop offset="0.6686" stop-color="#3b2f80"/><stop offset="0.7151" stop-color="#3b2f80"/><stop offset="0.7383" stop-color="#3a2d79"/><stop offset="0.7962" stop-color="#3a2d79"/><stop offset="0.8194" stop-color="#392a73"/><stop offset="0.912" stop-color="#392a73"/><stop offset="0.9352" stop-color="#38276d"/><stop offset="1" stop-color="#38276d"/></linearGradient><linearGradient id="c60" gradientUnits="userSpaceOnUse" x1="407.1" x2="234.6"><stop offset="0" stop-color="#bcf534"/><stop offset="0.0075" stop-color="#bcf534"/><stop offset="0.0075" stop-color="#80ff53"/><stop offset="0.015" stop-color="#80ff53"/><stop offset="0.015" stop-color="#4af880"/><stop offset="0.0227" stop-color="#4af880"/><stop offset="0.0227" stop-color="#2ff19b"/><stop offset="0.0306" stop-color="#2ff19b"/><stop offset="0.0306" stop-color="#1ce6b4"/><stop offset="0.0387" stop-color="#1ce6b4"/><stop offset="0.0387" stop-color="#18dbc5"/><stop offset="0.048" stop-color="#18dbc5"/><stop offset="0.048" stop-color="#1ccdd8"/><stop offset="0.0579" stop-color="#1ccdd8"/><stop offset="0.0579" stop-color="#23c3e4"/><stop offset="0.0681" stop-color="#23c3e4"/><stop offset="0.0733" stop-color="#2ab9ee"/><stop offset="0.1172" stop-color="#3e9bfe"/><stop offset="0.1752" stop-color="#467df4"/><stop offset="0.2936" stop-color="#4456c7"/><stop offset="0.388" stop-color="#4146ac"/><stop offset="0.5053" stop-color="#3f3b97"/><stop offset="0.587" stop-color="#3d358b"/><stop offset="0.6568" stop-color="#3c3286"/><stop offset="0.6801" stop-color="#3b2f80"/><stop offset="0.7265" stop-color="#3b2f80"/><stop offset="0.7497" stop-color="#3a2d79"/><stop offset="0.8077" stop-color="#3a2d79"/><stop offset="0.8309" stop-color="#392a73"/><stop offset="0.9235" stop-color="#392a73"/><stop offset="0.9466" stop-color="#38276d"/><stop offset="1" stop-color="#38276d"/></linearGradient><linearGradient id="c61" gradientUnits="userSpaceOnUse" x1="410.1" x2="237.6"><stop offset="0" stop-color="#bcf534"/><stop offset="0.0074" stop-color="#bcf534"/><stop offset="0.0074" stop-color="#80ff53"/><stop offset="0.015" stop-color="#80ff53"/><stop offset="0.015" stop-color="#4af880"/><stop offset="0.0226" stop-color="#4af880"/><stop offset="0.0226" stop-color="#2ff19b"/><stop offset="0.0304" stop-color="#2ff19b"/><stop offset="0.0304" stop-color="#1ce6b4"/><stop offset="0.0385" stop-color="#1ce6b4"/><stop offset="0.0385" stop-color="#18dbc5"/><stop offset="0.0478" stop-color="#18dbc5"/><stop offset="0.0478" stop-color="#1ccdd8"/><stop offset="0.0576" stop-color="#1ccdd8"/><stop offset="0.0576" stop-color="#23c3e4"/><stop offset="0.0678" stop-color="#23c3e4"/><stop offset="0.073" stop-color="#2ab9ee"/><stop offset="0.1168" stop-color="#3e9bfe"/><stop offset="0.1748" stop-color="#467df4"/><stop offset="0.2933" stop-color="#4456c7"/><stop offset="0.4348" stop-color="#4040a2"/><stop offset="0.4817" stop-color="#3f3e9c"/><stop offset="0.5519" stop-color="#3e3891"/><stop offset="0.6567" stop-color="#3c3286"/><stop offset="0.7148" stop-color="#3b2f80"/><stop offset="0.738" stop-color="#3b2f80"/><stop offset="0.7612" stop-color="#3a2d79"/><stop offset="0.8192" stop-color="#3a2d79"/><stop offset="0.8424" stop-color="#392a73"/><stop offset="0.935" stop-color="#392a73"/><stop offset="0.9581" stop-color="#38276d"/><stop offset="1" stop-color="#38276d"/></linearGradient><linearGradient id="c62" gradientUnits="userSpaceOnUse" x1="413" x2="240.5"><stop offset="0" stop-color="#b9f635"/><stop offset="0.0074" stop-color="#b9f635"/><stop offset="0.0074" stop-color="#80ff53"/><stop offset="0.0149" stop-color="#80ff53"/><stop offset="0.0149" stop-color="#4af880"/><stop offset="0.0225" stop-color="#4af880"/><stop offset="0.0225" stop-color="#2ff19b"/><stop offset="0.0303" stop-color="#2ff19b"/><stop offset="0.0303" stop-color="#1de7b2"/><stop offset="0.0383" stop-color="#1de7b2"/><stop offset="0.0383" stop-color="#18ddc2"/><stop offset="0.0475" stop-color="#18ddc2"/><stop offset="0.0475" stop-color="#1bd0d5"/><stop offset="0.0574" stop-color="#1bd0d5"/><stop offset="0.0574" stop-color="#22c5e2"/><stop offset="0.0675" stop-color="#22c5e2"/><stop offset="0.0834" stop-color="#2fb2f4"/><stop offset="0.1279" stop-color="#4196ff"/><stop offset="0.1982" stop-color="#4776ee"/><stop offset="0.2931" stop-color="#4559cb"/><stop offset="0.3758" stop-color="#4249b1"/><stop offset="0.4816" stop-color="#3f3e9c"/><stop offset="0.5984" stop-color="#3d358b"/><stop offset="0.6798" stop-color="#3c3286"/><stop offset="0.7031" stop-color="#3b2f80"/><stop offset="0.7495" stop-color="#3b2f80"/><stop offset="0.7727" stop-color="#3a2d79"/><stop offset="0.8307" stop-color="#3a2d79"/><stop offset="0.8538" stop-color="#392a73"/><stop offset="0.9464" stop-color="#392a73"/><stop offset="0.9696" stop-color="#38276d"/><stop offset="1" stop-color="#38276d"/></linearGradient><linearGradient id="c63" gradientUnits="userSpaceOnUse" x1="415.9" x2="243.4"><stop offset="0" stop-color="#b9f635"/><stop offset="0.0074" stop-color="#b9f635"/><stop offset="0.0074" stop-color="#80ff53"/><stop offset="0.0148" stop-color="#80ff53"/><stop offset="0.0148" stop-color="#4af880"/><stop offset="0.0224" stop-color="#4af880"/><stop offset="0.0224" stop-color="#32f298"/><stop offset="0.0301" stop-color="#32f298"/><stop offset="0.0301" stop-color="#1de7b2"/><stop offset="0.0381" stop-color="#1de7b2"/><stop offset="0.0381" stop-color="#18ddc2"/><stop offset="0.0473" stop-color="#18ddc2"/><stop offset="0.0473" stop-color="#1bd0d5"/><stop offset="0.0571" stop-color="#1bd0d5"/><stop offset="0.0571" stop-color="#22c5e2"/><stop offset="0.0673" stop-color="#22c5e2"/><stop offset="0.0725" stop-color="#28bceb"/><stop offset="0.1162" stop-color="#3d9efe"/><stop offset="0.1742" stop-color="#4680f6"/><stop offset="0.2928" stop-color="#4559cb"/><stop offset="0.3992" stop-color="#4146ac"/><stop offset="0.5165" stop-color="#3f3b97"/><stop offset="0.6215" stop-color="#3d358b"/><stop offset="0.6564" stop-color="#3c3286"/><stop offset="0.6797" stop-color="#3c3286"/><stop offset="0.7029" stop-color="#3b2f80"/><stop offset="0.7494" stop-color="#3b2f80"/><stop offset="0.7726" stop-color="#3a2d79"/><stop offset="0.8421" stop-color="#3a2d79"/><stop offset="0.8653" stop-color="#392a73"/><stop offset="0.9579" stop-color="#392a73"/><stop offset="0.9811" stop-color="#38276d"/><stop offset="1" stop-color="#38276d"/></linearGradient><linearGradient id="c64" gradientUnits="userSpaceOnUse" x1="418.9" x2="246.4"><stop offset="0" stop-color="#b9f635"/><stop offset="0.0073" stop-color="#b9f635"/><stop offset="0.0073" stop-color="#80ff53"/><stop offset="0.0147" stop-color="#80ff53"/><stop offset="0.0147" stop-color="#4ef97d"/><stop offset="0.0222" stop-color="#4ef97d"/><stop offset="0.0222" stop-color="#32f298"/><stop offset="0.03" stop-color="#32f298"/><stop offset="0.03" stop-color="#1de7b2"/><stop offset="0.0379" stop-color="#1de7b2"/><stop offset="0.0379" stop-color="#18ddc2"/><stop offset="0.0471" stop-color="#18ddc2"/><stop offset="0.0471" stop-color="#1ad2d2"/><stop offset="0.0569" stop-color="#1ad2d2"/><stop offset="0.0569" stop-color="#22c5e2"/><stop offset="0.067" stop-color="#22c5e2"/><stop offset="0.0722" stop-color="#28bceb"/><stop offset="0.1159" stop-color="#3d9efe"/><stop offset="0.1739" stop-color="#4680f6"/><stop offset="0.2926" stop-color="#4559cb"/><stop offset="0.446" stop-color="#4040a2"/><stop offset="0.6097" stop-color="#3d358b"/><stop offset="0.6912" stop-color="#3c3286"/><stop offset="0.7144" stop-color="#3b2f80"/><stop offset="0.7609" stop-color="#3b2f80"/><stop offset="0.7841" stop-color="#3a2d79"/><stop offset="0.8536" stop-color="#3a2d79"/><stop offset="0.8768" stop-color="#392a73"/><stop offset="0.981" stop-color="#392a73"/><stop offset="1" stop-color="#38276d"/></linearGradient><linearGradient id="c65" gradientUnits="userSpaceOnUse" x1="421.8" x2="249.3"><stop offset="0" stop-color="#b9f635"/><stop offset="0.0073" stop-color="#b9f635"/><stop offset="0.0073" stop-color="#80ff53"/><stop offset="0.0146" stop-color="#80ff53"/><stop offset="0.0146" stop-color="#4ef97d"/><stop offset="0.0221" stop-color="#4ef97d"/><stop offset="0.0221" stop-color="#32f298"/><stop offset="0.0298" stop-color="#32f298"/><stop offset="0.0298" stop-color="#1fe9af"/><stop offset="0.0377" stop-color="#1fe9af"/><stop offset="0.0377" stop-color="#18dec0"/><stop offset="0.0469" stop-color="#18dec0"/><stop offset="0.0469" stop-color="#1ad2d2"/><stop offset="0.0566" stop-color="#1ad2d2"/><stop offset="0.0566" stop-color="#20c7df"/><stop offset="0.0667" stop-color="#20c7df"/><stop offset="0.0719" stop-color="#27bee9"/><stop offset="0.1044" stop-color="#38a5fb"/><stop offset="0.1619" stop-color="#4687fb"/><stop offset="0.2567" stop-color="#4664da"/><stop offset="0.387" stop-color="#4249b1"/><stop offset="0.4928" stop-color="#3f3e9c"/><stop offset="0.5746" stop-color="#3e3891"/><stop offset="0.6445" stop-color="#3d358b"/><stop offset="0.6794" stop-color="#3c3286"/><stop offset="0.7027" stop-color="#3c3286"/><stop offset="0.7259" stop-color="#3b2f80"/><stop offset="0.7724" stop-color="#3b2f80"/><stop offset="0.7956" stop-color="#3a2d79"/><stop offset="0.8651" stop-color="#3a2d79"/><stop offset="0.8883" stop-color="#392a73"/><stop offset="1" stop-color="#392a73"/></linearGradient><linearGradient id="c66" gradientUnits="userSpaceOnUse" x1="424.7" x2="252.2"><stop offset="0" stop-color="#b7f735"/><stop offset="0.0072" stop-color="#b7f735"/><stop offset="0.0072" stop-color="#80ff53"/><stop offset="0.0146" stop-color="#80ff53"/><stop offset="0.0146" stop-color="#4ef97d"/><stop offset="0.022" stop-color="#4ef97d"/><stop offset="0.022" stop-color="#32f298"/><stop offset="0.0296" stop-color="#32f298"/><stop offset="0.0296" stop-color="#1fe9af"/><stop offset="0.0375" stop-color="#1fe9af"/><stop offset="0.0375" stop-color="#18dec0"/><stop offset="0.0467" stop-color="#18dec0"/><stop offset="0.0467" stop-color="#1ad2d2"/><stop offset="0.0564" stop-color="#1ad2d2"/><stop offset="0.0564" stop-color="#20c7df"/><stop offset="0.0665" stop-color="#20c7df"/><stop offset="0.0716" stop-color="#27bee9"/><stop offset="0.1153" stop-color="#3ba0fd"/><stop offset="0.1733" stop-color="#4682f8"/><stop offset="0.2921" stop-color="#455ccf"/><stop offset="0.3868" stop-color="#4249b1"/><stop offset="0.5861" stop-color="#3e3891"/><stop offset="0.6909" stop-color="#3c3286"/><stop offset="0.749" stop-color="#3b2f80"/><stop offset="0.7838" stop-color="#3b2f80"/><stop offset="0.807" stop-color="#3a2d79"/><stop offset="0.8766" stop-color="#3a2d79"/><stop offset="0.8998" stop-color="#392a73"/><stop offset="1" stop-color="#392a73"/></linearGradient><linearGradient id="c67" gradientUnits="userSpaceOnUse" x1="427.7" x2="255.2"><stop offset="0" stop-color="#b7f735"/><stop offset="0.0072" stop-color="#b7f735"/><stop offset="0.0072" stop-color="#84ff51"/><stop offset="0.0145" stop-color="#84ff51"/><stop offset="0.0145" stop-color="#4ef97d"/><stop offset="0.0219" stop-color="#4ef97d"/><stop offset="0.0219" stop-color="#35f394"/><stop offset="0.0295" stop-color="#35f394"/><stop offset="0.0295" stop-color="#1fe9af"/><stop offset="0.0373" stop-color="#1fe9af"/><stop offset="0.0373" stop-color="#18dec0"/><stop offset="0.0464" stop-color="#18dec0"/><stop offset="0.0464" stop-color="#1ad4d0"/><stop offset="0.0561" stop-color="#1ad4d0"/><stop offset="0.0561" stop-color="#1fc9dd"/><stop offset="0.0662" stop-color="#1fc9dd"/><stop offset="0.0819" stop-color="#2cb7f0"/><stop offset="0.1264" stop-color="#3e9bfe"/><stop offset="0.1967" stop-color="#477bf2"/><stop offset="0.2918" stop-color="#455ccf"/><stop offset="0.4337" stop-color="#4143a7"/><stop offset="0.4807" stop-color="#4040a2"/><stop offset="0.586" stop-color="#3e3891"/><stop offset="0.6559" stop-color="#3d358b"/><stop offset="0.6908" stop-color="#3c3286"/><stop offset="0.714" stop-color="#3c3286"/><stop offset="0.7373" stop-color="#3b2f80"/><stop offset="0.7953" stop-color="#3b2f80"/><stop offset="0.8185" stop-color="#3a2d79"/><stop offset="0.8881" stop-color="#3a2d79"/><stop offset="0.9112" stop-color="#392a73"/><stop offset="1" stop-color="#392a73"/></linearGradient><linearGradient id="c68" gradientUnits="userSpaceOnUse" x1="430.6" x2="258.1"><stop offset="0" stop-color="#b7f735"/><stop offset="0.0072" stop-color="#b7f735"/><stop offset="0.0072" stop-color="#84ff51"/><stop offset="0.0144" stop-color="#84ff51"/><stop offset="0.0144" stop-color="#4ef97d"/><stop offset="0.0218" stop-color="#4ef97d"/><stop offset="0.0218" stop-color="#35f394"/><stop offset="0.0293" stop-color="#35f394"/><stop offset="0.0293" stop-color="#1fe9af"/><stop offset="0.0371" stop-color="#1fe9af"/><stop offset="0.0371" stop-color="#18e0bd"/><stop offset="0.0462" stop-color="#18e0bd"/><stop offset="0.0462" stop-color="#1ad4d0"/><stop offset="0.0559" stop-color="#1ad4d0"/><stop offset="0.0559" stop-color="#1fc9dd"/><stop offset="0.0659" stop-color="#1fc9dd"/><stop offset="0.0711" stop-color="#25c0e7"/><stop offset="0.126" stop-color="#3e9bfe"/><stop offset="0.1964" stop-color="#477bf2"/><stop offset="0.3154" stop-color="#4456c7"/><stop offset="0.4453" stop-color="#4143a7"/><stop offset="0.5975" stop-color="#3e3891"/><stop offset="0.7023" stop-color="#3c3286"/><stop offset="0.7255" stop-color="#3c3286"/><stop offset="0.7488" stop-color="#3b2f80"/><stop offset="0.8068" stop-color="#3b2f80"/><stop offset="0.83" stop-color="#3a2d79"/><stop offset="0.8995" stop-color="#3a2d79"/><stop offset="0.9227" stop-color="#392a73"/><stop offset="1" stop-color="#392a73"/></linearGradient><linearGradient id="c69" gradientUnits="userSpaceOnUse" x1="433.5" x2="261"><stop offset="0" stop-color="#b7f735"/><stop offset="0.0071" stop-color="#b7f735"/><stop offset="0.0071" stop-color="#84ff51"/><stop offset="0.0143" stop-color="#84ff51"/><stop offset="0.0143" stop-color="#4ef97d"/><stop offset="0.0216" stop-color="#4ef97d"/><stop offset="0.0216" stop-color="#35f394"/><stop offset="0.0292" stop-color="#35f394"/><stop offset="0.0292" stop-color="#20eaac"/><stop offset="0.037" stop-color="#20eaac"/><stop offset="0.037" stop-color="#18e0bd"/><stop offset="0.046" stop-color="#18e0bd"/><stop offset="0.046" stop-color="#1ad4d0"/><stop offset="0.0556" stop-color="#1ad4d0"/><stop offset="0.0556" stop-color="#1fc9dd"/><stop offset="0.0656" stop-color="#1fc9dd"/><stop offset="0.0708" stop-color="#25c0e7"/><stop offset="0.1257" stop-color="#3e9bfe"/><stop offset="0.1961" stop-color="#477bf2"/><stop offset="0.3032" stop-color="#4559cb"/><stop offset="0.4686" stop-color="#4040a2"/><stop offset="0.5973" stop-color="#3e3891"/><stop offset="0.6673" stop-color="#3d358b"/><stop offset="0.7022" stop-color="#3c3286"/><stop offset="0.737" stop-color="#3c3286"/><stop offset="0.7603" stop-color="#3b2f80"/><stop offset="0.8183" stop-color="#3b2f80"/><stop offset="0.8415" stop-color="#3a2d79"/><stop offset="0.911" stop-color="#3a2d79"/><stop offset="0.9342" stop-color="#392a73"/><stop offset="1" stop-color="#392a73"/></linearGradient><linearGradient id="c70" gradientUnits="userSpaceOnUse" x1="436.5" x2="264"><stop offset="0" stop-color="#b7f735"/><stop offset="0.0071" stop-color="#b7f735"/><stop offset="0.0071" stop-color="#84ff51"/><stop offset="0.0142" stop-color="#84ff51"/><stop offset="0.0142" stop-color="#52fa7a"/><stop offset="0.0215" stop-color="#52fa7a"/><stop offset="0.0215" stop-color="#35f394"/><stop offset="0.029" stop-color="#35f394"/><stop offset="0.029" stop-color="#20eaac"/><stop offset="0.0368" stop-color="#20eaac"/><stop offset="0.0368" stop-color="#18e0bd"/><stop offset="0.0458" stop-color="#18e0bd"/><stop offset="0.0458" stop-color="#19d5cd"/><stop offset="0.0554" stop-color="#19d5cd"/><stop offset="0.0554" stop-color="#1ecbda"/><stop offset="0.0654" stop-color="#1ecbda"/><stop offset="0.081" stop-color="#2ab9ee"/><stop offset="0.1254" stop-color="#3d9efe"/><stop offset="0.1839" stop-color="#4680f6"/><stop offset="0.303" stop-color="#455ccf"/><stop offset="0.386" stop-color="#424bb5"/><stop offset="0.5505" stop-color="#3f3b97"/><stop offset="0.6205" stop-color="#3e3891"/><stop offset="0.6555" stop-color="#3d358b"/><stop offset="0.7369" stop-color="#3c3286"/><stop offset="0.7602" stop-color="#3b2f80"/><stop offset="0.8182" stop-color="#3b2f80"/><stop offset="0.8414" stop-color="#3a2d79"/><stop offset="0.9225" stop-color="#3a2d79"/><stop offset="0.9457" stop-color="#392a73"/><stop offset="1" stop-color="#392a73"/></linearGradient><linearGradient id="c71" gradientUnits="userSpaceOnUse" x1="439.4" x2="266.9"><stop offset="0" stop-color="#b4f836"/><stop offset="0.007" stop-color="#b4f836"/><stop offset="0.007" stop-color="#84ff51"/><stop offset="0.0141" stop-color="#84ff51"/><stop offset="0.0141" stop-color="#52fa7a"/><stop offset="0.0214" stop-color="#52fa7a"/><stop offset="0.0214" stop-color="#35f394"/><stop offset="0.0289" stop-color="#35f394"/><stop offset="0.0289" stop-color="#20eaac"/><stop offset="0.0366" stop-color="#20eaac"/><stop offset="0.0366" stop-color="#18e0bd"/><stop offset="0.0456" stop-color="#18e0bd"/><stop offset="0.0456" stop-color="#19d5cd"/><stop offset="0.0551" stop-color="#19d5cd"/><stop offset="0.0551" stop-color="#1ecbda"/><stop offset="0.0651" stop-color="#1ecbda"/><stop offset="0.0703" stop-color="#23c3e4"/><stop offset="0.1251" stop-color="#3d9efe"/><stop offset="0.1836" stop-color="#4682f8"/><stop offset="0.2789" stop-color="#4661d6"/><stop offset="0.3858" stop-color="#424bb5"/><stop offset="0.5269" stop-color="#3f3e9c"/><stop offset="0.6087" stop-color="#3e3891"/><stop offset="0.6786" stop-color="#3d358b"/><stop offset="0.7135" stop-color="#3c3286"/><stop offset="0.7484" stop-color="#3c3286"/><stop offset="0.7717" stop-color="#3b2f80"/><stop offset="0.8297" stop-color="#3b2f80"/><stop offset="0.8529" stop-color="#3a2d79"/><stop offset="0.934" stop-color="#3a2d79"/><stop offset="0.9572" stop-color="#392a73"/><stop offset="1" stop-color="#392a73"/></linearGradient><linearGradient id="c72" gradientUnits="userSpaceOnUse" x1="442.3" x2="269.8"><stop offset="0" stop-color="#b4f836"/><stop offset="0.007" stop-color="#b4f836"/><stop offset="0.007" stop-color="#84ff51"/><stop offset="0.0141" stop-color="#84ff51"/><stop offset="0.0141" stop-color="#52fa7a"/><stop offset="0.0213" stop-color="#52fa7a"/><stop offset="0.0213" stop-color="#38f491"/><stop offset="0.0287" stop-color="#38f491"/><stop offset="0.0287" stop-color="#20eaac"/><stop offset="0.0364" stop-color="#20eaac"/><stop offset="0.0364" stop-color="#19e2bb"/><stop offset="0.0453" stop-color="#19e2bb"/><stop offset="0.0453" stop-color="#19d5cd"/><stop offset="0.0549" stop-color="#19d5cd"/><stop offset="0.0549" stop-color="#1ecbda"/><stop offset="0.0648" stop-color="#1ecbda"/><stop offset="0.07" stop-color="#23c3e4"/><stop offset="0.1248" stop-color="#3d9efe"/><stop offset="0.1833" stop-color="#4682f8"/><stop offset="0.3025" stop-color="#455ccf"/><stop offset="0.4563" stop-color="#4143a7"/><stop offset="0.5033" stop-color="#4040a2"/><stop offset="0.5735" stop-color="#3f3b97"/><stop offset="0.6785" stop-color="#3d358b"/><stop offset="0.7483" stop-color="#3c3286"/><stop offset="0.8064" stop-color="#3b2f80"/><stop offset="0.8412" stop-color="#3b2f80"/><stop offset="0.8644" stop-color="#3a2d79"/><stop offset="0.9571" stop-color="#3a2d79"/><stop offset="0.9802" stop-color="#392a73"/><stop offset="1" stop-color="#392a73"/></linearGradient><linearGradient id="c73" gradientUnits="userSpaceOnUse" x1="445.3" x2="272.8"><stop offset="0" stop-color="#b4f836"/><stop offset="0.0069" stop-color="#b4f836"/><stop offset="0.0069" stop-color="#84ff51"/><stop offset="0.014" stop-color="#84ff51"/><stop offset="0.014" stop-color="#52fa7a"/><stop offset="0.0212" stop-color="#52fa7a"/><stop offset="0.0212" stop-color="#38f491"/><stop offset="0.0286" stop-color="#38f491"/><stop offset="0.0286" stop-color="#22ebaa"/><stop offset="0.0362" stop-color="#22ebaa"/><stop offset="0.0362" stop-color="#19e2bb"/><stop offset="0.0451" stop-color="#19e2bb"/><stop offset="0.0451" stop-color="#19d5cd"/><stop offset="0.0547" stop-color="#19d5cd"/><stop offset="0.0547" stop-color="#1ecbda"/><stop offset="0.0646" stop-color="#1ecbda"/><stop offset="0.0909" stop-color="#2eb4f2"/><stop offset="0.136" stop-color="#4099ff"/><stop offset="0.2188" stop-color="#4776ee"/><stop offset="0.3142" stop-color="#4559cb"/><stop offset="0.5031" stop-color="#4040a2"/><stop offset="0.5851" stop-color="#3f3b97"/><stop offset="0.69" stop-color="#3d358b"/><stop offset="0.7598" stop-color="#3c3286"/><stop offset="0.8179" stop-color="#3b2f80"/><stop offset="0.8527" stop-color="#3b2f80"/><stop offset="0.8759" stop-color="#3a2d79"/><stop offset="0.9685" stop-color="#3a2d79"/><stop offset="0.993" stop-color="#392a73"/><stop offset="1" stop-color="#392a73"/></linearGradient><linearGradient id="c74" gradientUnits="userSpaceOnUse" x1="448.2" x2="275.7"><stop offset="0" stop-color="#b4f836"/><stop offset="0.0069" stop-color="#b4f836"/><stop offset="0.0069" stop-color="#84ff51"/><stop offset="0.0139" stop-color="#84ff51"/><stop offset="0.0139" stop-color="#52fa7a"/><stop offset="0.021" stop-color="#52fa7a"/><stop offset="0.021" stop-color="#38f491"/><stop offset="0.0284" stop-color="#38f491"/><stop offset="0.0284" stop-color="#22ebaa"/><stop offset="0.036" stop-color="#22ebaa"/><stop offset="0.036" stop-color="#19e2bb"/><stop offset="0.0449" stop-color="#19e2bb"/><stop offset="0.0449" stop-color="#18d7ca"/><stop offset="0.0544" stop-color="#18d7ca"/><stop offset="0.0544" stop-color="#1ccdd8"/><stop offset="0.0643" stop-color="#1ccdd8"/><stop offset="0.0694" stop-color="#22c5e2"/><stop offset="0.1242" stop-color="#3ba0fd"/><stop offset="0.1827" stop-color="#4685fa"/><stop offset="0.2782" stop-color="#4664da"/><stop offset="0.397" stop-color="#424bb5"/><stop offset="0.5732" stop-color="#3f3b97"/><stop offset="0.6433" stop-color="#3e3891"/><stop offset="0.6782" stop-color="#3d358b"/><stop offset="0.7713" stop-color="#3c3286"/><stop offset="0.7945" stop-color="#3b2f80"/><stop offset="0.8642" stop-color="#3b2f80"/><stop offset="0.8873" stop-color="#3a2d79"/><stop offset="0.98" stop-color="#3a2d79"/><stop offset="1" stop-color="#392a73"/></linearGradient><linearGradient id="c75" gradientUnits="userSpaceOnUse" x1="451.1" x2="278.6"><stop offset="0" stop-color="#b4f836"/><stop offset="0.0069" stop-color="#b4f836"/><stop offset="0.0069" stop-color="#84ff51"/><stop offset="0.0138" stop-color="#84ff51"/><stop offset="0.0138" stop-color="#52fa7a"/><stop offset="0.0209" stop-color="#52fa7a"/><stop offset="0.0209" stop-color="#38f491"/><stop offset="0.0282" stop-color="#38f491"/><stop offset="0.0282" stop-color="#22ebaa"/><stop offset="0.0358" stop-color="#22ebaa"/><stop offset="0.0358" stop-color="#19e2bb"/><stop offset="0.0447" stop-color="#19e2bb"/><stop offset="0.0447" stop-color="#18d7ca"/><stop offset="0.0542" stop-color="#18d7ca"/><stop offset="0.0542" stop-color="#1ccdd8"/><stop offset="0.064" stop-color="#1ccdd8"/><stop offset="0.0692" stop-color="#22c5e2"/><stop offset="0.1238" stop-color="#3ba0fd"/><stop offset="0.1824" stop-color="#4685fa"/><stop offset="0.2779" stop-color="#4664da"/><stop offset="0.3968" stop-color="#424bb5"/><stop offset="0.5965" stop-color="#3f3b97"/><stop offset="0.7014" stop-color="#3d358b"/><stop offset="0.7712" stop-color="#3c3286"/><stop offset="0.8292" stop-color="#3b2f80"/><stop offset="0.8757" stop-color="#3b2f80"/><stop offset="0.8988" stop-color="#3a2d79"/><stop offset="1" stop-color="#3a2d79"/></linearGradient><linearGradient id="c76" gradientUnits="userSpaceOnUse" x1="454.1" x2="281.6"><stop offset="0" stop-color="#b1f936"/><stop offset="0.0068" stop-color="#b1f936"/><stop offset="0.0068" stop-color="#84ff51"/><stop offset="0.0137" stop-color="#84ff51"/><stop offset="0.0137" stop-color="#52fa7a"/><stop offset="0.0208" stop-color="#52fa7a"/><stop offset="0.0208" stop-color="#38f491"/><stop offset="0.0281" stop-color="#38f491"/><stop offset="0.0281" stop-color="#22ebaa"/><stop offset="0.0356" stop-color="#22ebaa"/><stop offset="0.0356" stop-color="#19e3b9"/><stop offset="0.0445" stop-color="#19e3b9"/><stop offset="0.0445" stop-color="#18d7ca"/><stop offset="0.0539" stop-color="#18d7ca"/><stop offset="0.0539" stop-color="#1ccdd8"/><stop offset="0.0638" stop-color="#1ccdd8"/><stop offset="0.0689" stop-color="#22c5e2"/><stop offset="0.1121" stop-color="#37a8fa"/><stop offset="0.1703" stop-color="#458afc"/><stop offset="0.2896" stop-color="#4661d6"/><stop offset="0.4084" stop-color="#424bb5"/><stop offset="0.5495" stop-color="#3f3e9c"/><stop offset="0.6547" stop-color="#3e3891"/><stop offset="0.6896" stop-color="#3d358b"/><stop offset="0.7246" stop-color="#3d358b"/><stop offset="0.7594" stop-color="#3c3286"/><stop offset="0.7943" stop-color="#3c3286"/><stop offset="0.8175" stop-color="#3b2f80"/><stop offset="0.8871" stop-color="#3b2f80"/><stop offset="0.9103" stop-color="#3a2d79"/><stop offset="1" stop-color="#3a2d79"/></linearGradient><linearGradient id="c77" gradientUnits="userSpaceOnUse" x1="457" x2="284.5"><stop offset="0" stop-color="#b1f936"/><stop offset="0.0068" stop-color="#b1f936"/><stop offset="0.0068" stop-color="#84ff51"/><stop offset="0.0136" stop-color="#84ff51"/><stop offset="0.0136" stop-color="#52fa7a"/><stop offset="0.0207" stop-color="#52fa7a"/><stop offset="0.0207" stop-color="#3cf58e"/><stop offset="0.0279" stop-color="#3cf58e"/><stop offset="0.0279" stop-color="#25eca7"/><stop offset="0.0354" stop-color="#25eca7"/><stop offset="0.0354" stop-color="#19e3b9"/><stop offset="0.0442" stop-color="#19e3b9"/><stop offset="0.0442" stop-color="#18d9c8"/><stop offset="0.0537" stop-color="#18d9c8"/><stop offset="0.0537" stop-color="#1bd0d5"/><stop offset="0.0635" stop-color="#1bd0d5"/><stop offset="0.0686" stop-color="#20c7df"/><stop offset="0.1118" stop-color="#35abf8"/><stop offset="0.17" stop-color="#458cfd"/><stop offset="0.2655" stop-color="#4669e0"/><stop offset="0.3845" stop-color="#434eba"/><stop offset="0.5259" stop-color="#4040a2"/><stop offset="0.6078" stop-color="#3f3b97"/><stop offset="0.7128" stop-color="#3d358b"/><stop offset="0.7826" stop-color="#3c3286"/><stop offset="0.8058" stop-color="#3c3286"/><stop offset="0.829" stop-color="#3b2f80"/><stop offset="0.8986" stop-color="#3b2f80"/><stop offset="0.9218" stop-color="#3a2d79"/><stop offset="1" stop-color="#3a2d79"/></linearGradient><linearGradient id="c78" gradientUnits="userSpaceOnUse" x1="460" x2="287.5"><stop offset="0" stop-color="#b1f936"/><stop offset="0.0067" stop-color="#b1f936"/><stop offset="0.0067" stop-color="#84ff51"/><stop offset="0.0136" stop-color="#84ff51"/><stop offset="0.0136" stop-color="#55fa76"/><stop offset="0.0205" stop-color="#55fa76"/><stop offset="0.0205" stop-color="#3cf58e"/><stop offset="0.0278" stop-color="#3cf58e"/><stop offset="0.0278" stop-color="#25eca7"/><stop offset="0.0353" stop-color="#25eca7"/><stop offset="0.0353" stop-color="#19e3b9"/><stop offset="0.044" stop-color="#19e3b9"/><stop offset="0.044" stop-color="#18d9c8"/><stop offset="0.0534" stop-color="#18d9c8"/><stop offset="0.0534" stop-color="#1bd0d5"/><stop offset="0.0632" stop-color="#1bd0d5"/><stop offset="0.0683" stop-color="#20c7df"/><stop offset="0.1229" stop-color="#3aa3fc"/><stop offset="0.1815" stop-color="#4687fb"/><stop offset="0.2772" stop-color="#4666dd"/><stop offset="0.408" stop-color="#424bb5"/><stop offset="0.6077" stop-color="#3f3b97"/><stop offset="0.6777" stop-color="#3e3891"/><stop offset="0.7127" stop-color="#3d358b"/><stop offset="0.8173" stop-color="#3c3286"/><stop offset="0.8405" stop-color="#3b2f80"/><stop offset="0.9101" stop-color="#3b2f80"/><stop offset="0.9333" stop-color="#3a2d79"/><stop offset="1" stop-color="#3a2d79"/></linearGradient><linearGradient id="c79" gradientUnits="userSpaceOnUse" x1="462.9" x2="290.4"><stop offset="0" stop-color="#b1f936"/><stop offset="0.0067" stop-color="#b1f936"/><stop offset="0.0067" stop-color="#84ff51"/><stop offset="0.0135" stop-color="#84ff51"/><stop offset="0.0135" stop-color="#55fa76"/><stop offset="0.0204" stop-color="#55fa76"/><stop offset="0.0204" stop-color="#3cf58e"/><stop offset="0.0276" stop-color="#3cf58e"/><stop offset="0.0276" stop-color="#25eca7"/><stop offset="0.0351" stop-color="#25eca7"/><stop offset="0.0351" stop-color="#19e3b9"/><stop offset="0.0438" stop-color="#19e3b9"/><stop offset="0.0438" stop-color="#18d9c8"/><stop offset="0.0532" stop-color="#18d9c8"/><stop offset="0.0532" stop-color="#1bd0d5"/><stop offset="0.063" stop-color="#1bd0d5"/><stop offset="0.068" stop-color="#20c7df"/><stop offset="0.1226" stop-color="#3aa3fc"/><stop offset="0.1812" stop-color="#4687fb"/><stop offset="0.3008" stop-color="#4661d6"/><stop offset="0.3959" stop-color="#434eba"/><stop offset="0.5725" stop-color="#3f3e9c"/><stop offset="0.6776" stop-color="#3e3891"/><stop offset="0.7125" stop-color="#3d358b"/><stop offset="0.7475" stop-color="#3d358b"/><stop offset="0.7823" stop-color="#3c3286"/><stop offset="0.8172" stop-color="#3c3286"/><stop offset="0.8404" stop-color="#3b2f80"/><stop offset="0.9216" stop-color="#3b2f80"/><stop offset="0.9448" stop-color="#3a2d79"/><stop offset="1" stop-color="#3a2d79"/></linearGradient><linearGradient id="c80" gradientUnits="userSpaceOnUse" x1="465.8" x2="293.3"><stop offset="0" stop-color="#affa37"/><stop offset="0.0067" stop-color="#affa37"/><stop offset="0.0067" stop-color="#84ff51"/><stop offset="0.0134" stop-color="#84ff51"/><stop offset="0.0134" stop-color="#55fa76"/><stop offset="0.0203" stop-color="#55fa76"/><stop offset="0.0203" stop-color="#3cf58e"/><stop offset="0.0275" stop-color="#3cf58e"/><stop offset="0.0275" stop-color="#25eca7"/><stop offset="0.0349" stop-color="#25eca7"/><stop offset="0.0349" stop-color="#1ae4b6"/><stop offset="0.0436" stop-color="#1ae4b6"/><stop offset="0.0436" stop-color="#18d9c8"/><stop offset="0.0529" stop-color="#18d9c8"/><stop offset="0.0529" stop-color="#1bd0d5"/><stop offset="0.0627" stop-color="#1bd0d5"/><stop offset="0.0888" stop-color="#2ab9ee"/><stop offset="0.1338" stop-color="#3d9efe"/><stop offset="0.1929" stop-color="#4682f8"/><stop offset="0.3125" stop-color="#455ed3"/><stop offset="0.4194" stop-color="#424bb5"/><stop offset="0.6191" stop-color="#3f3b97"/><stop offset="0.6891" stop-color="#3e3891"/><stop offset="0.7241" stop-color="#3d358b"/><stop offset="0.8287" stop-color="#3c3286"/><stop offset="0.8519" stop-color="#3b2f80"/><stop offset="0.9215" stop-color="#3b2f80"/><stop offset="0.9447" stop-color="#3a2d79"/><stop offset="1" stop-color="#3a2d79"/></linearGradient><linearGradient id="c81" gradientUnits="userSpaceOnUse" x1="468.8" x2="296.3"><stop offset="0" stop-color="#affa37"/><stop offset="0.0066" stop-color="#affa37"/><stop offset="0.0066" stop-color="#84ff51"/><stop offset="0.0133" stop-color="#84ff51"/><stop offset="0.0133" stop-color="#55fa76"/><stop offset="0.0202" stop-color="#55fa76"/><stop offset="0.0202" stop-color="#3cf58e"/><stop offset="0.0273" stop-color="#3cf58e"/><stop offset="0.0273" stop-color="#25eca7"/><stop offset="0.0347" stop-color="#25eca7"/><stop offset="0.0347" stop-color="#1ae4b6"/><stop offset="0.0434" stop-color="#1ae4b6"/><stop offset="0.0434" stop-color="#18dbc5"/><stop offset="0.0527" stop-color="#18dbc5"/><stop offset="0.0527" stop-color="#1ad2d2"/><stop offset="0.0624" stop-color="#1ad2d2"/><stop offset="0.0675" stop-color="#1fc9dd"/><stop offset="0.122" stop-color="#38a5fb"/><stop offset="0.1806" stop-color="#458afc"/><stop offset="0.2884" stop-color="#4664da"/><stop offset="0.4429" stop-color="#4249b1"/><stop offset="0.5839" stop-color="#3f3e9c"/><stop offset="0.689" stop-color="#3e3891"/><stop offset="0.7239" stop-color="#3d358b"/><stop offset="0.7589" stop-color="#3d358b"/><stop offset="0.7937" stop-color="#3c3286"/><stop offset="0.8402" stop-color="#3c3286"/><stop offset="0.8634" stop-color="#3b2f80"/><stop offset="0.933" stop-color="#3b2f80"/><stop offset="0.9562" stop-color="#3a2d79"/><stop offset="1" stop-color="#3a2d79"/></linearGradient><linearGradient id="c82" gradientUnits="userSpaceOnUse" x1="471.7" x2="299.2"><stop offset="0" stop-color="#affa37"/><stop offset="0.0066" stop-color="#affa37"/><stop offset="0.0066" stop-color="#84ff51"/><stop offset="0.0132" stop-color="#84ff51"/><stop offset="0.0132" stop-color="#55fa76"/><stop offset="0.0201" stop-color="#55fa76"/><stop offset="0.0201" stop-color="#3cf58e"/><stop offset="0.0271" stop-color="#3cf58e"/><stop offset="0.0271" stop-color="#25eca7"/><stop offset="0.0345" stop-color="#25eca7"/><stop offset="0.0345" stop-color="#1ae4b6"/><stop offset="0.0431" stop-color="#1ae4b6"/><stop offset="0.0431" stop-color="#18dbc5"/><stop offset="0.0524" stop-color="#18dbc5"/><stop offset="0.0524" stop-color="#1ad2d2"/><stop offset="0.0621" stop-color="#1ad2d2"/><stop offset="0.0672" stop-color="#1fc9dd"/><stop offset="0.1216" stop-color="#38a5fb"/><stop offset="0.1803" stop-color="#458afc"/><stop offset="0.3001" stop-color="#4661d6"/><stop offset="0.4309" stop-color="#424bb5"/><stop offset="0.6305" stop-color="#3f3b97"/><stop offset="0.7005" stop-color="#3e3891"/><stop offset="0.7355" stop-color="#3d358b"/><stop offset="0.7704" stop-color="#3d358b"/><stop offset="0.8052" stop-color="#3c3286"/><stop offset="0.8517" stop-color="#3c3286"/><stop offset="0.8749" stop-color="#3b2f80"/><stop offset="0.9445" stop-color="#3b2f80"/><stop offset="0.9677" stop-color="#3a2d79"/><stop offset="1" stop-color="#3a2d79"/></linearGradient><linearGradient id="c83" gradientUnits="userSpaceOnUse" x1="474.6" x2="302.1"><stop offset="0" stop-color="#affa37"/><stop offset="0.0065" stop-color="#affa37"/><stop offset="0.0065" stop-color="#80ff53"/><stop offset="0.0131" stop-color="#80ff53"/><stop offset="0.0131" stop-color="#55fa76"/><stop offset="0.0199" stop-color="#55fa76"/><stop offset="0.0199" stop-color="#3cf58e"/><stop offset="0.027" stop-color="#3cf58e"/><stop offset="0.027" stop-color="#27eea4"/><stop offset="0.0343" stop-color="#27eea4"/><stop offset="0.0343" stop-color="#1ae4b6"/><stop offset="0.0429" stop-color="#1ae4b6"/><stop offset="0.0429" stop-color="#18dbc5"/><stop offset="0.0522" stop-color="#18dbc5"/><stop offset="0.0522" stop-color="#1ad2d2"/><stop offset="0.0619" stop-color="#1ad2d2"/><stop offset="0.0669" stop-color="#1fc9dd"/><stop offset="0.1213" stop-color="#37a8fa"/><stop offset="0.18" stop-color="#458afc"/><stop offset="0.2759" stop-color="#4669e0"/><stop offset="0.4307" stop-color="#424bb5"/><stop offset="0.5953" stop-color="#3f3e9c"/><stop offset="0.7004" stop-color="#3e3891"/><stop offset="0.7703" stop-color="#3d358b"/><stop offset="0.8051" stop-color="#3c3286"/><stop offset="0.8516" stop-color="#3c3286"/><stop offset="0.8748" stop-color="#3b2f80"/><stop offset="0.956" stop-color="#3b2f80"/><stop offset="0.9792" stop-color="#3a2d79"/><stop offset="1" stop-color="#3a2d79"/></linearGradient><linearGradient id="c84" gradientUnits="userSpaceOnUse" x1="477.6" x2="305.1"><stop offset="0" stop-color="#affa37"/><stop offset="0.0065" stop-color="#affa37"/><stop offset="0.0065" stop-color="#80ff53"/><stop offset="0.0131" stop-color="#80ff53"/><stop offset="0.0131" stop-color="#55fa76"/><stop offset="0.0198" stop-color="#55fa76"/><stop offset="0.0198" stop-color="#3cf58e"/><stop offset="0.0268" stop-color="#3cf58e"/><stop offset="0.0268" stop-color="#27eea4"/><stop offset="0.0341" stop-color="#27eea4"/><stop offset="0.0341" stop-color="#1ae4b6"/><stop offset="0.0427" stop-color="#1ae4b6"/><stop offset="0.0427" stop-color="#18dbc5"/><stop offset="0.0519" stop-color="#18dbc5"/><stop offset="0.0519" stop-color="#1ad2d2"/><stop offset="0.0616" stop-color="#1ad2d2"/><stop offset="0.0985" stop-color="#2eb4f2"/><stop offset="0.156" stop-color="#4196ff"/><stop offset="0.2397" stop-color="#4773eb"/><stop offset="0.4068" stop-color="#434eba"/><stop offset="0.56" stop-color="#4040a2"/><stop offset="0.6419" stop-color="#3f3b97"/><stop offset="0.7119" stop-color="#3e3891"/><stop offset="0.7469" stop-color="#3d358b"/><stop offset="0.7818" stop-color="#3d358b"/><stop offset="0.8166" stop-color="#3c3286"/><stop offset="0.8631" stop-color="#3c3286"/><stop offset="0.8863" stop-color="#3b2f80"/><stop offset="0.9675" stop-color="#3b2f80"/><stop offset="1" stop-color="#3a2d79"/></linearGradient><linearGradient id="c85" gradientUnits="userSpaceOnUse" x1="480.5" x2="308"><stop offset="0" stop-color="#acfb38"/><stop offset="0.0064" stop-color="#acfb38"/><stop offset="0.0064" stop-color="#80ff53"/><stop offset="0.013" stop-color="#80ff53"/><stop offset="0.013" stop-color="#55fa76"/><stop offset="0.0197" stop-color="#55fa76"/><stop offset="0.0197" stop-color="#3cf58e"/><stop offset="0.0267" stop-color="#3cf58e"/><stop offset="0.0267" stop-color="#27eea4"/><stop offset="0.0339" stop-color="#27eea4"/><stop offset="0.0339" stop-color="#1ce6b4"/><stop offset="0.0425" stop-color="#1ce6b4"/><stop offset="0.0425" stop-color="#18dbc5"/><stop offset="0.0517" stop-color="#18dbc5"/><stop offset="0.0517" stop-color="#1ad4d0"/><stop offset="0.0613" stop-color="#1ad4d0"/><stop offset="0.0664" stop-color="#1ecbda"/><stop offset="0.1207" stop-color="#37a8fa"/><stop offset="0.1794" stop-color="#458cfd"/><stop offset="0.2874" stop-color="#4666dd"/><stop offset="0.4539" stop-color="#4249b1"/><stop offset="0.6067" stop-color="#3f3e9c"/><stop offset="0.7118" stop-color="#3e3891"/><stop offset="0.7817" stop-color="#3d358b"/><stop offset="0.8514" stop-color="#3c3286"/><stop offset="0.8746" stop-color="#3c3286"/><stop offset="0.8978" stop-color="#3b2f80"/><stop offset="0.979" stop-color="#3b2f80"/><stop offset="1" stop-color="#3a2d79"/></linearGradient><linearGradient id="c86" gradientUnits="userSpaceOnUse" x1="483.4" x2="310.9"><stop offset="0" stop-color="#acfb38"/><stop offset="0.0064" stop-color="#acfb38"/><stop offset="0.0064" stop-color="#80ff53"/><stop offset="0.0129" stop-color="#80ff53"/><stop offset="0.0129" stop-color="#55fa76"/><stop offset="0.0196" stop-color="#55fa76"/><stop offset="0.0196" stop-color="#3ff68a"/><stop offset="0.0265" stop-color="#3ff68a"/><stop offset="0.0265" stop-color="#27eea4"/><stop offset="0.0337" stop-color="#27eea4"/><stop offset="0.0337" stop-color="#1ce6b4"/><stop offset="0.0422" stop-color="#1ce6b4"/><stop offset="0.0422" stop-color="#18ddc2"/><stop offset="0.0514" stop-color="#18ddc2"/><stop offset="0.0514" stop-color="#1ad4d0"/><stop offset="0.0611" stop-color="#1ad4d0"/><stop offset="0.0661" stop-color="#1ecbda"/><stop offset="0.1204" stop-color="#37a8fa"/><stop offset="0.1791" stop-color="#458cfd"/><stop offset="0.2991" stop-color="#4664da"/><stop offset="0.4182" stop-color="#434eba"/><stop offset="0.5597" stop-color="#4040a2"/><stop offset="0.7117" stop-color="#3e3891"/><stop offset="0.7815" stop-color="#3d358b"/><stop offset="0.8513" stop-color="#3c3286"/><stop offset="0.8861" stop-color="#3c3286"/><stop offset="0.9093" stop-color="#3b2f80"/><stop offset="1" stop-color="#3b2f80"/></linearGradient><linearGradient id="c87" gradientUnits="userSpaceOnUse" x1="486.4" x2="313.9"><stop offset="0" stop-color="#acfb38"/><stop offset="0.0064" stop-color="#acfb38"/><stop offset="0.0064" stop-color="#80ff53"/><stop offset="0.0128" stop-color="#80ff53"/><stop offset="0.0128" stop-color="#55fa76"/><stop offset="0.0195" stop-color="#55fa76"/><stop offset="0.0195" stop-color="#3ff68a"/><stop offset="0.0264" stop-color="#3ff68a"/><stop offset="0.0264" stop-color="#27eea4"/><stop offset="0.0336" stop-color="#27eea4"/><stop offset="0.0336" stop-color="#1ce6b4"/><stop offset="0.042" stop-color="#1ce6b4"/><stop offset="0.042" stop-color="#18ddc2"/><stop offset="0.0512" stop-color="#18ddc2"/><stop offset="0.0512" stop-color="#1ad4d0"/><stop offset="0.0608" stop-color="#1ad4d0"/><stop offset="0.0658" stop-color="#1ecbda"/><stop offset="0.1201" stop-color="#35abf8"/><stop offset="0.1788" stop-color="#458cfd"/><stop offset="0.2749" stop-color="#466be3"/><stop offset="0.3824" stop-color="#4454c3"/><stop offset="0.5007" stop-color="#4146ac"/><stop offset="0.6181" stop-color="#3f3e9c"/><stop offset="0.7232" stop-color="#3e3891"/><stop offset="0.7931" stop-color="#3d358b"/><stop offset="0.8628" stop-color="#3c3286"/><stop offset="0.8976" stop-color="#3c3286"/><stop offset="0.9208" stop-color="#3b2f80"/><stop offset="1" stop-color="#3b2f80"/></linearGradient><linearGradient id="c88" gradientUnits="userSpaceOnUse" x1="489.3" x2="316.8"><stop offset="0" stop-color="#acfb38"/><stop offset="0.0063" stop-color="#acfb38"/><stop offset="0.0063" stop-color="#80ff53"/><stop offset="0.0127" stop-color="#80ff53"/><stop offset="0.0127" stop-color="#55fa76"/><stop offset="0.0193" stop-color="#55fa76"/><stop offset="0.0193" stop-color="#3ff68a"/><stop offset="0.0262" stop-color="#3ff68a"/><stop offset="0.0262" stop-color="#27eea4"/><stop offset="0.0334" stop-color="#27eea4"/><stop offset="0.0334" stop-color="#1ce6b4"/><stop offset="0.0418" stop-color="#1ce6b4"/><stop offset="0.0418" stop-color="#18ddc2"/><stop offset="0.0509" stop-color="#18ddc2"/><stop offset="0.0509" stop-color="#1ad4d0"/><stop offset="0.0605" stop-color="#1ad4d0"/><stop offset="0.0972" stop-color="#2cb7f0"/><stop offset="0.1547" stop-color="#4099ff"/><stop offset="0.2386" stop-color="#4776ee"/><stop offset="0.406" stop-color="#4451bf"/><stop offset="0.5711" stop-color="#4040a2"/><stop offset="0.7231" stop-color="#3e3891"/><stop offset="0.7929" stop-color="#3d358b"/><stop offset="0.8975" stop-color="#3c3286"/><stop offset="0.9207" stop-color="#3b2f80"/><stop offset="1" stop-color="#3b2f80"/></linearGradient><linearGradient id="c89" gradientUnits="userSpaceOnUse" x1="492.2" x2="319.7"><stop offset="0" stop-color="#acfb38"/><stop offset="0.0063" stop-color="#acfb38"/><stop offset="0.0063" stop-color="#80ff53"/><stop offset="0.0127" stop-color="#80ff53"/><stop offset="0.0127" stop-color="#55fa76"/><stop offset="0.0192" stop-color="#55fa76"/><stop offset="0.0192" stop-color="#3ff68a"/><stop offset="0.026" stop-color="#3ff68a"/><stop offset="0.026" stop-color="#2aefa1"/><stop offset="0.0332" stop-color="#2aefa1"/><stop offset="0.0332" stop-color="#1ce6b4"/><stop offset="0.0416" stop-color="#1ce6b4"/><stop offset="0.0416" stop-color="#18ddc2"/><stop offset="0.0507" stop-color="#18ddc2"/><stop offset="0.0507" stop-color="#19d5cd"/><stop offset="0.0603" stop-color="#19d5cd"/><stop offset="0.0653" stop-color="#1ccdd8"/><stop offset="0.1194" stop-color="#35abf8"/><stop offset="0.1782" stop-color="#448ffe"/><stop offset="0.2864" stop-color="#4669e0"/><stop offset="0.4295" stop-color="#434eba"/><stop offset="0.5827" stop-color="#4040a2"/><stop offset="0.7346" stop-color="#3e3891"/><stop offset="0.8045" stop-color="#3d358b"/><stop offset="0.8742" stop-color="#3c3286"/><stop offset="0.909" stop-color="#3c3286"/><stop offset="0.9322" stop-color="#3b2f80"/><stop offset="1" stop-color="#3b2f80"/></linearGradient><linearGradient id="c90" gradientUnits="userSpaceOnUse" x1="495.2" x2="322.7"><stop offset="0" stop-color="#a9fb39"/><stop offset="0.0062" stop-color="#a9fb39"/><stop offset="0.0062" stop-color="#80ff53"/><stop offset="0.0126" stop-color="#80ff53"/><stop offset="0.0126" stop-color="#55fa76"/><stop offset="0.0191" stop-color="#55fa76"/><stop offset="0.0191" stop-color="#3ff68a"/><stop offset="0.0259" stop-color="#3ff68a"/><stop offset="0.0259" stop-color="#2aefa1"/><stop offset="0.033" stop-color="#2aefa1"/><stop offset="0.033" stop-color="#1de7b2"/><stop offset="0.0414" stop-color="#1de7b2"/><stop offset="0.0414" stop-color="#18ddc2"/><stop offset="0.0504" stop-color="#18ddc2"/><stop offset="0.0504" stop-color="#19d5cd"/><stop offset="0.06" stop-color="#19d5cd"/><stop offset="0.065" stop-color="#1ccdd8"/><stop offset="0.1191" stop-color="#35abf8"/><stop offset="0.1779" stop-color="#448ffe"/><stop offset="0.2982" stop-color="#4666dd"/><stop offset="0.4293" stop-color="#434eba"/><stop offset="0.6294" stop-color="#3f3e9c"/><stop offset="0.7345" stop-color="#3e3891"/><stop offset="0.8276" stop-color="#3d358b"/><stop offset="0.8625" stop-color="#3c3286"/><stop offset="0.9205" stop-color="#3c3286"/><stop offset="0.9437" stop-color="#3b2f80"/><stop offset="1" stop-color="#3b2f80"/></linearGradient><linearGradient id="c91" gradientUnits="userSpaceOnUse" x1="498.1" x2="325.6"><stop offset="0" stop-color="#a9fb39"/><stop offset="0.0062" stop-color="#a9fb39"/><stop offset="0.0062" stop-color="#80ff53"/><stop offset="0.0125" stop-color="#80ff53"/><stop offset="0.0125" stop-color="#55fa76"/><stop offset="0.019" stop-color="#55fa76"/><stop offset="0.019" stop-color="#3ff68a"/><stop offset="0.0257" stop-color="#3ff68a"/><stop offset="0.0257" stop-color="#2aefa1"/><stop offset="0.0328" stop-color="#2aefa1"/><stop offset="0.0328" stop-color="#1de7b2"/><stop offset="0.0411" stop-color="#1de7b2"/><stop offset="0.0411" stop-color="#18dec0"/><stop offset="0.0502" stop-color="#18dec0"/><stop offset="0.0502" stop-color="#19d5cd"/><stop offset="0.0597" stop-color="#19d5cd"/><stop offset="0.0647" stop-color="#1ccdd8"/><stop offset="0.1188" stop-color="#33adf7"/><stop offset="0.1776" stop-color="#448ffe"/><stop offset="0.2979" stop-color="#4666dd"/><stop offset="0.4765" stop-color="#4249b1"/><stop offset="0.5941" stop-color="#4040a2"/><stop offset="0.746" stop-color="#3e3891"/><stop offset="0.8159" stop-color="#3d358b"/><stop offset="0.9204" stop-color="#3c3286"/><stop offset="0.9784" stop-color="#3b2f80"/><stop offset="1" stop-color="#3b2f80"/></linearGradient><linearGradient id="c92" gradientUnits="userSpaceOnUse" x1="501" x2="328.5"><stop offset="0" stop-color="#a9fb39"/><stop offset="0.0062" stop-color="#a9fb39"/><stop offset="0.0062" stop-color="#80ff53"/><stop offset="0.0124" stop-color="#80ff53"/><stop offset="0.0124" stop-color="#55fa76"/><stop offset="0.0189" stop-color="#55fa76"/><stop offset="0.0189" stop-color="#3ff68a"/><stop offset="0.0256" stop-color="#3ff68a"/><stop offset="0.0256" stop-color="#2aefa1"/><stop offset="0.0326" stop-color="#2aefa1"/><stop offset="0.0326" stop-color="#1de7b2"/><stop offset="0.0409" stop-color="#1de7b2"/><stop offset="0.0409" stop-color="#18dec0"/><stop offset="0.05" stop-color="#18dec0"/><stop offset="0.05" stop-color="#19d5cd"/><stop offset="0.0595" stop-color="#19d5cd"/><stop offset="0.096" stop-color="#28bceb"/><stop offset="0.1417" stop-color="#3ba0fd"/><stop offset="0.2013" stop-color="#4685fa"/><stop offset="0.3456" stop-color="#455ccf"/><stop offset="0.5235" stop-color="#4146ac"/><stop offset="0.6408" stop-color="#3f3e9c"/><stop offset="0.7109" stop-color="#3f3b97"/><stop offset="0.7459" stop-color="#3e3891"/><stop offset="0.8506" stop-color="#3d358b"/><stop offset="0.8855" stop-color="#3c3286"/><stop offset="0.9435" stop-color="#3c3286"/><stop offset="0.9667" stop-color="#3b2f80"/><stop offset="1" stop-color="#3b2f80"/></linearGradient><linearGradient id="c93" gradientUnits="userSpaceOnUse" x1="504" x2="331.5"><stop offset="0" stop-color="#a9fb39"/><stop offset="0.0061" stop-color="#a9fb39"/><stop offset="0.0061" stop-color="#80ff53"/><stop offset="0.0123" stop-color="#80ff53"/><stop offset="0.0123" stop-color="#59fb73"/><stop offset="0.0187" stop-color="#59fb73"/><stop offset="0.0187" stop-color="#3ff68a"/><stop offset="0.0254" stop-color="#3ff68a"/><stop offset="0.0254" stop-color="#2aefa1"/><stop offset="0.0324" stop-color="#2aefa1"/><stop offset="0.0324" stop-color="#1de7b2"/><stop offset="0.0407" stop-color="#1de7b2"/><stop offset="0.0407" stop-color="#18dec0"/><stop offset="0.0497" stop-color="#18dec0"/><stop offset="0.0497" stop-color="#18d7ca"/><stop offset="0.0592" stop-color="#18d7ca"/><stop offset="0.0642" stop-color="#1bd0d5"/><stop offset="0.1182" stop-color="#33adf7"/><stop offset="0.177" stop-color="#4391fe"/><stop offset="0.2734" stop-color="#476ee6"/><stop offset="0.4406" stop-color="#434eba"/><stop offset="0.6055" stop-color="#4040a2"/><stop offset="0.7574" stop-color="#3e3891"/><stop offset="0.8505" stop-color="#3d358b"/><stop offset="0.8854" stop-color="#3c3286"/><stop offset="0.955" stop-color="#3c3286"/><stop offset="0.9782" stop-color="#3b2f80"/><stop offset="1" stop-color="#3b2f80"/></linearGradient><linearGradient id="c94" gradientUnits="userSpaceOnUse" x1="506.9" x2="334.4"><stop offset="0" stop-color="#a9fb39"/><stop offset="0.0061" stop-color="#a9fb39"/><stop offset="0.0061" stop-color="#80ff53"/><stop offset="0.0122" stop-color="#80ff53"/><stop offset="0.0122" stop-color="#59fb73"/><stop offset="0.0186" stop-color="#59fb73"/><stop offset="0.0186" stop-color="#43f787"/><stop offset="0.0253" stop-color="#43f787"/><stop offset="0.0253" stop-color="#2aefa1"/><stop offset="0.0322" stop-color="#2aefa1"/><stop offset="0.0322" stop-color="#1de7b2"/><stop offset="0.0405" stop-color="#1de7b2"/><stop offset="0.0405" stop-color="#18dec0"/><stop offset="0.0495" stop-color="#18dec0"/><stop offset="0.0495" stop-color="#18d7ca"/><stop offset="0.0589" stop-color="#18d7ca"/><stop offset="0.0639" stop-color="#1bd0d5"/><stop offset="0.1179" stop-color="#33adf7"/><stop offset="0.1767" stop-color="#4391fe"/><stop offset="0.2731" stop-color="#476ee6"/><stop offset="0.4404" stop-color="#434eba"/><stop offset="0.6054" stop-color="#4040a2"/><stop offset="0.7107" stop-color="#3f3b97"/><stop offset="0.7806" stop-color="#3e3891"/><stop offset="0.8155" stop-color="#3d358b"/><stop offset="0.8621" stop-color="#3d358b"/><stop offset="0.8969" stop-color="#3c3286"/><stop offset="0.9666" stop-color="#3c3286"/><stop offset="1" stop-color="#3b2f80"/></linearGradient><linearGradient id="c95" gradientUnits="userSpaceOnUse" x1="509.8" x2="337.3"><stop offset="0" stop-color="#a9fb39"/><stop offset="0.006" stop-color="#a9fb39"/><stop offset="0.006" stop-color="#80ff53"/><stop offset="0.0122" stop-color="#80ff53"/><stop offset="0.0122" stop-color="#59fb73"/><stop offset="0.0185" stop-color="#59fb73"/><stop offset="0.0185" stop-color="#43f787"/><stop offset="0.0251" stop-color="#43f787"/><stop offset="0.0251" stop-color="#2cf09e"/><stop offset="0.032" stop-color="#2cf09e"/><stop offset="0.032" stop-color="#1fe9af"/><stop offset="0.0403" stop-color="#1fe9af"/><stop offset="0.0403" stop-color="#18e0bd"/><stop offset="0.0492" stop-color="#18e0bd"/><stop offset="0.0492" stop-color="#18d7ca"/><stop offset="0.0587" stop-color="#18d7ca"/><stop offset="0.0636" stop-color="#1bd0d5"/><stop offset="0.1176" stop-color="#31aff5"/><stop offset="0.1764" stop-color="#4391fe"/><stop offset="0.2969" stop-color="#4669e0"/><stop offset="0.4284" stop-color="#4451bf"/><stop offset="0.57" stop-color="#4143a7"/><stop offset="0.6638" stop-color="#3f3e9c"/><stop offset="0.7688" stop-color="#3e3891"/><stop offset="0.8736" stop-color="#3d358b"/><stop offset="0.9084" stop-color="#3c3286"/><stop offset="0.9781" stop-color="#3c3286"/><stop offset="1" stop-color="#3b2f80"/></linearGradient><linearGradient id="c96" gradientUnits="userSpaceOnUse" x1="512.8" x2="340.3"><stop offset="0" stop-color="#a9fb39"/><stop offset="0.006" stop-color="#a9fb39"/><stop offset="0.006" stop-color="#80ff53"/><stop offset="0.0121" stop-color="#80ff53"/><stop offset="0.0121" stop-color="#59fb73"/><stop offset="0.0184" stop-color="#59fb73"/><stop offset="0.0184" stop-color="#43f787"/><stop offset="0.0249" stop-color="#43f787"/><stop offset="0.0249" stop-color="#2cf09e"/><stop offset="0.0319" stop-color="#2cf09e"/><stop offset="0.0319" stop-color="#1fe9af"/><stop offset="0.04" stop-color="#1fe9af"/><stop offset="0.04" stop-color="#18e0bd"/><stop offset="0.049" stop-color="#18e0bd"/><stop offset="0.049" stop-color="#18d7ca"/><stop offset="0.0584" stop-color="#18d7ca"/><stop offset="0.0839" stop-color="#23c3e4"/><stop offset="0.1405" stop-color="#3aa3fc"/><stop offset="0.2002" stop-color="#4687fb"/><stop offset="0.3447" stop-color="#455ed3"/><stop offset="0.5346" stop-color="#4146ac"/><stop offset="0.7221" stop-color="#3f3b97"/><stop offset="0.792" stop-color="#3e3891"/><stop offset="0.8618" stop-color="#3d358b"/><stop offset="0.9664" stop-color="#3c3286"/><stop offset="1" stop-color="#3b2f80"/></linearGradient><linearGradient id="c97" gradientUnits="userSpaceOnUse" x1="515.7" x2="343.2"><stop offset="0" stop-color="#a7fc3a"/><stop offset="0.0059" stop-color="#a7fc3a"/><stop offset="0.0059" stop-color="#80ff53"/><stop offset="0.012" stop-color="#80ff53"/><stop offset="0.012" stop-color="#59fb73"/><stop offset="0.0182" stop-color="#59fb73"/><stop offset="0.0182" stop-color="#43f787"/><stop offset="0.0248" stop-color="#43f787"/><stop offset="0.0248" stop-color="#2cf09e"/><stop offset="0.0317" stop-color="#2cf09e"/><stop offset="0.0317" stop-color="#1fe9af"/><stop offset="0.0398" stop-color="#1fe9af"/><stop offset="0.0398" stop-color="#18e0bd"/><stop offset="0.0487" stop-color="#18e0bd"/><stop offset="0.0487" stop-color="#18d7ca"/><stop offset="0.0581" stop-color="#18d7ca"/><stop offset="0.0945" stop-color="#27bee9"/><stop offset="0.1402" stop-color="#3aa3fc"/><stop offset="0.212" stop-color="#4685fa"/><stop offset="0.3565" stop-color="#455ccf"/><stop offset="0.5109" stop-color="#4249b1"/><stop offset="0.6635" stop-color="#3f3e9c"/><stop offset="0.7336" stop-color="#3f3b97"/><stop offset="0.7686" stop-color="#3e3891"/><stop offset="0.8036" stop-color="#3e3891"/><stop offset="0.8385" stop-color="#3d358b"/><stop offset="0.885" stop-color="#3d358b"/><stop offset="0.9198" stop-color="#3c3286"/><stop offset="1" stop-color="#3c3286"/></linearGradient><linearGradient id="c98" gradientUnits="userSpaceOnUse" x1="518.6" x2="346.1"><stop offset="0" stop-color="#a7fc3a"/><stop offset="0.0059" stop-color="#a7fc3a"/><stop offset="0.0059" stop-color="#80ff53"/><stop offset="0.0119" stop-color="#80ff53"/><stop offset="0.0119" stop-color="#59fb73"/><stop offset="0.0181" stop-color="#59fb73"/><stop offset="0.0181" stop-color="#43f787"/><stop offset="0.0246" stop-color="#43f787"/><stop offset="0.0246" stop-color="#2cf09e"/><stop offset="0.0315" stop-color="#2cf09e"/><stop offset="0.0315" stop-color="#1fe9af"/><stop offset="0.0396" stop-color="#1fe9af"/><stop offset="0.0396" stop-color="#18e0bd"/><stop offset="0.0485" stop-color="#18e0bd"/><stop offset="0.0485" stop-color="#18d7ca"/><stop offset="0.0578" stop-color="#18d7ca"/><stop offset="0.0941" stop-color="#27bee9"/><stop offset="0.1398" stop-color="#3aa3fc"/><stop offset="0.2117" stop-color="#4685fa"/><stop offset="0.3443" stop-color="#455ed3"/><stop offset="0.4871" stop-color="#424bb5"/><stop offset="0.6283" stop-color="#4040a2"/><stop offset="0.7335" stop-color="#3f3b97"/><stop offset="0.8035" stop-color="#3e3891"/><stop offset="0.8733" stop-color="#3d358b"/><stop offset="0.9778" stop-color="#3c3286"/><stop offset="1" stop-color="#3c3286"/></linearGradient><linearGradient id="c99" gradientUnits="userSpaceOnUse" x1="521.6" x2="349.1"><stop offset="0" stop-color="#a7fc3a"/><stop offset="0.0059" stop-color="#a7fc3a"/><stop offset="0.0059" stop-color="#80ff53"/><stop offset="0.0118" stop-color="#80ff53"/><stop offset="0.0118" stop-color="#59fb73"/><stop offset="0.018" stop-color="#59fb73"/><stop offset="0.018" stop-color="#43f787"/><stop offset="0.0245" stop-color="#43f787"/><stop offset="0.0245" stop-color="#2cf09e"/><stop offset="0.0313" stop-color="#2cf09e"/><stop offset="0.0313" stop-color="#1fe9af"/><stop offset="0.0394" stop-color="#1fe9af"/><stop offset="0.0394" stop-color="#18e0bd"/><stop offset="0.0482" stop-color="#18e0bd"/><stop offset="0.0482" stop-color="#18d9c8"/><stop offset="0.0576" stop-color="#18d9c8"/><stop offset="0.0625" stop-color="#1ad2d2"/><stop offset="0.1163" stop-color="#31aff5"/><stop offset="0.1752" stop-color="#4294ff"/><stop offset="0.2718" stop-color="#4771e9"/><stop offset="0.4157" stop-color="#4454c3"/><stop offset="0.5812" stop-color="#4143a7"/><stop offset="0.7334" stop-color="#3f3b97"/><stop offset="0.8033" stop-color="#3e3891"/><stop offset="0.8732" stop-color="#3d358b"/><stop offset="0.908" stop-color="#3d358b"/><stop offset="0.9429" stop-color="#3c3286"/><stop offset="1" stop-color="#3c3286"/></linearGradient><linearGradient id="c100" gradientUnits="userSpaceOnUse" x1="524.5" x2="352"><stop offset="0" stop-color="#a4fc3c"/><stop offset="0.0058" stop-color="#a4fc3c"/><stop offset="0.0058" stop-color="#80ff53"/><stop offset="0.0117" stop-color="#80ff53"/><stop offset="0.0117" stop-color="#59fb73"/><stop offset="0.0179" stop-color="#59fb73"/><stop offset="0.0179" stop-color="#43f787"/><stop offset="0.0243" stop-color="#43f787"/><stop offset="0.0243" stop-color="#2cf09e"/><stop offset="0.0311" stop-color="#2cf09e"/><stop offset="0.0311" stop-color="#1fe9af"/><stop offset="0.0392" stop-color="#1fe9af"/><stop offset="0.0392" stop-color="#18e0bd"/><stop offset="0.048" stop-color="#18e0bd"/><stop offset="0.048" stop-color="#18d9c8"/><stop offset="0.0573" stop-color="#18d9c8"/><stop offset="0.0622" stop-color="#1ad2d2"/><stop offset="0.116" stop-color="#2fb2f4"/><stop offset="0.1749" stop-color="#4294ff"/><stop offset="0.2957" stop-color="#466be3"/><stop offset="0.4393" stop-color="#4451bf"/><stop offset="0.5928" stop-color="#4143a7"/><stop offset="0.6865" stop-color="#3f3e9c"/><stop offset="0.7566" stop-color="#3f3b97"/><stop offset="0.7916" stop-color="#3e3891"/><stop offset="0.8265" stop-color="#3e3891"/><stop offset="0.8614" stop-color="#3d358b"/><stop offset="0.9079" stop-color="#3d358b"/><stop offset="0.9428" stop-color="#3c3286"/><stop offset="1" stop-color="#3c3286"/></linearGradient></defs>
<path d="M58.6 288.5L231.1 216.7M231.1 216.7L524.5 259.0M58.6 246.1L231.1 174.3M231.1 174.3L524.5 216.6M58.6 203.7L231.1 131.9M231.1 131.9L524.5 174.2M58.6 161.3L231.1 89.5M231.1 89.5L524.5 131.8M58.6 118.9L231.1 47.1M231.1 47.1L524.5 89.4M58.6 76.5L231.1 4.7M231.1 4.7L524.5 47.0M231.1 259.1L231.1 4.7M231.1 259.1L231.1 4.7M231.1 259.1L58.6 330.9M231.1 259.1L524.5 301.4M196.6 273.5L196.6 19.1M289.8 267.6L289.8 13.2M289.8 267.6L117.3 339.4M196.6 273.5L490.0 315.8M162.1 287.8L162.1 33.4M348.5 276.0L348.5 21.6M348.5 276.0L176.0 347.8M162.1 287.8L455.5 330.1M127.6 302.2L127.6 47.8M407.1 284.5L407.1 30.1M407.1 284.5L234.6 356.3M127.6 302.2L421.0 344.5M93.1 316.5L93.1 62.1M465.8 292.9L465.8 38.5M465.8 292.9L293.3 364.7M93.1 316.5L386.5 358.8M58.6 330.9L58.6 76.5M524.5 301.4L524.5 47.0M524.5 301.4L352.0 373.2M58.6 330.9L352.0 373.2" fill="none" stroke="#e1e1e1" stroke-width="0.9"/>
<path d="M234 27l3 0 2.9 11.3 2.9 10.2 8.8 24 3 6.5 2.9 5.4 2.9 4.2 3 3.5 2.9 3.1 5.9 5.4 2.9 2.4 2.9 2.2 5.9 4 5.9 3.5 5.8 3 5.9 2.6 5.9 2.1 23.5 7.3 5.8 1.6 32.3 6.9 117.4 23.5 26.4 4.9 11.7 2.7-2 17.8-2.2 10.7-2.6 10.2-1.5 4.1-1.6 3.5-3.5 6.1-3.7 6-5.9 8.4-4.1 5.2-6.2 7.4-4.2 4.6-4.1 4.3-4.2 3.8-6.3 5.4-6.2 4.9-4.1 3.1-10.3 6.8-14.3 8.6-16.3 8.9-20.2 10.3-22.1 10.7-26.9 12.4-70.4-8.4-76.3-8.9-114.4-13.1-17.6-1.9-14.7-1.3 66.7-28.9 41.7-18.3 13.9-6.2 7.9-3.9 7.9-4.6 8-4.9 5.9-4.2 4-3.3 2-1.9 2-2.4 1.9-2.9 2-3.9 1.7-5.7 3.4-19 1.8-24.1 2.9-3.6z" fill="#fff" stroke="none"/>
<filter id="bl" x="0" y="0" width="550" height="412" filterUnits="userSpaceOnUse"><feGaussianBlur stdDeviation="0.4"/></filter><clipPath id="cp"><path d="M233.5 26.4l3.9 0 3 11.8 3 10.2 8.7 23.9 3 6.5 2.9 5.3 2.9 4.2 2.9 3.4 2.9 3.1 5.8 5.4 3 2.3 2.9 2.3 5.8 3.9 5.8 3.5 5.9 3 5.8 2.5 5.9 2.1 23.4 7.4 5.9 1.6 32.2 6.9 117.4 23.5 26.4 4.9 12.2 2.8-2.1 18.3-2.2 10.8-2.5 10.1-1.6 4.2-1.6 3.5-3.5 6.1-3.7 6.1-6 8.4-4.1 5.3-6.2 7.4-4.2 4.6-4.2 4.3-4.1 3.9-6.3 5.3-6.2 5-4.2 3-10.3 6.9-14.3 8.6-16.3 8.9-20.2 10.3-22.2 10.7-27 12.5-70.6-8.5-76.3-8.9-114.4-13-17.6-1.9-16.2-1.6 68.1-29.7 41.7-18.3 13.8-6.2 7.9-3.9 8-4.5 7.9-4.9 5.9-4.2 3.9-3.3 2-1.9 1.9-2.3 2-2.9 1.9-3.8 1.7-5.6 3.4-19 1.7-24.2 3-3.6z"/></clipPath>
<g clip-path="url(#cp)" filter="url(#bl)"><g stroke="none"><path d="M222.5 211.5l2.9-2.5-1.9 4.3-3 2.1z" fill="url(#r5)" fill-opacity=".6"/><path d="M220.5 215.4l3-2.1-3.9 5.7-3 1.7z" fill="url(#r6)"/><path d="M223.5 213.3l3-2.1-2 3.4-3 1.9z" fill="url(#r6)" fill-opacity=".8"/><path d="M226.5 211.2l3-1.6-2 3.6-3 1.4z" fill="url(#r6)" fill-opacity=".2"/><path d="M218.6 218.3l5.9-3.7-3.9 5-6 3z" fill="url(#r7)"/><path d="M224.5 214.6l3-1.4-2 2.9-3 1.2z" fill="url(#r7)" fill-opacity=".8"/><path d="M227.5 213.2l3-1.1-2 2.9-3 1.1z" fill="url(#r7)" fill-opacity=".4"/><path d="M230.5 212.1l2.9-1-1.9 3-3 .9z" fill="url(#r7)" fill-opacity=".2"/><path d="M216.6 220.7l5.9-3.4 3-1.2 3-1.1-4 4.7-2.9 .9-3 1-6 2.8z" fill="url(#r8)"/><path d="M228.5 215l3-.9-2 2.6-3 .8z" fill="url(#r8)" fill-opacity=".8"/><path d="M231.5 214.1l3-.7 2.9-.5-1.9 2.6-3 .5-3 .7z" fill="url(#r8)" fill-opacity=".4"/><path d="M237.4 212.9l6-.9-2 2.7-5.9 .8z" fill="url(#r8)" fill-opacity=".2"/><path d="M214.6 222.6l6-3 2.9-1.2 6-1.7-3.9 4.4-6 1.4-3 .9-6 2.5z" fill="url(#r9)"/><path d="M229.5 216.7l3-.7 3-.5-2 2.4-3 .5-3 .6z" fill="url(#r9)" fill-opacity=".6"/><path d="M235.5 215.5l5.9-.8-1.9 2.5-6 .7z" fill="url(#r9)" fill-opacity=".4"/><path d="M241.4 214.7l9-1.2-2 2.6-8.9 1.1z" fill="url(#r9)" fill-opacity=".2"/><path d="M212.6 224.4l6-2.8 3-1 5.9-1.6-3.9 4-6 1.3-3 .8-6 2.3z" fill="url(#r10)"/><path d="M227.5 219l3-.6 3-.5-2 2.2-3 .4-2.9 .6z" fill="url(#r10)" fill-opacity=".8"/><path d="M233.5 217.9l6-.7-2 2.3-6 .6z" fill="url(#r10)" fill-opacity=".6"/><path d="M239.5 217.2l8.9-1.1-1.9 2.5-9 .9z" fill="url(#r10)" fill-opacity=".4"/><path d="M248.4 216.1l12-1-2 2.5-11.9 1z" fill="url(#r10)" fill-opacity=".2"/><path d="M210.6 225.9l6-2.5 3-.9 6-1.4 2.9-.6-3.9 3.9-3 .4-6 1.2-3 .7-5.9 2.1z" fill="url(#r11)"/><path d="M228.5 220.5l9-1-2 2.1-8.9 1z" fill="url(#r11)" fill-opacity=".8"/><path d="M237.5 219.5l9-.9-2 2.2-9 .8z" fill="url(#r11)" fill-opacity=".6"/><path d="M246.5 218.6l11.9-1-2 2.4-11.9 .8z" fill="url(#r11)" fill-opacity=".4"/><path d="M258.4 217.6l12-.6-2 2.5-12 .5z" fill="url(#r11)" fill-opacity=".2"/><path d="M208.6 227.4l6-2.3 3-.8 6-1.3 3-.4 5.9-.7-3.9 3.8-6 .5-3 .4-6 1-3 .7-5.9 1.8z" fill="url(#r12)"/><path d="M232.5 221.9l9-.8-2 2.1-8.9 .7z" fill="url(#r12)" fill-opacity=".8"/><path d="M241.5 221.1l12-.9-2 2.2-12 .8z" fill="url(#r12)" fill-opacity=".6"/><path d="M253.5 220.2l11.9-.6-2 2.3-11.9 .5z" fill="url(#r12)" fill-opacity=".4"/><path d="M265.4 219.6l20.9-.8-1.9 2.5-21 .6z" fill="url(#r12)" fill-opacity=".2"/><path d="M206.7 228.8l5.9-2.1 3-.7 3-.6 6-1 11.9-1-3.9 3.7-12 .8-6 .7-2.9 .5-3 .6-6 1.7z" fill="url(#r13)"/><path d="M236.5 223.4l9-.7-2 2.1-8.9 .5z" fill="url(#r13)" fill-opacity=".8"/><path d="M245.5 222.7l14.9-.7-1.9 2.2-15 .6z" fill="url(#r13)" fill-opacity=".6"/><path d="M260.4 222l21-.6-2 2.3-20.9 .5z" fill="url(#r13)" fill-opacity=".4"/><path d="M281.4 221.4l17.9-.4-2 2.4-17.9 .3z" fill="url(#r13)" fill-opacity=".2"/><path d="M204.7 230.1l5.9-1.8 3-.7 6-1 6-.7 14.9-1-3.9 3.7-15 .7-6 .5-5.9 .8-3 .5-6 1.6z" fill="url(#r14)"/><path d="M240.5 224.9l12-.5-2 2-12 .4z" fill="url(#r14)" fill-opacity=".8"/><path d="M252.5 224.4l17.9-.5-2 2.1-17.9 .4z" fill="url(#r14)" fill-opacity=".6"/><path d="M270.4 223.9l23.9-.5-2 2.3-23.9 .3z" fill="url(#r14)" fill-opacity=".4"/><path d="M294.3 223.4l26.9-.1-2 2.4-26.9 0z" fill="url(#r14)" fill-opacity=".2"/><path d="M202.7 231.4l6-1.7 3-.6 5.9-.9 3-.3 6-.4 17.9-.9-4 3.6-17.9 .6-6 .2-2.9 .3-6 .7-3 .5-6 1.4z" fill="url(#r15)"/><path d="M244.5 226.6l15-.4-2 1.9-15 .3z" fill="url(#r15)" fill-opacity=".8"/><path d="M259.5 226.2l23.9-.4-2 2.1-23.9 .2z" fill="url(#r15)" fill-opacity=".6"/><path d="M283.4 225.8l11.9-.1 15 .1-2 2.2-15-.1-11.9 0z" fill="url(#r15)" fill-opacity=".4"/><path d="M310.3 225.8l14.9 0 14.9 .2-2 2.4-14.9-.3-14.9-.1z" fill="url(#r15)" fill-opacity=".2"/><path d="M200.7 232.7l6-1.6 3-.5 5.9-.8 6-.5 9-.4 8.9-.4 9-.2-4 3.5-17.9 .3-9 .3-5.9 .3-6 .7-3 .4-6 1.2z" fill="url(#r16)"/><path d="M248.5 228.3l17.9-.3-2 2-17.9 .1z" fill="url(#r16)" fill-opacity=".8"/><path d="M266.4 228l23.9-.1-2 2.1-23.9 0z" fill="url(#r16)" fill-opacity=".6"/><path d="M290.3 227.9l29.9 .2-2 2.2-29.9-.3z" fill="url(#r16)" fill-opacity=".4"/><path d="M320.2 228.1l35.9 .6-2.1 2.4-35.8-.8z" fill="url(#r16)" fill-opacity=".2"/><path d="M198.7 233.9l6-1.4 3-.5 6-.7 2.9-.3 18-.7 17.9-.3-4 3.5-17.9 .1-17.9 .4-3 .1-6 .6-3 .4-5.9 1.1z" fill="url(#r17)"/><path d="M252.5 230l23.9 0-2 1.9-23.9-.1z" fill="url(#r17)" fill-opacity=".8"/><path d="M276.4 230l14.9 0 9 .1-2 2.1-9-.2-14.9-.1z" fill="url(#r17)" fill-opacity=".6"/><path d="M300.3 230.1l17.9 .2 14.9 .3-2 2.2-14.9-.4-17.9-.2z" fill="url(#r17)" fill-opacity=".4"/><path d="M333.1 230.6l20.9 .5 18 .6-2.1 2.3-17.9-.6-20.9-.6z" fill="url(#r17)" fill-opacity=".2"/><path d="M196.7 235l6-1.2 3-.4 6-.7 3-.2 20.9-.6 20.9-.1-4 3.5-20.9-.2-20.9 .3-3 .1-6 .5-3 .3-5.9 1.1z" fill="url(#r18)"/><path d="M256.5 231.8l23.9 .1-2.1 1.9-23.8-.2z" fill="url(#r18)" fill-opacity=".8"/><path d="M280.4 231.9l32.8 .5-2 2.1-32.9-.7z" fill="url(#r18)" fill-opacity=".6"/><path d="M313.2 232.4l32.8 .8-2 2.2-32.8-.9z" fill="url(#r18)" fill-opacity=".4"/><path d="M346 233.2l18 .6 23.9 1-2.1 2.3-23.9-1-17.9-.7z" fill="url(#r18)" fill-opacity=".2"/><path d="M194.8 236.2l5.9-1.1 3-.4 6-.6 3-.1 20.9-.4 23.8 0-4 3.4-23.8-.3-20.9 .1-3 .1-6 .4-2.9 .3-6 .9z" fill="url(#r19)"/><path d="M257.4 233.6l26.9 .3-2 1.9-26.9-.4z" fill="url(#r19)" fill-opacity=".8"/><path d="M284.3 233.9l32.9 .7-2.1 2-32.8-.8z" fill="url(#r19)" fill-opacity=".6"/><path d="M317.2 234.6l35.8 1.1-2.1 2.2-35.8-1.3z" fill="url(#r19)" fill-opacity=".4"/><path d="M353 235.7l26.8 1.2 23.9 1.2-2 2.3-23.9-1.3-26.9-1.2z" fill="url(#r19)" fill-opacity=".2"/><path d="M192.8 237.4l5.9-1.1 3-.3 6-.5 3-.1 23.9-.3 11.9 .1 20.9 .4-4 3.4-32.8-.8-23.9-.1-8.9 .4-3 .3-6 .8z" fill="url(#r20)"/><path d="M267.4 235.6l14.9 .2 11.9 .3-2 1.9-11.9-.4-14.9-.3z" fill="url(#r20)" fill-opacity=".8"/><path d="M294.2 236.1l17.9 .5 18 .5-2.1 2.1-17.9-.7-17.9-.5z" fill="url(#r20)" fill-opacity=".6"/><path d="M330.1 237.1l20.8 .8 20.9 .9-2 2.2-20.9-1-20.9-.8z" fill="url(#r20)" fill-opacity=".4"/><path d="M371.8 238.8l23.9 1.3 32.8 2-2 2.2-32.8-2-23.9-1.3z" fill="url(#r20)" fill-opacity=".2"/><path d="M190.8 238.5l6-.9 2.9-.3 6-.4 6-.2 14.9 0 11.9 .1 38.8 .8-4 3.3-38.8-1.2-11.9-.2-14.9-.2-6 .1-5.9 .3-3 .2-6 .7z" fill="url(#r21)"/><path d="M277.3 237.6l32.8 .9-2 1.9-32.8-1.1z" fill="url(#r21)" fill-opacity=".8"/><path d="M310.1 238.5l38.8 1.5-2 2-38.8-1.6z" fill="url(#r21)" fill-opacity=".6"/><path d="M348.9 240l26.9 1.3 20.8 1.2-2 2.1-20.9-1.2-26.8-1.4z" fill="url(#r21)" fill-opacity=".4"/><path d="M396.6 242.5l29.9 1.8 47.7 3.5-2.1 2.2-47.7-3.5-29.8-1.9z" fill="url(#r21)" fill-opacity=".2"/><path d="M188.8 239.6l6-.8 3-.3 5.9-.3 9-.1 14.9 .1 14.9 .2 35.8 1 14.9 .5-4.1 3.3-17.8-.8-35.8-1.2-11.9-.4-14.9-.2-9-.1-5.9 .3-3 .1-6 .7z" fill="url(#r22)"/><path d="M293.2 239.9l17.9 .6 20.9 .8-2.1 1.9-20.8-.9-17.9-.7z" fill="url(#r22)" fill-opacity=".8"/><path d="M332 241.3l20.8 1 23.9 1.2-2.1 2-23.8-1.3-20.9-1z" fill="url(#r22)" fill-opacity=".6"/><path d="M376.7 243.5l35.8 2.2 26.8 1.9-2 2.1-26.9-1.9-35.8-2.3z" fill="url(#r22)" fill-opacity=".4"/><path d="M439.3 247.6l32.8 2.4 14.9 1.3-2 2.2-15-1.3-32.7-2.5z" fill="url(#r22)" fill-opacity=".2"/><path d="M186.8 240.6l6-.7 3-.2 5.9-.3 6-.1 14.9 .2 14.9 .3 32.8 1 41.7 1.6-4 3.3-41.7-1.9-32.8-1.3-14.9-.5-14.9-.3-6 0-8.9 .3-5.9 .5z" fill="url(#r23)"/><path d="M312 242.4l26.9 1.2 17.9 .9-2.1 1.8-17.9-.9-26.8-1.3z" fill="url(#r23)" fill-opacity=".8"/><path d="M356.8 244.5l26.8 1.6 29.8 1.9-2.1 2-29.8-2-26.8-1.7z" fill="url(#r23)" fill-opacity=".6"/><path d="M413.4 248l56.6 4.2 15 1.3-2.1 2.1-14.9-1.4-56.7-4.2z" fill="url(#r23)" fill-opacity=".4"/><path d="M184.8 241.6l6-.7 8.9-.4 6 0 17.9 .3 14.9 .5 38.7 1.4 29.8 1.2 23.9 1.2-4.1 3.3-53.6-2.8-38.7-1.7-14.9-.6-17.9-.5-5.9-.1-9 .3-5.9 .5z" fill="url(#r24)"/><path d="M330.9 245.1l23.8 1.2 26.8 1.7-2 1.8-26.8-1.7-23.9-1.3z" fill="url(#r24)" fill-opacity=".8"/><path d="M381.5 248l35.8 2.4 41.7 3.2-2.1 1.9-41.7-3.2-35.7-2.5z" fill="url(#r24)" fill-opacity=".6"/><path d="M459 253.6l11.9 .9 12 1.1-2.1 2-11.9-1.2-12-.9z" fill="url(#r24)" fill-opacity=".4"/><path d="M182.9 242.5l5.9-.5 8.9-.3 6 0 20.9 .5 50.6 2 32.8 1.5 38.7 2-4.1 3.3-38.7-2.3-32.7-1.7-50.6-2.4-20.9-.7-5.9-.1-9 .2-5.9 .4z" fill="url(#r25)"/><path d="M346.7 247.7l29.8 1.9 32.8 2.2-2.1 1.8-32.7-2.3-29.8-1.9z" fill="url(#r25)" fill-opacity=".8"/><path d="M409.3 251.8l56.6 4.4 14.9 1.4-2.1 1.8-14.9-1.3-56.6-4.5z" fill="url(#r25)" fill-opacity=".6"/><path d="M180.9 243.5l5.9-.5 9-.3 14.9 .3 17.8 .6 41.7 1.9 32.8 1.6 32.7 1.8 32.8 2-4.1 3.3-29.8-2-35.7-2.2-32.7-1.8-41.7-2.2-23.8-1-8.9-.2-8.9 .1-6 .4z" fill="url(#r26)"/><path d="M368.5 250.9l38.7 2.7 32.8 2.6-2.1 1.8-32.7-2.7-38.7-2.8z" fill="url(#r26)" fill-opacity=".8"/><path d="M440 256.2l26.8 2.1 11.9 1.1-2.1 1.9-11.9-1.2-26.8-2.1z" fill="url(#r26)" fill-opacity=".6"/><path d="M178.9 244.4l5.9-.4 3-.2 8.9 0 17.9 .6 14.9 .6 38.7 1.8 38.7 2.1 35.7 2.1 38.7 2.6-4.1 3.2-38.6-2.8-35.7-2.2-38.7-2.3-38.7-2.2-14.9-.7-17.8-.7-9-.1-2.9 .1-6 .3z" fill="url(#r27)"/><path d="M381.3 253.6l32.8 2.4 47.6 3.9-2.1 1.8-50.6-4.2-29.7-2.3z" fill="url(#r27)" fill-opacity=".8"/><path d="M461.7 259.9l14.9 1.4-2.1 1.8-14.9-1.4z" fill="url(#r27)" fill-opacity=".6"/><path d="M176.9 245.3l6-.4 2.9-.1 9 .1 20.8 .7 17.8 .9 38.7 2 56.6 3.3 35.7 2.4 32.7 2.4-4.1 3.2-32.7-2.6-35.7-2.5-59.5-3.8-38.6-2.3-17.9-.9-17.8-.8-8.9-.1-3 0-6 .3z" fill="url(#r28)"/><path d="M397.1 256.6l59.6 4.8 17.8 1.7-2.1 1.7-17.8-1.7-59.5-4.9z" fill="url(#r28)" fill-opacity=".8"/><path d="M174.9 246.2l6-.3 2.9-.1 6 0 5.9 .2 26.8 1.2 41.7 2.3 35.7 2.1 38.7 2.4 32.7 2.4 41.6 3.2-4.1 3.2-38.6-3.2-32.7-2.4-41.7-2.9-35.6-2.3-44.6-2.8-23.8-1.2-6-.2-5.9-.1-3 .1-6 .2z" fill="url(#r29)"/><path d="M412.9 259.6l44.7 3.8 14.8 1.4-2 1.7-14.9-1.4-44.6-3.9z" fill="url(#r29)" fill-opacity=".8"/><path d="M172.9 247.1l6-.3 8.9 0 17.9 .8 23.7 1.2 62.5 3.8 38.7 2.5 35.7 2.6 35.7 2.8 38.6 3.3-4.1 3.2-38.6-3.4-35.7-3-35.7-2.7-38.6-2.7-62.5-4.1-23.7-1.4-17.9-.9-8.9-.1-5.9 .2z" fill="url(#r30)"/><path d="M440.6 263.8l17.9 1.5 11.9 1.2-2.1 1.6-11.9-1.1-17.8-1.6z" fill="url(#r30)" fill-opacity=".8"/><path d="M170.9 248l6-.2 8.9 0 17.9 .8 17.8 1 32.7 2 41.6 2.7 35.7 2.4 38.7 2.9 35.7 3 53.5 4.6-4.2 3.2-53.5-4.9-35.6-3-38.6-3-35.7-2.7-41.6-2.8-32.7-2.2-17.8-1.1-17.9-1-8.9-.1-5.9 .1z" fill="url(#r31)"/><path d="M459.4 267.2l8.9 .9-2.1 1.6-8.9-.9z" fill="url(#r31)" fill-opacity=".8"/><path d="M169 248.9l5.9-.2 8.9 .1 20.8 1 50.6 3.2 41.6 2.8 38.6 2.8 41.6 3.2 26.8 2.3 44.6 3.9 17.8 1.7-4.1 3.1-17.8-1.8-44.6-4-26.7-2.4-41.6-3.4-38.7-2.9-41.5-3-50.6-3.4-20.7-1.2-9-.2-5.9 .1z" fill="url(#r32)"/><path d="M167 249.7l5.9-.1 8.9 .1 20.8 1.1 50.6 3.4 41.6 2.9 38.6 2.8 41.6 3.4 26.7 2.2 44.6 4 17.9 1.8-4.2 2.9-17.8-1.8-44.5-4.1-26.8-2.3-41.6-3.5-38.6-3-44.5-3.3-50.5-3.5-17.8-1.1-8.9-.2-6 .1z" fill="url(#r33)"/><path d="M165 250.6l5.9-.1 9 .2 20.7 1.2 50.6 3.4 41.5 3 38.7 2.9 41.6 3.4 26.7 2.4 44.6 4 17.8 1.8-4.1 2.8-17.9-1.8-71.2-6.5-41.6-3.6-38.6-3-44.5-3.4-50.5-3.6-17.8-1.1-8.9-.3-6 .1z" fill="url(#r34)"/><path d="M163 251.5l6-.1 8.9 .2 17.8 1.1 50.5 3.5 44.5 3.3 38.6 3 41.6 3.5 26.8 2.3 44.5 4.1 17.8 1.8-4.1 2.8-17.8-1.8-71.3-6.6-41.5-3.6-38.6-3.2-44.5-3.4-50.5-3.8-17.8-1.1-8.9-.3-6 0z" fill="url(#r35)"/><path d="M161 252.4l6-.1 8.9 .3 17.8 1.1 50.5 3.6 44.5 3.4 38.6 3 41.6 3.6 71.2 6.5 17.9 1.8-4.2 2.7-17.8-1.8-71.2-6.7-41.5-3.6-38.6-3.2-44.5-3.6-50.5-3.8-17.8-1.2-8.9-.3-5.9 0z" fill="url(#r36)"/><path d="M159 253.2l6 0 8.9 .3 17.8 1.1 50.5 3.8 44.5 3.4 38.6 3.2 41.5 3.6 71.3 6.6 17.8 1.8-4.1 2.6-14.8-1.5-59.4-5.7-35.6-3.2-41.5-3.6-56.4-4.6-53.4-4.2-20.8-1.4-8.9-.4-5.9 0z" fill="url(#r37)"/><path d="M157.1 254.1l5.9 0 8.9 .3 17.8 1.2 50.5 3.8 44.5 3.6 38.6 3.2 41.5 3.6 71.2 6.7 17.8 1.8-4.1 2.6-14.8-1.5-59.3-5.8-35.6-3.3-41.5-3.6-56.4-4.7-53.4-4.3-20.8-1.4-8.9-.4-5.9-.1z" fill="url(#r38)"/><path d="M155.1 255l5.9 0 8.9 .4 20.8 1.4 53.4 4.2 56.4 4.6 41.5 3.6 35.6 3.2 59.4 5.7 14.8 1.5-4.1 2.6-14.8-1.6-59.4-5.8-35.5-3.3-41.6-3.7-56.3-4.8-53.4-4.3-20.8-1.5-8.9-.4-5.9-.1z" fill="url(#r39)"/><path d="M153.1 255.8l5.9 .1 8.9 .4 20.8 1.4 53.4 4.3 56.4 4.7 41.5 3.6 35.6 3.3 59.3 5.8 14.8 1.5-4.1 2.5-14.8-1.6-59.3-5.8-35.6-3.3-41.5-3.8-56.3-4.8-53.4-4.4-20.7-1.6-8.9-.4-6-.1z" fill="url(#r40)"/><path d="M151.1 256.7l5.9 .1 8.9 .4 20.8 1.5 53.4 4.3 56.3 4.8 41.6 3.7 35.5 3.3 59.4 5.8 14.8 1.6-4.1 2.4-14.8-1.5-59.3-5.9-35.6-3.4-41.5-3.8-56.3-4.9-53.4-4.5-20.7-1.6-8.9-.4-6-.1z" fill="url(#r41)"/><path d="M149.1 257.6l6 .1 8.9 .4 20.7 1.6 53.4 4.4 56.3 4.8 41.5 3.8 35.6 3.3 59.3 5.8 14.8 1.6-4 2.4-14.9-1.5-59.2-6-35.6-3.4-41.5-3.8-56.3-5-53.4-4.6-20.7-1.6-8.9-.4-5.9-.2z" fill="url(#r42)"/><path d="M147.1 258.5l6 .1 8.9 .4 20.7 1.6 53.4 4.5 56.3 4.9 41.5 3.8 35.6 3.4 59.3 5.9 14.8 1.5-4.1 2.4-14.8-1.6-59.3-5.9-35.5-3.5-41.5-3.8-56.3-5.1-53.4-4.6-20.7-1.7-8.9-.4-5.9-.2z" fill="url(#r43)"/><path d="M145.2 259.3l5.9 .2 8.9 .4 20.7 1.6 53.4 4.6 56.3 5 41.5 3.8 35.6 3.4 59.2 6 14.9 1.5-4.1 2.4-14.8-1.6-59.3-6-35.5-3.5-41.5-3.9-56.3-5.1-53.4-4.7-20.7-1.6-8.9-.5-5.9-.2z" fill="url(#r44)"/><path d="M143.2 260.2l5.9 .2 8.9 .4 20.7 1.7 53.4 4.6 56.3 5.1 41.5 3.8 35.5 3.5 59.3 5.9 14.8 1.6-4.1 2.4-14.8-1.6-59.2-6.1-35.6-3.5-41.4-3.9-56.3-5.2-53.3-4.7-20.8-1.7-8.9-.6-5.9-.1z" fill="url(#r45)"/><path d="M141.2 261.1l5.9 .2 8.9 .5 20.7 1.6 53.4 4.7 56.3 5.1 41.5 3.9 35.5 3.5 59.3 6 14.8 1.6-4.1 2.3-14.8-1.6-59.2-6.1-35.6-3.5-41.4-4-56.3-5.2-53.3-4.8-20.8-1.7-8.9-.6-5.9-.2z" fill="url(#r46)"/><path d="M139.2 262l5.9 .1 8.9 .6 20.8 1.7 53.3 4.7 56.3 5.2 41.4 3.9 35.6 3.5 59.2 6.1 14.8 1.6-4 2.3-14.8-1.7-59.3-6.1-35.5-3.6-41.5-4-56.2-5.2-53.3-4.9-20.8-1.7-8.8-.6-6-.2z" fill="url(#r47)"/><path d="M137.2 262.8l5.9 .2 8.9 .6 20.8 1.7 53.3 4.8 56.3 5.2 41.4 4 35.6 3.5 59.2 6.1 14.8 1.6-4.1 2.3-14.8-1.7-59.2-6.1-35.5-3.6-41.5-4-109.5-10.3-20.7-1.7-8.9-.6-5.9-.2z" fill="url(#r48)"/><path d="M135.2 263.7l6 .2 8.8 .6 20.8 1.7 53.3 4.9 56.2 5.2 41.5 4 35.5 3.6 59.3 6.1 14.8 1.7-4.1 2.2-14.8-1.6-56.2-5.9-35.6-3.7-41.4-4-59.2-5.7-53.3-5-20.7-1.8-8.9-.5-5.9-.3z" fill="url(#r49)"/><path d="M133.3 264.6l5.9 .2 8.9 .6 20.7 1.7 109.5 10.3 41.5 4 35.5 3.6 59.2 6.1 14.8 1.7-4 2.2-14.8-1.7-56.3-5.9-35.5-3.6-41.4-4.1-112.5-10.7-20.7-1.9-8.9-.5-5.9-.3z" fill="url(#r50)"/><path d="M131.3 265.4l5.9 .3 8.9 .5 20.7 1.8 53.3 5 59.2 5.7 41.4 4 35.6 3.7 56.2 5.9 14.8 1.6-4 2.2-14.8-1.7-56.3-5.9-35.5-3.7-41.4-4.1-112.5-10.8-20.7-1.9-8.9-.6-5.9-.2z" fill="url(#r51)"/><path d="M129.3 266.3l5.9 .3 8.9 .5 20.7 1.9 112.5 10.7 41.4 4.1 35.5 3.6 56.3 5.9 14.8 1.7-4.1 2.1-14.8-1.6-56.2-6-35.5-3.7-41.4-4.1-112.5-10.9-20.7-1.9-8.9-.6-5.9-.3z" fill="url(#r52)"/><path d="M127.3 267.2l5.9 .2 8.9 .6 20.7 1.9 112.5 10.8 41.4 4.1 35.5 3.7 56.3 5.9 14.8 1.7-4.1 2.1-14.8-1.7-56.2-6-76.9-7.9-112.5-10.9-20.7-1.9-8.8-.6-6-.3z" fill="url(#r53)"/><path d="M125.3 268l5.9 .3 8.9 .6 20.7 1.9 112.5 10.9 41.4 4.1 35.5 3.7 56.2 6 14.8 1.6-4 2.2-14.8-1.7-56.2-6.1-76.9-7.9-112.4-11-20.8-1.9-8.8-.6-5.9-.3z" fill="url(#r54)"/><path d="M123.3 268.9l6 .3 8.8 .6 20.7 1.9 112.5 10.9 76.9 7.9 56.2 6 14.8 1.7-4 2.1-14.8-1.7-56.2-6-76.9-8-112.4-11.1-20.7-1.9-8.9-.7-5.9-.3z" fill="url(#r55)"/><path d="M121.4 269.8l5.9 .3 8.8 .6 20.8 1.9 112.4 11 76.9 7.9 56.2 6.1 14.8 1.7-4.1 2-14.7-1.6-56.2-6.1-76.9-8-112.4-11.2-20.7-1.9-8.9-.7-5.9-.3z" fill="url(#r56)"/><path d="M119.4 270.6l5.9 .3 8.9 .7 20.7 1.9 112.4 11.1 76.9 8 56.2 6 14.8 1.7-4.1 2.1-14.8-1.7-56.2-6.1-76.8-8.1-112.4-11.2-20.7-2-8.9-.6-5.9-.3z" fill="url(#r57)"/><path d="M117.4 271.5l5.9 .3 8.9 .7 20.7 1.9 112.4 11.2 76.9 8 56.2 6.1 14.7 1.6-4 2.1-71-7.8-76.8-8.1-112.4-11.3-20.7-2-8.9-.6-5.9-.4z" fill="url(#r58)"/><path d="M115.4 272.4l5.9 .3 8.9 .6 20.7 2 112.4 11.2 76.8 8.1 56.2 6.1 14.8 1.7-4 2-71-7.8-76.8-8.1-112.4-11.4-20.7-2-8.9-.7-5.9-.3z" fill="url(#r59)"/><path d="M113.4 273.2l5.9 .4 8.9 .6 20.7 2 112.4 11.3 76.8 8.1 71 7.8-4 2-71-7.8-76.8-8.2-112.4-11.4-20.7-2-8.8-.7-5.9-.3z" fill="url(#r60)"/><path d="M111.4 274.1l5.9 .3 8.9 .7 20.7 2 112.4 11.4 76.8 8.1 71 7.8-4.1 2-70.9-7.9-76.8-8.1-112.4-11.5-20.7-2-8.8-.7-5.9-.4z" fill="url(#r61)"/><path d="M109.5 275l5.9 .3 8.8 .7 20.7 2 112.4 11.4 76.8 8.2 71 7.8-4.1 2-70.9-7.9-76.8-8.2-112.3-11.6-20.7-2-8.9-.7-5.9-.3z" fill="url(#r62)"/><path d="M107.5 275.8l5.9 .4 8.8 .7 20.7 2 112.4 11.5 76.8 8.1 70.9 7.9-4 2-70.9-7.9-76.8-8.3-112.3-11.6-20.7-2-8.9-.7-5.9-.4z" fill="url(#r63)"/><path d="M105.5 276.7l5.9 .3 8.9 .7 20.7 2 112.3 11.6 76.8 8.2 70.9 7.9-4 2-70.9-7.9-76.8-8.3-112.3-11.7-20.7-2-8.9-.7-5.9-.4z" fill="url(#r64)"/><path d="M103.5 277.5l5.9 .4 8.9 .7 20.7 2 112.3 11.6 76.8 8.3 70.9 7.9-4 2-70.9-8-76.8-8.3-112.3-11.7-20.7-2-8.9-.8-5.9-.3z" fill="url(#r65)"/><path d="M101.5 278.4l5.9 .4 8.9 .7 20.7 2 112.3 11.7 76.8 8.3 70.9 7.9-4 2-70.9-8-76.8-8.4-112.3-11.7-20.7-2.1-8.8-.7-5.9-.4z" fill="url(#r66)"/><path d="M99.5 279.3l5.9 .3 8.9 .8 20.7 2 112.3 11.7 76.8 8.3 70.9 8-4 2-70.9-8.1-76.8-8.3-112.3-11.8-20.7-2.1-8.8-.7-5.9-.4z" fill="url(#r67)"/><path d="M97.6 280.1l5.9 .4 8.8 .7 20.7 2.1 112.3 11.7 76.8 8.4 70.9 8-4 1.9-70.9-8-76.8-8.4-112.3-11.9-20.6-2-8.9-.8-5.9-.4z" fill="url(#r68)"/><path d="M95.6 281l5.9 .4 8.8 .7 20.7 2.1 112.3 11.8 76.8 8.3 70.9 8.1-4.1 1.9-70.8-8.1-76.8-8.4-112.3-11.9-20.6-2.1-8.9-.7-5.9-.4z" fill="url(#r69)"/><path d="M93.6 281.8l5.9 .4 8.9 .8 20.6 2 112.3 11.9 76.8 8.4 70.9 8-4.1 1.9-70.8-8-76.8-8.5-112.2-11.9-20.7-2.1-8.9-.8-5.9-.4z" fill="url(#r70)"/><path d="M91.6 282.7l5.9 .4 8.9 .7 20.6 2.1 112.3 11.9 76.8 8.4 70.8 8.1-4 1.9-70.8-8.1-76.8-8.5-112.2-11.9-20.7-2.1-8.9-.8-5.9-.4z" fill="url(#r71)"/><path d="M89.6 283.5l5.9 .4 8.9 .8 20.7 2.1 112.2 11.9 76.8 8.5 70.8 8-4 2-70.8-8.2-76.8-8.5-112.2-12-20.7-2.1-8.8-.7-6-.4z" fill="url(#r72)"/><path d="M87.6 284.4l5.9 .4 8.9 .8 20.7 2.1 112.2 11.9 76.8 8.5 70.8 8.1-4 1.9-70.8-8.1-76.8-8.5-112.2-12.1-20.7-2.1-8.8-.8-5.9-.4z" fill="url(#r73)"/><path d="M85.6 285.3l6 .4 8.8 .7 20.7 2.1 112.2 12 76.8 8.5 70.8 8.2-4 1.8-70.8-8.1-76.8-8.5-112.2-12.1-20.7-2.1-8.8-.8-5.9-.4z" fill="url(#r74)"/><path d="M83.7 286.1l5.9 .4 8.8 .8 20.7 2.1 112.2 12.1 76.8 8.5 70.8 8.1-4 1.9-70.8-8.2-76.8-8.5-112.2-12.1-20.6-2.2-14.8-1.2z" fill="url(#r75)"/><path d="M81.7 287l5.9 .4 8.8 .8 20.7 2.1 112.2 12.1 76.8 8.5 70.8 8.1-4 1.9-70.8-8.2-76.8-8.5-112.2-12.2-20.6-2.1-14.8-1.2z" fill="url(#r76)"/><path d="M79.7 287.8l14.8 1.2 20.6 2.2 112.2 12.1 76.8 8.5 70.8 8.2-4 1.9-70.8-8.2-76.8-8.6-112.2-12.2-20.6-2.1-14.8-1.3z" fill="url(#r77)"/><path d="M77.7 288.7l14.8 1.2 20.6 2.1 112.2 12.2 76.8 8.5 70.8 8.2-4 1.9-70.8-8.2-76.8-8.6-112.1-12.2-20.7-2.2-14.8-1.2z" fill="url(#r78)"/><path d="M75.7 289.5l14.8 1.3 20.6 2.1 112.2 12.2 76.8 8.6 70.8 8.2-4 1.8-70.8-8.2-76.8-8.6-112.1-12.3-20.7-2.1-14.7-1.3z" fill="url(#r79)"/><path d="M73.7 290.4l14.8 1.2 20.7 2.2 112.1 12.2 76.8 8.6 70.8 8.2-4 1.8-70.8-8.2-76.8-8.6-112.1-12.3-20.7-2.2-14.7-1.2z" fill="url(#r80)"/><path d="M71.8 291.2l14.7 1.3 20.7 2.1 112.1 12.3 76.8 8.6 70.8 8.2-4 1.9-70.8-8.3-76.8-8.6-115-12.7-17.8-1.8-14.7-1.3z" fill="url(#r81)"/><path d="M69.8 292.1l14.7 1.2 20.7 2.2 112.1 12.3 76.8 8.6 70.8 8.2-4 1.9-70.8-8.3-76.8-8.6-115-12.7-17.7-1.8-14.8-1.3z" fill="url(#r82)"/><path d="M67.8 292.9l14.7 1.3 17.8 1.8 115 12.7 76.8 8.6 70.8 8.3-4 1.8-70.8-8.3-76.8-8.7-115-12.6-17.7-1.9-14.8-1.2z" fill="url(#r83)"/><path d="M65.8 293.8l14.8 1.3 17.7 1.8 115 12.7 76.8 8.6 70.8 8.3-4 1.8-70.8-8.3-76.7-8.7-115.1-12.7-17.7-1.8-14.8-1.3z" fill="url(#r84)"/><path d="M63.8 294.7l14.8 1.2 17.7 1.9 115 12.6 76.8 8.7 70.8 8.3-4 1.8-70.8-8.3-76.7-8.7-115.1-12.7-17.7-1.9-14.7-1.2z" fill="url(#r85)"/><path d="M61.8 295.5l14.8 1.3 17.7 1.8 115.1 12.7 76.7 8.7 70.8 8.3-4.9 2.2-70.4-8.4-76.3-8.9-114.4-13.1-17.6-1.9-14.7-1.3z" fill="url(#r86)"/><path d="M59.9 296.4l14.7 1.2 17.7 1.9 115.1 12.7 76.7 8.7 70.8 8.3-2.9 1.3-70.4-8.4-76.3-8.9-114.4-13.1-17.6-1.9-14.7-1.3z" fill="url(#r87)"/></g>
<g fill="none" stroke-width="1.4" stroke-linejoin="round"><path d="M234 27l3 0 2.9 11.3 2.9 10.2 5.9 16.2 2.9 7.8 3 6.5 2.9 5.4 2.9 4.2 3 3.5 2.9 3.1 2.9 2.8 3 2.6 2.9 2.4 2.9 2.2 5.9 4 5.9 3.5 5.8 3 5.9 2.6 5.9 2.1 8.8 2.8 8.8 2.6 5.9 1.9 2.9 .9 2.9 .7 11.8 2.5 20.5 4.4 52.8 10.5 64.6 13 8.8 1.7 17.6 3.2 11.7 2.7" stroke="url(#r0)"/><path d="M229.4 162.7l2.9-3.6 3-3.5 2.9-2.2 2.9-1.7 3-1.3 2.9-.8 3-.4 11.7-.8 3-.1 5.9-.1 8.8 .3 32.3 2 8.9 .7 11.7 1.1 11.8 .9 8.8 .8 26.5 2.6 11.7 1.3 29.5 3.6 32.3 4.4 38.2 5.8 17.7 2.5 5.9 .9 8.8 1.7" stroke="url(#r1)"/><path d="M227.6 186.8l5.9-7 3-2.4 2.9-1.9 3-1.5 2.9-1.2 3-.7 2.9-.7 8.9-1.6 5.9-.8 5.9-.6 5.9-.4 5.9-.3 26.5-.6 11.8 .1 8.8 .3 14.8 .3 8.8 .3 26.6 1.4 11.8 .8 14.7 1.2 17.7 1.7 32.4 3.5 50.1 6.1 5.9 .8 8.9 1.5" stroke="url(#r2)"/><path d="M225.9 196.4l5.9-6.3 3-2.3 2.9-1.8 3-1.5 3-1.2 2.9-.8 3-.7 5.9-1.3 5.9-1.1 5.9-.8 5.9-.7 5.9-.5 8.9-.6 17.7-.9 8.9-.2 5.9-.1 8.8 .1 14.8-.1 14.8 .3 14.8 .5 8.8 .3 11.9 .7 14.7 .9 17.8 1.4 29.5 2.8 50.2 5.5 6 .7 8.8 1.4" stroke="url(#r3)"/><path d="M224.2 205.8l5.9-5.7 3-2 2.9-1.7 3-1.4 3-1.2 5.9-1.5 8.9-2 5.9-1.1 5.9-.9 5.9-.7 8.9-.8 8.9-.7 11.8-.8 11.9-.6 11.8-.2 14.8-.3 20.8 0 11.8 .2 8.9 .3 23.7 1 20.7 1.4 26.7 2.1 50.3 4.8 5.9 .6 8.9 1.2" stroke="url(#r4)"/><path d="M222.5 211.5l5.9-4.9 3-1.9 2.9-1.5 3-1.3 3-1 2.9-.8 6-1.3 5.9-1.2 5.9-1.1 6-.9 8.9-1 8.9-.8 17.8-1.4 14.8-.8 8.9-.2 17.8-.5 23.7-.1 17.8 .3 23.8 .9 20.7 1.2 14.9 .9 11.8 .9 47.5 4.1 5.9 .7 8.9 1.1" stroke="url(#r5)"/><path d="M220.5 215.4l6-4.2 3-1.6 2.9-1.3 3-1.1 3-.9 5.9-1.3 6-1.1 5.9-1 6-.9 11.8-1.3 9-.7 17.8-1.3 14.8-.8 26.8-.8 23.8-.1 17.8 .2 23.8 .7 23.8 1.2 23.7 1.5 47.6 3.8 5.9 .5 8.9 1.1" stroke="url(#r6)"/><path d="M218.6 218.3l5.9-3.7 3-1.4 3-1.1 2.9-1 3-.8 3-.6 14.9-2.4 8.9-1.1 8.9-.9 9-.7 14.9-1 14.8-.8 23.8-.8 14.9-.2 23.8 0 20.9 .4 20.8 .7 26.8 1.4 17.9 1.2 41.6 3.1 6 .5 8.9 1" stroke="url(#r7)"/><path d="M216.6 220.7l5.9-3.4 3-1.2 3-1.1 3-.9 3-.7 2.9-.5 14.9-2.2 9-1 8.9-.8 26.8-1.7 14.9-.7 23.9-.7 20.9-.2 17.8 .1 20.9 .4 20.9 .8 23.8 1.1 17.9 1.2 41.7 2.9 6 .5 8.9 1" stroke="url(#r8)"/><path d="M214.6 222.6l6-3 2.9-1.2 6-1.7 3-.7 3-.5 14.9-2 8.9-.9 9-.7 26.8-1.6 15-.6 23.8-.6 20.9-.2 17.9 .1 20.9 .4 20.9 .7 23.8 1.1 17.9 1.1 41.8 2.9 6 .5 8.9 .9" stroke="url(#r9)"/><path d="M212.6 224.4l6-2.8 3-1 5.9-1.6 3-.6 3-.5 14.9-1.8 9-.8 8.9-.6 26.9-1.4 14.9-.6 23.9-.5 20.9-.1 17.9 .1 20.9 .4 20.9 .7 23.9 1.1 17.9 1.1 41.8 2.8 6 .5 8.9 .9" stroke="url(#r10)"/><path d="M210.6 225.9l6-2.5 3-.9 6-1.4 2.9-.6 3-.4 15-1.5 8.9-.8 9-.5 26.9-1.2 14.9-.5 23.9-.4 20.9 0 17.9 .1 20.9 .4 20.9 .8 23.9 1.1 20.9 1.2 38.9 2.6 6 .4 8.9 .9" stroke="url(#r11)"/><path d="M208.6 227.4l6-2.3 3-.8 6-1.3 6-.8 17.9-1.6 14.9-.9 29.9-1.1 12-.2 26.8-.4 23.9 .1 15 .2 20.9 .5 17.9 .7 23.9 1.1 20.9 1.2 38.9 2.6 14.9 1.3" stroke="url(#r12)"/><path d="M206.7 228.8l5.9-2.1 3-.7 6-1.2 6-.7 17.9-1.4 14.9-.7 29.9-.8 12-.3 26.9-.1 23.9 .1 14.9 .3 23.9 .6 18 .7 23.9 1.2 20.9 1.3 35.8 2.3 15 1.3" stroke="url(#r13)"/><path d="M204.7 230.1l5.9-1.8 3-.7 6-1 6-.7 14.9-1 9-.4 9-.3 26.9-.6 14.9-.2 26.9-.1 23.9 .3 14.9 .3 23.9 .7 18 .7 23.9 1.2 20.9 1.3 35.9 2.3 14.9 1.3" stroke="url(#r14)"/><path d="M202.7 231.4l6-1.7 3-.6 5.9-.9 6-.5 14.9-.9 18-.6 26.9-.4 14.9-.1 26.9 .1 23.9 .3 14.9 .3 24 .8 17.9 .8 23.9 1.2 20.9 1.3 35.9 2.3 14.9 1.3" stroke="url(#r15)"/><path d="M200.7 232.7l6-1.6 3-.5 5.9-.8 6-.5 17.9-.8 15-.3 29.9-.3 11.9 0 29.9 .2 23.9 .5 14.9 .4 20.9 .7 18 .8 23.9 1.3 20.9 1.3 35.8 2.4 15 1.2" stroke="url(#r16)"/><path d="M198.7 233.9l6-1.4 3-.5 6-.7 5.9-.4 15-.6 17.9-.3 29.9 0 11.9 0 29.9 .4 23.9 .5 14.9 .5 20.9 .8 17.9 .8 23.9 1.3 20.9 1.3 35.9 2.4 14.9 1.3" stroke="url(#r17)"/><path d="M196.7 235l6-1.2 3-.4 6-.7 5.9-.3 15-.4 17.9-.2 29.9 .1 41.8 .7 23.8 .6 15 .5 20.9 .9 17.9 .8 23.9 1.4 20.9 1.3 35.8 2.5 15 1.2" stroke="url(#r18)"/><path d="M194.8 236.2l5.9-1.1 3-.4 6-.6 6-.2 14.9-.3 17.9-.1 29.8 .3 41.8 .9 23.9 .7 14.9 .5 23.9 1.1 17.9 .9 23.9 1.4 20.9 1.4 32.9 2.3 14.9 1.3" stroke="url(#r19)"/><path d="M192.8 237.4l5.9-1.1 3-.3 6-.5 6-.2 14.9-.1 17.9 0 29.8 .5 41.8 1 38.8 1.4 23.9 1.2 17.9 .9 23.9 1.5 20.9 1.4 32.8 2.3 14.9 1.3" stroke="url(#r20)"/><path d="M190.8 238.5l6-.9 2.9-.3 6-.4 6-.2 14.9 0 17.9 .2 29.8 .6 41.8 1.2 38.8 1.6 23.8 1.1 17.9 1.1 23.9 1.4 20.9 1.5 32.8 2.4 14.9 1.3" stroke="url(#r21)"/><path d="M188.8 239.6l6-.8 3-.3 5.9-.3 6-.1 14.9 0 14.9 .3 32.8 .8 41.8 1.4 38.7 1.7 23.9 1.2 17.9 1.1 23.8 1.5 20.9 1.5 32.8 2.4 14.9 1.3" stroke="url(#r22)"/><path d="M186.8 240.6l6-.7 3-.2 5.9-.3 6-.1 14.9 .2 14.9 .3 32.8 1 44.7 1.7 35.8 1.7 23.8 1.3 17.9 1.1 23.9 1.6 20.9 1.5 32.7 2.5 15 1.3" stroke="url(#r23)"/><path d="M184.8 241.6l6-.7 8.9-.4 6 0 14.9 .3 14.9 .4 32.8 1.1 44.7 1.9 35.8 1.8 23.8 1.4 17.9 1.1 23.8 1.7 20.9 1.5 32.8 2.5 14.9 1.4" stroke="url(#r24)"/><path d="M182.9 242.5l5.9-.5 8.9-.3 6 0 14.9 .3 14.9 .5 35.8 1.4 41.7 1.9 38.7 2.1 23.8 1.5 17.9 1.2 41.7 3 32.8 2.6 14.9 1.4" stroke="url(#r25)"/><path d="M180.9 243.5l5.9-.5 9-.3 5.9 .1 14.9 .4 14.9 .5 35.7 1.6 41.7 2.1 38.7 2.2 41.7 2.7 26.8 2 44.7 3.5 17.9 1.6" stroke="url(#r26)"/><path d="M178.9 244.4l5.9-.4 9-.2 5.9 .1 14.9 .5 14.9 .6 35.7 1.7 41.7 2.2 38.7 2.3 41.7 2.8 26.8 2 44.6 3.6 17.9 1.7" stroke="url(#r27)"/><path d="M176.9 245.3l6-.4 8.9-.1 20.8 .7 14.9 .7 35.7 1.8 41.7 2.3 38.7 2.4 41.6 3 26.8 2 44.7 3.7 17.8 1.7" stroke="url(#r28)"/><path d="M174.9 246.2l6-.3 8.9-.1 20.8 .8 14.9 .7 35.7 2 41.7 2.5 38.6 2.5 41.7 3 26.8 2.1 44.6 3.7 17.8 1.7" stroke="url(#r29)"/><path d="M172.9 247.1l6-.3 8.9 0 20.8 .9 50.6 2.8 41.6 2.6 38.7 2.6 41.6 3.1 26.8 2.2 44.6 3.8 17.9 1.7" stroke="url(#r30)"/><path d="M170.9 248l6-.2 8.9 0 20.8 1 50.6 3 41.6 2.7 38.7 2.7 41.6 3.2 26.8 2.2 44.6 3.8 17.8 1.7" stroke="url(#r31)"/><path d="M169 248.9l5.9-.2 8.9 .1 20.8 1 50.6 3.2 41.6 2.8 38.6 2.8 41.6 3.2 26.8 2.3 44.6 3.9 17.8 1.7" stroke="url(#r32)"/><path d="M167 249.7l5.9-.1 8.9 .1 20.8 1.1 50.6 3.4 41.6 2.9 38.6 2.8 41.6 3.4 26.7 2.2 44.6 4 17.9 1.8" stroke="url(#r33)"/><path d="M165 250.6l5.9-.1 9 .2 20.7 1.2 50.6 3.4 41.5 3 38.7 2.9 41.6 3.4 26.7 2.4 44.6 4 17.8 1.8" stroke="url(#r34)"/><path d="M163 251.5l6-.1 8.9 .2 17.8 1.1 50.5 3.5 44.5 3.3 38.6 3 41.6 3.5 26.8 2.3 44.5 4.1 17.8 1.8" stroke="url(#r35)"/><path d="M161 252.4l6-.1 8.9 .3 17.8 1.1 50.5 3.6 44.5 3.4 38.6 3 41.6 3.6 71.2 6.5 17.9 1.8" stroke="url(#r36)"/><path d="M159 253.2l6 0 8.9 .3 17.8 1.1 50.5 3.8 44.5 3.4 38.6 3.2 41.5 3.6 71.3 6.6 17.8 1.8" stroke="url(#r37)"/><path d="M157.1 254.1l5.9 0 8.9 .3 17.8 1.2 50.5 3.8 44.5 3.6 38.6 3.2 41.5 3.6 71.2 6.7 17.8 1.8" stroke="url(#r38)"/><path d="M155.1 255l5.9 0 8.9 .4 20.8 1.4 53.4 4.2 56.4 4.6 41.5 3.6 35.6 3.2 59.4 5.7 14.8 1.5" stroke="url(#r39)"/><path d="M153.1 255.8l5.9 .1 8.9 .4 20.8 1.4 53.4 4.3 56.4 4.7 41.5 3.6 35.6 3.3 59.3 5.8 14.8 1.5" stroke="url(#r40)"/><path d="M151.1 256.7l5.9 .1 8.9 .4 20.8 1.5 53.4 4.3 56.3 4.8 41.6 3.7 35.5 3.3 59.4 5.8 14.8 1.6" stroke="url(#r41)"/><path d="M149.1 257.6l6 .1 8.9 .4 20.7 1.6 53.4 4.4 56.3 4.8 41.5 3.8 35.6 3.3 59.3 5.8 14.8 1.6" stroke="url(#r42)"/><path d="M147.1 258.5l6 .1 8.9 .4 20.7 1.6 53.4 4.5 56.3 4.9 41.5 3.8 35.6 3.4 59.3 5.9 14.8 1.5" stroke="url(#r43)"/><path d="M145.2 259.3l5.9 .2 8.9 .4 20.7 1.6 53.4 4.6 56.3 5 41.5 3.8 35.6 3.4 59.2 6 14.9 1.5" stroke="url(#r44)"/><path d="M143.2 260.2l5.9 .2 8.9 .4 20.7 1.7 53.4 4.6 56.3 5.1 41.5 3.8 35.5 3.5 59.3 5.9 14.8 1.6" stroke="url(#r45)"/><path d="M141.2 261.1l5.9 .2 8.9 .5 20.7 1.6 53.4 4.7 56.3 5.1 41.5 3.9 35.5 3.5 59.3 6 14.8 1.6" stroke="url(#r46)"/><path d="M139.2 262l5.9 .1 8.9 .6 20.8 1.7 53.3 4.7 56.3 5.2 41.4 3.9 35.6 3.5 59.2 6.1 14.8 1.6" stroke="url(#r47)"/><path d="M137.2 262.8l5.9 .2 8.9 .6 20.8 1.7 53.3 4.8 56.3 5.2 41.4 4 35.6 3.5 59.2 6.1 14.8 1.6" stroke="url(#r48)"/><path d="M135.2 263.7l6 .2 8.8 .6 20.8 1.7 53.3 4.9 56.2 5.2 41.5 4 35.5 3.6 59.3 6.1 14.8 1.7" stroke="url(#r49)"/><path d="M133.3 264.6l5.9 .2 8.9 .6 20.7 1.7 109.5 10.3 41.5 4 35.5 3.6 59.2 6.1 14.8 1.7" stroke="url(#r50)"/><path d="M131.3 265.4l5.9 .3 8.9 .5 20.7 1.8 53.3 5 59.2 5.7 41.4 4 35.6 3.7 56.2 5.9 14.8 1.6" stroke="url(#r51)"/><path d="M129.3 266.3l5.9 .3 8.9 .5 20.7 1.9 112.5 10.7 41.4 4.1 35.5 3.6 56.3 5.9 14.8 1.7" stroke="url(#r52)"/><path d="M127.3 267.2l5.9 .2 8.9 .6 20.7 1.9 112.5 10.8 41.4 4.1 35.5 3.7 56.3 5.9 14.8 1.7" stroke="url(#r53)"/><path d="M125.3 268l5.9 .3 8.9 .6 20.7 1.9 112.5 10.9 41.4 4.1 35.5 3.7 56.2 6 14.8 1.6" stroke="url(#r54)"/><path d="M123.3 268.9l6 .3 8.8 .6 20.7 1.9 112.5 10.9 76.9 7.9 56.2 6 14.8 1.7" stroke="url(#r55)"/><path d="M121.4 269.8l5.9 .3 8.8 .6 20.8 1.9 112.4 11 76.9 7.9 56.2 6.1 14.8 1.7" stroke="url(#r56)"/><path d="M119.4 270.6l5.9 .3 8.9 .7 20.7 1.9 112.4 11.1 76.9 8 56.2 6 14.8 1.7" stroke="url(#r57)"/><path d="M117.4 271.5l5.9 .3 8.9 .7 20.7 1.9 112.4 11.2 76.9 8 56.2 6.1 14.7 1.6" stroke="url(#r58)"/><path d="M115.4 272.4l5.9 .3 8.9 .6 20.7 2 112.4 11.2 76.8 8.1 56.2 6.1 14.8 1.7" stroke="url(#r59)"/><path d="M113.4 273.2l5.9 .4 8.9 .6 20.7 2 112.4 11.3 76.8 8.1 71 7.8" stroke="url(#r60)"/><path d="M111.4 274.1l5.9 .3 8.9 .7 20.7 2 112.4 11.4 76.8 8.1 71 7.8" stroke="url(#r61)"/><path d="M109.5 275l5.9 .3 8.8 .7 20.7 2 112.4 11.4 76.8 8.2 71 7.8" stroke="url(#r62)"/><path d="M107.5 275.8l5.9 .4 8.8 .7 20.7 2 112.4 11.5 76.8 8.1 70.9 7.9" stroke="url(#r63)"/><path d="M105.5 276.7l5.9 .3 8.9 .7 20.7 2 112.3 11.6 76.8 8.2 70.9 7.9" stroke="url(#r64)"/><path d="M103.5 277.5l5.9 .4 8.9 .7 20.7 2 112.3 11.6 76.8 8.3 70.9 7.9" stroke="url(#r65)"/><path d="M101.5 278.4l5.9 .4 8.9 .7 20.7 2 112.3 11.7 76.8 8.3 70.9 7.9" stroke="url(#r66)"/><path d="M99.5 279.3l5.9 .3 8.9 .8 20.7 2 112.3 11.7 76.8 8.3 70.9 8" stroke="url(#r67)"/><path d="M97.6 280.1l5.9 .4 8.8 .7 20.7 2.1 112.3 11.7 76.8 8.4 70.9 8" stroke="url(#r68)"/><path d="M95.6 281l5.9 .4 8.8 .7 20.7 2.1 112.3 11.8 76.8 8.3 70.9 8.1" stroke="url(#r69)"/><path d="M93.6 281.8l5.9 .4 8.9 .8 20.6 2 112.3 11.9 76.8 8.4 70.9 8" stroke="url(#r70)"/><path d="M91.6 282.7l5.9 .4 8.9 .7 20.6 2.1 112.3 11.9 76.8 8.4 70.8 8.1" stroke="url(#r71)"/><path d="M89.6 283.5l5.9 .4 8.9 .8 20.7 2.1 112.2 11.9 76.8 8.5 70.8 8" stroke="url(#r72)"/><path d="M87.6 284.4l5.9 .4 8.9 .8 20.7 2.1 112.2 11.9 76.8 8.5 70.8 8.1" stroke="url(#r73)"/><path d="M85.6 285.3l6 .4 8.8 .7 20.7 2.1 112.2 12 76.8 8.5 70.8 8.2" stroke="url(#r74)"/><path d="M83.7 286.1l5.9 .4 8.8 .8 20.7 2.1 112.2 12.1 76.8 8.5 70.8 8.1" stroke="url(#r75)"/><path d="M81.7 287l5.9 .4 8.8 .8 20.7 2.1 112.2 12.1 76.8 8.5 70.8 8.1" stroke="url(#r76)"/><path d="M79.7 287.8l14.8 1.2 20.6 2.2 112.2 12.1 76.8 8.5 70.8 8.2" stroke="url(#r77)"/><path d="M77.7 288.7l14.8 1.2 20.6 2.1 112.2 12.2 76.8 8.5 70.8 8.2" stroke="url(#r78)"/><path d="M75.7 289.5l14.8 1.3 20.6 2.1 112.2 12.2 76.8 8.6 70.8 8.2" stroke="url(#r79)"/><path d="M73.7 290.4l14.8 1.2 20.7 2.2 112.1 12.2 76.8 8.6 70.8 8.2" stroke="url(#r80)"/><path d="M71.8 291.2l14.7 1.3 20.7 2.1 112.1 12.3 76.8 8.6 70.8 8.2" stroke="url(#r81)"/><path d="M69.8 292.1l14.7 1.2 20.7 2.2 112.1 12.3 76.8 8.6 70.8 8.2" stroke="url(#r82)"/><path d="M67.8 292.9l14.7 1.3 17.8 1.8 115 12.7 76.8 8.6 70.8 8.3" stroke="url(#r83)"/><path d="M65.8 293.8l14.8 1.3 17.7 1.8 115 12.7 76.8 8.6 70.8 8.3" stroke="url(#r84)"/><path d="M63.8 294.7l14.8 1.2 17.7 1.9 115 12.6 76.8 8.7 70.8 8.3" stroke="url(#r85)"/><path d="M61.8 295.5l14.8 1.3 17.7 1.8 115.1 12.7 76.7 8.7 70.8 8.3" stroke="url(#r86)"/><path d="M59.9 296.4l14.7 1.2 17.7 1.9 115.1 12.7 76.7 8.7 70.8 8.3" stroke="url(#r87)"/><path d="M58.6 296.9l14.7 1.3 17.6 1.9 114.4 13.1 76.3 8.9 70.4 8.4" stroke="url(#r88)"/><path d="M229.4 162.7l-1.8 24.1-3.4 19-1.7 5.7-2 3.9-1.9 2.9-2 2.4-2 1.9-2 1.8-2 1.5-5.9 4.2-4 2.6-4 2.3-7.9 4.6-4 2-3.9 1.9-13.9 6.2-41.7 18.3-66.7 28.9" stroke="url(#c0)"/><path d="M234 27l-1.7 132.1-1.7 24.1-3.4 19.7-1.8 6.1-1.9 4.3-2 3.2-1.9 2.5-2 2.1" stroke="url(#c1)"/><path d="M237 27l-1.7 128.6-1.8 24.2-3.4 20.3-1.7 6.5-1.9 4.6-2 3.4-2 2.7-1.9 2.3-2 2-4 3.5" stroke="url(#c2)"/><path d="M239.9 38.3l-1.7 115.1-1.7 24-3.4 20.7-1.7 6.6-1.9 4.9-2 3.6-2 2.9-2 2.3-1.9 2.2-2 1.9-4 3.5-5.9 4.6" stroke="url(#c3)"/><path d="M242.8 48.5l-1.7 103.2-1.7 23.8-3.4 20.9-1.7 6.8-1.9 5.1-1.9 3.8-2 2.9-2 2.5-2 2.2-3.9 3.9-2 1.8-4 3.2-3.9 3-4 2.8-4 2.7-4 2.4" stroke="url(#c4)"/><path d="M245.8 56.7l-1.7 93.7-1.7 23.6-3.4 21-1.7 6.9-1.9 5.3-2 3.9-1.9 3-2 2.6-2 2.3-1.9 2.1-2 1.9-4 3.6-5.9 4.7-8 5.6-4 2.5-4 2.3" stroke="url(#c5)"/><path d="M248.7 64.7l-1.7 84.9-1.7 23.2-3.3 21-1.7 7.1-1.9 5.4-2 4-1.9 3.1-2 2.6-2 2.4-3.9 4.2-2 1.8-4 3.5-5.9 4.6-4 2.9-4 2.7-4 2.4-4 2.2" stroke="url(#c6)"/><path d="M251.6 72.5l-1.6 76.7-1.7 22.9-3.4 20.9-1.7 7.1-1.9 5.5-1.9 4.1-2 3.2-1.9 2.6-2 2.4-3.9 4.3-4 3.7-4 3.4-4 3.1-3.9 2.9-6 4-4 2.4-6 3.2" stroke="url(#c7)"/><path d="M254.6 79l-1.7 69.9-1.7 22.5-3.3 20.9-1.7 7.1-1.9 5.6-1.9 4.2-2 3.2-1.9 2.7-2 2.4-2 2.3-3.9 4.1-4 3.6-4 3.3-7.9 5.9-4 2.7-2 1.2-4 2.3-6 3.2" stroke="url(#c8)"/><path d="M257.5 84.4l-1.7 64.4-1.6 22.1-3.4 20.7-1.6 7.2-1.9 5.7-2 4.2-1.9 3.3-2 2.7-1.9 2.5-4 4.4-1.9 2-4 3.7-6 4.9-4 3-4 2.9-1.9 1.3-4 2.4-10 5.5" stroke="url(#c9)"/><path d="M260.4 88.6l-1.6 60-1.7 21.7-3.3 20.6-1.7 7.3-1.8 5.7-2 4.3-1.9 3.3-2 2.8-1.9 2.5-4 4.5-2 2.1-3.9 3.7-6 5-4 3.1-4 2.9-4 2.6-3.9 2.3-10 5.5" stroke="url(#c10)"/><path d="M263.4 92.1l-1.7 56.3-1.6 21.4-3.3 20.5-1.7 7.3-1.9 5.8-1.9 4.3-1.9 3.4-2 2.8-2 2.6-1.9 2.4-4 4.3-2 1.9-3.9 3.6-4 3.4-4 3.1-4 2.9-2 1.4-4 2.4-4 2.4-5.9 3.3-6 3.1" stroke="url(#c11)"/><path d="M266.3 95.2l-1.6 53.1-1.7 21.1-3.3 20.3-1.6 7.3-1.9 5.9-1.9 4.4-2 3.4-1.9 2.8-2 2.6-1.9 2.5-4 4.3-2 2-3.9 3.7-4 3.4-4 3.2-4 2.9-2 1.4-4 2.5-6 3.5-6 3.3-6 3.1" stroke="url(#c12)"/><path d="M269.2 98l-1.6 50.2-1.6 20.8-3.3 20.2-1.7 7.3-1.8 6-1.9 4.4-2 3.4-1.9 2.9-2 2.6-1.9 2.5-4 4.4-2 2.1-4 3.7-3.9 3.4-4 3.2-4 3.1-4 2.6-4 2.5-6 3.4-6 3.3-6 3.1" stroke="url(#c13)"/><path d="M272.2 100.6l-1.6 47.6-1.7 20.4-3.2 20.2-1.7 7.2-1.8 6-2 4.5-1.9 3.5-1.9 2.9-2 2.7-3.9 4.8-2 2.2-4 4-6 5.3-3.9 3.2-4 3.1-2 1.4-4 2.6-4 2.4-6 3.4-6 3.2-6 3.1" stroke="url(#c14)"/><path d="M275.1 103l-1.6 45.3-1.6 20.1-3.3 19.9-1.6 7.3-1.9 6.1-1.9 4.5-1.9 3.5-2 2.9-1.9 2.7-3.9 4.9-2 2.2-4 4.1-4 3.6-4 3.4-6 4.7-4 2.8-4 2.5-4 2.4-5.9 3.3-6 3.2-6 3.1" stroke="url(#c15)"/><path d="M278 105.2l-1.6 43.2-1.6 19.8-3.2 19.8-1.7 7.3-1.8 6-1.9 4.5-1.9 3.6-2 2.9-1.9 2.8-4 4.9-3.9 4.4-4 3.9-4 3.5-4 3.4-4 3.1-2 1.4-4 2.7-4 2.4-10 5.7-12 6.2" stroke="url(#c16)"/><path d="M281 107.3l-1.6 41.2-1.6 19.5-3.3 19.6-1.6 7.3-1.8 6.1-1.9 4.5-2 3.6-1.9 3-1.9 2.8-4 5-3.9 4.4-4 3.9-4 3.6-4 3.4-4 3.2-2 1.4-4 2.7-4 2.5-6 3.5-6 3.3-12 6.1" stroke="url(#c17)"/><path d="M283.9 109.2l-1.6 39.5-1.6 19.1-3.2 19.5-1.6 7.3-1.9 6.1-1.9 4.6-1.9 3.6-3.9 5.8-1.9 2.6-4 4.7-3.9 4.2-4 3.8-4 3.5-4 3.4-4 3-2 1.4-4 2.6-6 3.6-10 5.5-14 7.1" stroke="url(#c18)"/><path d="M286.8 111l-1.5 37.8-1.6 18.9-3.2 19.3-1.7 7.3-1.8 6.1-1.9 4.6-1.9 3.7-3.9 5.8-1.9 2.6-2 2.5-3.9 4.5-4 4-4 3.7-4 3.5-4 3.2-2 1.5-4 2.7-4 2.5-6.1 3.6-10 5.5-13.9 7" stroke="url(#c19)"/><path d="M289.8 112.7l-1.6 36.3-1.6 18.6-3.2 19.2-1.6 7.2-1.8 6.2-1.9 4.6-1.9 3.6-3.9 5.9-1.9 2.7-2 2.5-4 4.5-3.9 4.1-4 3.7-4 3.5-4 3.3-4.1 2.9-4 2.6-4 2.5-6 3.5-10 5.5-14 7" stroke="url(#c20)"/><path d="M292.7 114.2l-1.6 35-1.5 18.3-3.2 19-1.6 7.3-1.8 6.2-1.9 4.6-1.9 3.6-3.9 5.9-2 2.7-1.9 2.6-4 4.6-4 4.1-4 3.7-4 3.6-4 3.3-4 2.9-4 2.7-4 2.5-6 3.5-10 5.5-16 8" stroke="url(#c21)"/><path d="M295.6 115.7l-1.5 33.7-1.6 18.1-3.2 18.8-1.6 7.2-1.8 6.2-1.9 4.7-1.9 3.7-3.8 5.9-2 2.7-1.9 2.6-4 4.6-4 4.1-4 3.8-4 3.6-4 3.3-4 3-4 2.7-6 3.7-6 3.5-6 3.3-6 3.2-16 7.9" stroke="url(#c22)"/><path d="M298.6 117l-1.6 32.6-1.5 17.8-3.2 18.7-1.6 7.2-1.8 6.2-1.9 4.7-1.9 3.7-3.8 5.9-2 2.8-1.9 2.5-4 4.7-4 4.2-4 3.9-6 5.3-4 3.2-4 2.8-4 2.6-4.1 2.5-6 3.5-6 3.4-6 3.1-16 8" stroke="url(#c23)"/><path d="M301.5 118.3l-1.5 31.5-1.6 17.6-3.1 18.5-1.6 7.2-1.8 6.2-1.9 4.7-1.9 3.7-3.8 6-2 2.8-2 2.5-3.9 4.8-4 4.2-4 3.9-6 5.3-4 3.3-4 2.8-4.1 2.7-6 3.7-6 3.5-6 3.2-6 3.2-16 7.9" stroke="url(#c24)"/><path d="M304.4 119.4l-1.5 30.6-1.5 17.3-3.2 18.4-1.6 7.2-1.8 6.2-1.8 4.7-1.9 3.7-1.9 3.1-3.9 5.7-2 2.6-1.9 2.5-4 4.5-4 4.1-4 3.7-4 3.6-4 3.2-4.1 2.9-4 2.7-6 3.8-6 3.5-6 3.3-6 3.1-18 9" stroke="url(#c25)"/><path d="M307.4 120.4l-1.6 29.8-1.5 17-3.1 18.3-1.6 7.1-1.8 6.3-1.8 4.7-1.9 3.7-1.9 3.1-3.9 5.8-2 2.6-1.9 2.5-4 4.5-4 4.2-4 3.8-4 3.6-4.1 3.2-4 2.9-4 2.7-6 3.8-6.1 3.6-6 3.3-8 4.2-18 8.9" stroke="url(#c26)"/><path d="M310.3 121.3l-1.5 29-1.5 16.9-3.2 18.1-1.5 7.1-1.8 6.3-1.9 4.7-1.9 3.8-3.8 6.1-1.9 2.8-4 5.1-1.9 2.4-4 4.3-4 4-4.1 3.7-4 3.5-4 3.1-4 2.8-6.1 4-4 2.4-6 3.5-6 3.3-8 4.1-18 8.9" stroke="url(#c27)"/><path d="M313.3 122.3l-1.6 28.2-1.5 16.6-3.1 18-1.6 7.1-1.7 6.3-1.9 4.7-1.9 3.8-3.8 6.1-1.9 2.9-4 5.2-2 2.3-3.9 4.4-4 4-4.1 3.8-4 3.5-4 3.1-4 2.9-6.1 3.9-4 2.5-6 3.5-6 3.3-8 4.2-10 5-10 4.9" stroke="url(#c28)"/><path d="M316.2 123.2l-1.5 27.5-1.6 16.4-3 17.9-1.6 7-1.8 6.3-1.8 4.8-1.9 3.7-3.8 6.2-2 2.9-3.9 5.2-2 2.4-4 4.4-4 4-4 3.8-4 3.6-4 3.1-4.1 2.9-6 4-4 2.5-6 3.5-6.1 3.3-8 4.2-10 5.1-10 4.8" stroke="url(#c29)"/><path d="M319.1 124l-1.5 26.9-1.5 16.2-3.1 17.7-1.5 7.1-1.8 6.3-1.8 4.7-1.9 3.8-3.8 6.2-2 2.9-3.9 5.2-2 2.4-4 4.5-4 4.1-6 5.6-4 3.4-4.1 3-4 2.8-6 3.9-4.1 2.5-6 3.4-8 4.4-8 4.1-18 8.9" stroke="url(#c30)"/><path d="M322.1 124.9l-1.5 26.3-1.6 15.9-3 17.6-1.6 7-1.7 6.3-1.9 4.8-1.8 3.8-3.8 6.2-2 2.9-1.9 2.7-4 5-4 4.5-4 4.1-4 3.9-4 3.6-4.1 3.2-4 2.9-4 2.7-6.1 3.8-4 2.5-6 3.4-8 4.3-8.1 4.1-17.9 8.8" stroke="url(#c31)"/><path d="M325 125.8l-1.5 25.6-1.5 15.8-3 17.4-1.6 7-1.8 6.3-1.8 4.8-1.9 3.8-3.8 6.2-1.9 2.9-1.9 2.8-4 5-4 4.5-4 4.2-4 3.8-4.1 3.7-4 3.2-4 2.9-4.1 2.8-6 3.8-6 3.6-6.1 3.4-8 4.2-8 4.1-18 8.8" stroke="url(#c32)"/><path d="M327.9 126.8l-1.5 24.9-1.5 15.6-3 17.3-1.5 7-1.8 6.2-1.8 4.8-1.9 3.8-3.8 6.3-1.9 2.9-2 2.7-3.9 5.1-4 4.5-4 4.2-4 3.9-4.1 3.7-4 3.2-4.1 3-4 2.8-6 3.8-6.1 3.7-6 3.3-8 4.3-8 4.1-10 5-10 4.8" stroke="url(#c33)"/><path d="M330.9 127.7l-1.5 24.3-1.5 15.4-3 17.2-1.6 6.9-1.7 6.3-1.8 4.7-1.9 3.9-3.8 6.2-3.9 5.7-1.9 2.6-4 4.8-4 4.4-4 4.1-4.1 3.8-4 3.5-4.1 3.1-4 2.9-4 2.7-6.1 3.8-6 3.5-6 3.4-8.1 4.2-8 4.1-18 8.8" stroke="url(#c34)"/><path d="M333.8 128.6l-1.5 23.7-1.5 15.2-3 17-1.5 6.9-1.7 6.3-1.9 4.8-1.8 3.8-3.8 6.3-3.9 5.7-2 2.6-3.9 4.9-4 4.4-4.1 4.1-4 3.8-4 3.5-4.1 3.1-4 2.9-4 2.8-6.1 3.8-6 3.6-6.1 3.3-8 4.3-8 4.1-18 8.8" stroke="url(#c35)"/><path d="M336.7 129.3l-1.4 23.3-1.5 15-3 16.9-1.5 6.8-1.8 6.3-1.8 4.8-1.8 3.8-3.8 6.3-3.9 5.8-2 2.6-3.9 4.9-4 4.4-4.1 4.1-4 3.9-4.1 3.5-4 3.2-4 2.9-4.1 2.7-6 3.9-6.1 3.6-6 3.3-8 4.3-8 4.1-18 8.9" stroke="url(#c36)"/><path d="M339.7 129.9l-1.5 22.9-1.5 14.8-2.9 16.8-1.6 6.8-1.7 6.3-1.8 4.8-1.9 3.8-3.7 6.3-3.9 5.8-2 2.7-4 4.9-4 4.4-4 4.2-4 3.9-4.1 3.5-4 3.2-4.1 2.9-4 2.8-6 3.9-6.1 3.6-6 3.4-8.1 4.3-8 4.1-8 4-10 4.9" stroke="url(#c37)"/><path d="M342.6 130.5l-1.5 22.5-1.4 14.6-3 16.7-1.5 6.8-1.7 6.3-1.8 4.7-1.9 3.9-3.7 6.3-3.9 5.8-2 2.7-4 4.9-4 4.5-4 4.2-4 3.9-4.1 3.6-4 3.2-4.1 3-4 2.8-6.1 3.9-6 3.6-6.1 3.4-8 4.3-10 5.2-18 8.8" stroke="url(#c38)"/><path d="M345.5 131.1l-1.4 22.1-1.5 14.5-2.9 16.5-1.5 6.8-1.7 6.3-1.9 4.7-1.8 3.9-3.8 6.4-1.9 3-3.9 5.5-4 4.9-4 4.6-4 4.2-4.1 3.9-4 3.6-2 1.7-4.1 3.1-4 2.9-4.1 2.7-6 3.8-6.1 3.6-6 3.3-8 4.3-10.1 5.2-18 8.7" stroke="url(#c39)"/><path d="M348.5 131.8l-1.5 21.6-1.4 14.4-3 16.4-1.5 6.7-1.7 6.3-1.8 4.8-1.8 3.8-3.8 6.4-1.9 3-3.9 5.6-4 5-4 4.5-4 4.2-4.1 4-4 3.7-2.1 1.6-4 3.1-6.1 4.3-4 2.7-6.1 3.7-6 3.5-6 3.4-8.1 4.2-8 4.1-8 4-12 5.8" stroke="url(#c40)"/><path d="M351.4 132.4l-1.4 21.3-1.5 14.1-2.9 16.3-1.5 6.8-1.7 6.2-1.8 4.8-1.8 3.9-3.8 6.4-1.9 3-3.9 5.6-4 5-4 4.5-4 4.3-4.1 4-4 3.7-2.1 1.6-4 3.2-6.1 4.3-4 2.7-6.1 3.8-6 3.5-8.1 4.4-16 8.3-20.1 9.7" stroke="url(#c41)"/><path d="M354.3 133.1l-1.4 20.9-1.4 14-2.9 16.1-1.5 6.7-1.7 6.3-1.8 4.8-1.8 3.8-3.8 6.4-1.9 3.1-2 2.8-3.9 5.4-4 4.7-4 4.5-4.1 4.1-4 3.9-2.1 1.8-4 3.3-4.1 3-6 4.2-4.1 2.7-6 3.7-6.1 3.4-8 4.4-16.1 8.3-20 9.7" stroke="url(#c42)"/><path d="M357.3 133.7l-1.5 20.5-1.4 13.9-2.9 16-1.5 6.7-1.7 6.2-1.7 4.8-1.9 3.9-3.7 6.4-1.9 3.1-2 2.8-3.9 5.4-4 4.8-4.1 4.4-4 4.2-4.1 3.9-2 1.8-4 3.3-4.1 3.1-6.1 4.2-4 2.7-6.1 3.7-6 3.5-8.1 4.4-8 4.2-10 5.1-20 9.6" stroke="url(#c43)"/><path d="M360.2 134.4l-1.4 20.1-1.4 13.7-2.9 15.9-1.5 6.7-1.7 6.2-1.8 4.8-1.8 3.9-3.7 6.4-2 3-1.9 2.9-3.9 5.4-4 4.8-4.1 4.5-4 4.2-4.1 3.9-2 1.9-4.1 3.3-4 3.1-6.1 4.2-4 2.7-6.1 3.7-6.1 3.5-8 4.4-8 4.3-10.1 5.1-20 9.6" stroke="url(#c44)"/><path d="M363.1 135l-1.4 19.8-1.4 13.6-2.9 15.8-1.4 6.6-1.7 6.2-1.8 4.8-1.8 3.9-3.7 6.4-2 3-1.9 3-4 5.3-4 4.9-4 4.5-4 4.2-4.1 4-4.1 3.5-4 3.2-4.1 3-6 4.2-4.1 2.6-6.1 3.6-8 4.6-8.1 4.3-16 8.2-20 9.7" stroke="url(#c45)"/><path d="M366.1 135.6l-1.4 19.5-1.4 13.4-2.9 15.7-1.5 6.6-1.6 6.2-1.8 4.8-1.8 3.8-1.9 3.3-3.8 6.2-1.9 3-4 5.4-4 4.9-4 4.5-4 4.2-4.1 4-4.1 3.6-4 3.2-4.1 3-6.1 4.2-4 2.6-6.1 3.7-8 4.6-8.1 4.3-8 4.2-8.1 4-20 9.7" stroke="url(#c46)"/><path d="M369 136.2l-1.4 19.2-1.4 13.3-2.8 15.5-1.5 6.6-1.7 6.2-1.7 4.8-1.8 3.8-1.9 3.3-3.8 6.3-1.9 2.9-2 2.8-4 5.1-4 4.7-4 4.4-4.1 4.2-4.1 3.8-4 3.3-4.1 3.2-6.1 4.3-4 2.7-6.1 3.8-6 3.5-6.1 3.4-8 4.3-8.1 4.2-8 4-20 9.6" stroke="url(#c47)"/><path d="M371.9 136.8l-1.3 18.9-1.4 13.1-2.9 15.5-1.4 6.5-1.7 6.2-1.8 4.8-1.8 3.8-1.8 3.3-3.8 6.3-1.9 2.9-2 2.8-4 5.2-4 4.7-4 4.4-4.1 4.2-4.1 3.8-4 3.4-4.1 3.1-6.1 4.4-4.1 2.7-6 3.8-6.1 3.6-6 3.4-8.1 4.3-8 4.2-8 4-20.1 9.6" stroke="url(#c48)"/><path d="M374.9 137.4l-1.4 18.6-1.4 13-2.8 15.3-1.5 6.5-1.6 6.2-1.8 4.7-1.8 3.9-3.7 6.5-3.9 6-3.9 5.5-4 4.9-4 4.6-4.1 4.3-4.1 4.1-4 3.6-4.1 3.3-6.1 4.5-4.1 2.8-6 3.9-6.1 3.7-8.1 4.5-8 4.4-10.1 5.2-20 9.8-24 11.2-31.9 14.4" stroke="url(#c49)"/><path d="M377.8 138l-1.4 18.3-1.3 12.8-2.8 15.3-1.5 6.5-1.7 6.1-1.7 4.7-1.8 3.9-3.7 6.5-1.9 3.1-3.9 5.8-4 5.2-4 4.7-4.1 4.5-4 4.2-4.1 3.9-4.1 3.4-4.1 3.2-6 4.4-4.1 2.8-6.1 3.8-6 3.6-8.1 4.5-8.1 4.3-10 5.2-20 9.8-24 11.1-30 13.6" stroke="url(#c50)"/><path d="M380.7 138.5l-1.3 18.1-1.4 12.7-2.8 15.1-1.4 6.5-1.7 6.1-1.7 4.8-1.8 3.8-3.7 6.5-1.9 3.1-3.9 5.8-4 5.2-4 4.8-4.1 4.5-4.1 4.2-4 3.9-4.1 3.5-4.1 3.2-6.1 4.4-4 2.8-6.1 3.8-6.1 3.6-8 4.5-8.1 4.4-10 5.1-20.1 9.9-24 11.2-30 13.5" stroke="url(#c51)"/><path d="M383.7 139.1l-1.4 17.8-1.3 12.6-2.8 15-1.5 6.4-1.6 6.1-1.8 4.8-1.7 3.9-3.8 6.4-1.9 3.1-3.9 5.8-3.9 5.3-4.1 4.8-4 4.5-4.1 4.3-4.1 3.8-4 3.5-4.1 3.2-6.1 4.5-4.1 2.8-6 3.9-6.1 3.6-8.1 4.5-8 4.3-10.1 5.2-20 9.9-24 11.2-30 13.5" stroke="url(#c52)"/><path d="M386.6 139.7l-1.3 17.5-1.4 12.5-2.8 14.9-1.4 6.4-1.6 6.1-1.8 4.7-1.8 3.9-3.7 6.5-1.9 3.1-3.9 5.8-3.9 5.3-4.1 4.8-4 4.5-4.1 4.3-4.1 3.9-4 3.5-4.1 3.2-6.1 4.5-4.1 2.8-6.1 3.9-6 3.6-8.1 4.6-8.1 4.3-10 5.2-20.1 9.9-24 11.2-30 13.6" stroke="url(#c53)"/><path d="M389.5 140.3l-1.3 17.2-1.3 12.4-2.8 14.8-1.4 6.3-1.7 6.1-1.7 4.8-1.8 3.8-3.7 6.5-1.9 3.1-3.9 5.9-4 5.2-4 4.9-4 4.5-4.1 4.3-4.1 3.9-4.1 3.6-4 3.2-6.2 4.5-4 2.8-6.1 3.9-6.1 3.7-8.1 4.5-8 4.4-10.1 5.2-20 9.9-24 11.2-30.1 13.6" stroke="url(#c54)"/><path d="M392.5 140.9l-1.4 17-1.3 12.2-2.7 14.7-1.5 6.3-1.6 6.1-1.7 4.7-1.8 3.9-3.7 6.5-1.9 3.1-3.9 5.8-4 5.3-4 4.9-4.1 4.5-4 4.4-4.1 3.9-4.1 3.5-4.1 3.3-6.1 4.5-4 2.8-6.1 4-6.1 3.6-8.1 4.6-8 4.4-10.1 5.2-20.1 9.9-24 11.2-30 13.6" stroke="url(#c55)"/><path d="M395.4 141.5l-1.3 16.7-1.3 12.1-2.8 14.6-1.4 6.3-1.6 6.1-1.7 4.7-1.8 3.8-3.7 6.5-1.9 3.1-3.9 5.9-4 5.3-4 4.9-4.1 4.6-4 4.3-4.1 4-4.1 3.5-4.1 3.3-6.1 4.5-4.1 2.9-6.1 3.9-6 3.7-8.1 4.6-8.1 4.3-10 5.3-20.1 9.9-24 11.3-30.1 13.6" stroke="url(#c56)"/><path d="M398.3 142.1l-1.3 16.5-1.3 11.9-2.7 14.5-1.4 6.3-1.7 6-1.7 4.7-1.7 3.9-3.7 6.5-1.9 3.1-3.9 5.9-4 5.3-4 4.9-4.1 4.6-4.1 4.3-4 4-4.1 3.6-4.1 3.3-6.1 4.5-4.1 2.9-6.1 3.9-6.1 3.7-8.1 4.6-8 4.4-10.1 5.3-10 5-10 4.9-12.1 5.7-11.9 5.6-30.2 13.6" stroke="url(#c57)"/><path d="M401.3 142.7l-1.3 16.2-1.4 11.9-2.7 14.3-1.4 6.3-1.6 6-1.7 4.7-1.8 3.9-3.6 6.4-3.9 6.2-1.9 2.9-4 5.3-4 4.9-6.1 6.8-4.1 4.2-4.1 3.8-4.1 3.4-6.1 4.8-4.1 2.9-4.1 2.8-6 3.8-6.1 3.7-8.1 4.5-8.1 4.4-8 4.2-10.1 5-12 5.9-22 10.3-30.1 13.7" stroke="url(#c58)"/><path d="M404.2 143.3l-1.3 16-1.3 11.7-2.7 14.3-1.4 6.2-1.6 6-1.7 4.7-1.8 3.8-3.7 6.5-3.8 6.2-1.9 2.8-4 5.4-4 4.9-6.2 6.9-4 4.2-4.1 3.8-4.1 3.4-6.1 4.8-4.1 2.9-4.1 2.8-6.1 3.9-6.1 3.6-8 4.6-8.1 4.4-8.1 4.2-10 5-12 5.9-22 10.3-30.2 13.7" stroke="url(#c59)"/><path d="M407.1 143.8l-1.3 15.8-1.3 11.7-2.6 14.1-1.4 6.2-1.6 6-1.7 4.7-1.8 3.8-3.7 6.5-3.8 6.2-1.9 2.8-4 5.4-4.1 4.9-6.1 6.9-4.1 4.2-4 3.9-4.1 3.4-6.2 4.8-4 2.9-4.1 2.8-6.1 3.9-6.1 3.7-8.1 4.6-8 4.3-8.1 4.3-10 5-12.1 5.9-22 10.3-30.2 13.7" stroke="url(#c60)"/><path d="M410.1 144.4l-1.3 15.6-1.3 11.5-2.7 14.1-1.4 6.1-1.6 6-1.7 4.7-1.7 3.8-3.7 6.5-3.8 6.1-2 2.9-3.9 5.4-4.1 5-6.1 6.9-4.1 4.2-4.1 3.8-4.1 3.5-6.1 4.8-4.1 3-4 2.8-6.1 3.9-6.1 3.6-8.1 4.6-8.1 4.4-8 4.3-10.1 5-12 5.9-22 10.4-30.2 13.7" stroke="url(#c61)"/><path d="M413 145l-1.3 15.3-1.3 11.5-2.6 13.9-1.4 6.2-1.6 5.9-1.7 4.7-1.7 3.8-3.7 6.5-3.8 6.1-4 5.7-4 5.1-4 4.9-4.1 4.5-4.1 4.3-4.1 3.8-4.1 3.5-6.1 4.8-4.1 3-4.1 2.8-6.1 3.9-6.1 3.7-8.1 4.6-8 4.4-8.1 4.2-10 5.1-12.1 5.9-22 10.4-30.2 13.7" stroke="url(#c62)"/><path d="M415.9 145.6l-1.2 15.1-1.3 11.3-2.7 13.9-1.3 6.1-1.6 5.9-1.7 4.7-1.8 3.8-3.6 6.5-3.8 6.1-4 5.7-4 5.2-4 4.8-4.1 4.6-4.1 4.2-4.1 3.9-4.1 3.5-6.1 4.8-4.1 3-4.1 2.8-6.1 4-6.1 3.7-8.1 4.6-8.1 4.4-8 4.2-10.1 5.1-12 5.9-22 10.4-30.3 13.8" stroke="url(#c63)"/><path d="M418.9 146.2l-1.3 14.9-1.3 11.2-2.6 13.8-1.4 6-1.5 5.9-1.7 4.7-1.8 3.8-3.6 6.5-3.8 6.1-4 5.7-4 5.2-4 4.8-4.1 4.6-4.1 4.3-4.1 3.9-4.1 3.5-6.2 4.8-4.1 3-4 2.9-6.1 3.9-6.1 3.7-8.1 4.7-8.1 4.4-8.1 4.2-10 5.1-12.1 5.9-22 10.4-30.2 13.8" stroke="url(#c64)"/><path d="M421.8 146.7l-1.2 14.8-1.3 11.1-2.6 13.6-1.4 6.1-1.6 5.9-1.7 4.6-1.7 3.8-3.6 6.5-3.9 6.1-3.9 5.7-4 5.2-4.1 4.9-4 4.6-4.1 4.3-4.1 3.9-4.1 3.5-6.2 4.9-4.1 3-4.1 2.8-6.1 4-6.1 3.7-8.1 4.6-8 4.5-8.1 4.2-10.1 5.1-12 6-12 5.7-12 5.6-28.3 12.9" stroke="url(#c65)"/><path d="M424.7 147.3l-1.2 14.5-1.3 11.1-2.6 13.5-1.3 6-1.6 5.9-1.7 4.6-1.7 3.8-3.7 6.5-3.8 6.2-3.9 5.6-4 5.2-4.1 4.9-4.1 4.6-4.1 4.3-4.1 4-4.1 3.5-6.1 4.9-4.1 3-4.1 2.9-6.1 3.9-6.1 3.8-8.1 4.6-8.1 4.5-8 4.2-10.1 5.1-12 6-12.1 5.7-12 5.6-28.3 12.9" stroke="url(#c66)"/><path d="M427.7 147.9l-1.3 14.3-1.2 11-2.6 13.4-1.4 6-1.5 5.8-1.7 4.7-1.7 3.8-3.7 6.4-3.8 6.2-3.9 5.7-4 5.2-4.1 4.9-4.1 4.6-4.1 4.3-4.1 3.9-4.1 3.6-6.1 4.9-4.1 3-4.1 2.9-6.1 4-6.1 3.7-8.1 4.7-8.1 4.5-8.1 4.2-10 5.2-12.1 5.9-12 5.7-12 5.7-28.3 12.8" stroke="url(#c67)"/><path d="M430.6 148.5l-1.2 14.1-1.3 10.9-2.5 13.3-1.4 6-1.6 5.8-1.6 4.6-1.8 3.8-3.6 6.4-3.8 6.2-3.9 5.7-4 5.2-4.1 4.9-4.1 4.7-4.1 4.3-4.1 3.9-4.1 3.6-6.2 4.9-4.1 3.1-4 2.9-6.2 4-6.1 3.7-8.1 4.7-8.1 4.4-8 4.3-10.1 5.2-12 5.9-12.1 5.8-12 5.6-28.3 12.9" stroke="url(#c68)"/><path d="M433.5 149.1l-1.2 14-1.2 10.7-2.6 13.3-1.3 5.9-1.6 5.8-1.7 4.5-1.7 3.8-3.6 6.5-3.8 6.2-3.9 5.7-4 5.2-4.1 4.9-4.1 4.6-4.1 4.4-4.1 3.9-4.1 3.6-6.2 4.9-4.1 3.1-4.1 2.9-6.1 4-6.1 3.8-8.1 4.7-8.1 4.4-8.1 4.3-10 5.2-12.1 5.9-12 5.8-12 5.6-28.4 12.9" stroke="url(#c69)"/><path d="M436.5 149.7l-1.2 13.8-1.3 10.6-2.5 13.2-1.4 5.9-1.5 5.7-1.7 4.6-1.7 3.8-3.6 6.4-3.8 6.2-3.9 5.7-4.1 5.2-4 4.9-6.2 6.9-4.1 4.2-4.1 3.8-6.2 5.1-6.1 4.7-4.1 2.9-4.1 2.7-6.1 3.8-6.1 3.6-8.1 4.6-8.1 4.4-8 4.2-10.1 5.1-10 4.9-22.1 10.4-28.3 13" stroke="url(#c70)"/><path d="M439.4 150.3l-1.2 13.6-1.2 10.5-2.6 13.1-1.3 5.9-1.5 5.7-1.7 4.6-1.7 3.7-3.6 6.4-3.8 6.2-4 5.7-4 5.3-4 4.9-6.2 6.9-4.1 4.2-4.1 3.8-6.2 5.1-6.1 4.7-4.1 2.9-4.1 2.7-6.1 3.9-6.1 3.6-8.1 4.6-8.1 4.4-8.1 4.2-10 5.1-10.1 4.9-22 10.5-28.4 12.9" stroke="url(#c71)"/><path d="M442.3 150.9l-1.2 13.4-1.2 10.4-2.5 13-1.3 5.8-1.6 5.8-1.6 4.5-1.7 3.8-3.6 6.4-3.8 6.2-4 5.7-4 5.2-4.1 5-6.1 6.9-4.1 4.2-4.1 3.8-6.2 5.1-6.2 4.7-4.1 3-4 2.7-6.2 3.8-6 3.7-8.2 4.6-8 4.4-8.1 4.2-10.1 5.1-10 5-22.1 10.4-28.4 13" stroke="url(#c72)"/><path d="M445.3 151.5l-1.2 13.2-1.2 10.3-2.5 12.9-1.4 5.8-1.5 5.7-1.6 4.6-1.8 3.7-3.6 6.4-3.8 6.2-3.9 5.7-4 5.3-4.1 4.9-6.1 7-4.1 4.2-4.2 3.8-6.1 5.1-6.2 4.8-4.1 2.9-4.1 2.8-6.1 3.8-6.1 3.7-8.1 4.6-8.1 4.4-8 4.2-10.1 5.1-10.1 5-22 10.4-28.4 13" stroke="url(#c73)"/><path d="M448.2 152.1l-1.2 13-1.2 10.2-2.5 12.9-1.3 5.7-1.5 5.7-1.7 4.5-1.7 3.8-3.6 6.4-3.8 6.2-3.9 5.7-4 5.3-4.1 4.9-6.1 7-4.2 4.2-4.1 3.8-6.2 5.2-6.1 4.7-4.1 3-4.1 2.7-6.1 3.9-6.1 3.6-8.1 4.7-8.1 4.4-8.1 4.2-10.1 5.1-10 5-22 10.5-28.5 13" stroke="url(#c74)"/><path d="M451.2 152.6l-1.2 12.9-1.2 10.2-2.5 12.7-1.3 5.7-1.6 5.7-1.6 4.5-1.7 3.7-3.6 6.4-3.8 6.2-3.9 5.7-4 5.3-4.1 5-6.2 7-4.1 4.2-4.1 3.8-6.2 5.2-6.1 4.8-4.1 2.9-4.1 2.8-6.1 3.9-6.2 3.6-8.1 4.7-8.1 4.4-8 4.2-10.1 5.2-10 4.9-22.1 10.5-28.5 13" stroke="url(#c75)"/><path d="M454.1 153.2l-1.2 12.7-1.2 10.1-2.5 12.7-1.3 5.7-1.5 5.6-1.6 4.5-1.7 3.7-3.6 6.4-3.8 6.2-3.9 5.7-4 5.3-4.1 5-6.2 7-4.1 4.2-4.1 3.8-6.2 5.2-6.2 4.8-4.1 3-4.1 2.7-6.1 3.9-6.1 3.7-8.1 4.7-8.1 4.4-8.1 4.3-10 5.1-10.1 4.9-22 10.5-28.5 13.1" stroke="url(#c76)"/><path d="M457 153.8l-1.2 12.5-1.1 10-2.5 12.6-1.3 5.7-1.5 5.6-1.6 4.5-1.7 3.7-3.6 6.4-3.8 6.1-3.9 5.8-4 5.3-4.1 4.9-6.2 7-4.1 4.3-4.1 3.8-6.2 5.3-6.2 4.8-4.1 2.9-4.1 2.8-6.1 3.9-6.1 3.7-8.1 4.7-8.1 4.4-8.1 4.3-10.1 5.1-10 5-22.1 10.5-28.5 13" stroke="url(#c77)"/><path d="M460 154.4l-1.2 12.4-1.2 9.9-2.4 12.5-1.3 5.6-1.5 5.6-1.7 4.5-1.7 3.7-3.5 6.3-3.8 6.2-3.9 5.7-4.1 5.3-4 5-6.2 7-4.1 4.3-4.2 3.9-6.2 5.2-6.1 4.8-4.1 3-4.1 2.8-6.1 3.9-6.2 3.7-8.1 4.6-8.1 4.5-8.1 4.3-10 5.1-10.1 5-22 10.5-28.5 13.1" stroke="url(#c78)"/><path d="M462.9 155l-1.2 12.2-1.1 9.8-2.5 12.4-1.3 5.6-1.5 5.6-1.6 4.5-1.7 3.7-3.5 6.3-3.8 6.2-3.9 5.7-4.1 5.3-4.1 5-6.1 7-4.2 4.3-4.1 3.9-6.2 5.2-6.1 4.9-4.2 2.9-4 2.8-6.2 4-6.1 3.7-8.1 4.6-8.1 4.5-8.1 4.3-10.1 5.1-10 5-22.1 10.5-28.5 13.1" stroke="url(#c79)"/><path d="M465.8 155.6l-1.1 12-1.2 9.8-2.4 12.3-1.3 5.6-1.5 5.5-1.6 4.5-1.7 3.7-3.6 6.3-3.7 6.2-4 5.7-4 5.3-4.1 5-6.1 7.1-4.2 4.2-4.1 3.9-6.2 5.3-6.2 4.8-4.1 3-4.1 2.8-6.1 3.9-6.1 3.7-8.1 4.7-8.2 4.5-8 4.3-10.1 5.2-10.1 4.9-22 10.6-28.6 13.1" stroke="url(#c80)"/><path d="M468.8 156.2l-1.2 11.9-1.1 9.7-2.5 12.2-1.2 5.5-1.5 5.6-1.6 4.4-1.7 3.7-3.6 6.3-3.7 6.1-4 5.8-4 5.3-4.1 5-6.2 7.1-4.1 4.3-4.1 3.8-6.2 5.3-6.2 4.9-4.1 3-4.1 2.8-6.1 3.9-6.2 3.7-8.1 4.7-8.1 4.5-8.1 4.3-10.1 5.2-10 5-22.1 10.5-28.5 13.1" stroke="url(#c81)"/><path d="M471.7 156.8l-1.1 11.7-1.2 9.6-2.4 12.2-1.3 5.5-1.5 5.5-1.6 4.4-1.6 3.7-3.6 6.3-3.8 6.1-3.9 5.8-4 5.3-4.1 5-6.2 7.1-4.1 4.3-4.1 3.9-6.2 5.3-6.2 4.8-4.1 3-4.1 2.9-6.2 3.9-6.1 3.7-8.1 4.7-8.1 4.5-8.1 4.3-10.1 5.2-10.1 5-22 10.5-28.6 13.2" stroke="url(#c82)"/><path d="M474.6 157.4l-1.1 11.6-1.1 9.5-2.4 12-1.3 5.5-1.5 5.5-1.6 4.4-1.7 3.7-3.5 6.3-3.8 6.1-3.9 5.8-4 5.3-4.1 5-6.2 7.1-4.1 4.3-4.2 3.9-6.2 5.3-6.2 4.9-4.1 3-4.1 2.8-6.1 4-6.1 3.7-8.2 4.7-8.1 4.5-8.1 4.3-10 5.2-10.1 5-22.1 10.6-28.6 13.1" stroke="url(#c83)"/><path d="M477.6 158l-1.2 11.4-1.1 9.4-2.4 12-1.2 5.5-1.5 5.4-1.6 4.4-1.7 3.7-3.5 6.3-3.8 6.1-3.9 5.8-4 5.3-4.1 5-6.2 7.1-4.1 4.3-4.2 3.9-6.2 5.4-6.2 4.8-4.1 3.1-4.1 2.8-6.1 4-6.2 3.7-8.1 4.7-8.1 4.5-8.1 4.4-10.1 5.1-10 5-22.1 10.6-28.6 13.2" stroke="url(#c84)"/><path d="M480.5 158.6l-1.1 11.3-1.1 9.3-2.4 11.9-1.3 5.5-1.4 5.4-1.6 4.3-1.7 3.7-3.5 6.3-3.8 6.1-3.9 5.8-4 5.3-6.2 7.4-6.2 6.9-4.1 4.2-4.2 3.7-6.2 5.2-4.1 3.2-6.2 4.5-4.1 2.7-6.1 3.9-6.1 3.7-8.2 4.7-8.1 4.5-8.1 4.2-10 5.2-10.1 5-22.1 10.5-26.6 12.2" stroke="url(#c85)"/><path d="M483.4 159.2l-1.1 11.1-1.1 9.3-2.3 11.8-1.3 5.4-1.5 5.4-1.5 4.4-1.7 3.6-3.5 6.3-3.8 6.1-3.9 5.8-4.1 5.3-6.1 7.4-6.2 7-4.2 4.1-4.1 3.7-6.2 5.2-6.2 4.8-4.1 2.9-4.1 2.8-6.1 3.9-6.2 3.7-8.1 4.7-8.1 4.5-8.1 4.2-10.1 5.2-10 5-22.1 10.5-26.7 12.3" stroke="url(#c86)"/><path d="M486.4 159.7l-1.1 11.1-1.2 9.2-2.3 11.7-1.2 5.4-1.5 5.4-1.6 4.3-1.6 3.6-3.6 6.3-3.7 6.1-3.9 5.8-4.1 5.3-6.1 7.5-6.2 6.9-4.2 4.1-4.1 3.8-6.2 5.2-6.2 4.8-4.1 2.9-4.1 2.8-6.2 3.9-6.1 3.7-8.1 4.7-8.1 4.5-8.1 4.3-10.1 5.1-10.1 5-22.1 10.6-26.6 12.2" stroke="url(#c87)"/><path d="M489.3 160.3l-1.1 10.9-1.1 9.1-2.3 11.7-1.3 5.4-1.4 5.3-1.6 4.3-1.7 3.6-3.5 6.3-3.7 6.1-4 5.8-4 5.3-6.1 7.5-6.2 6.9-4.2 4.1-4.1 3.8-6.3 5.2-6.1 4.8-4.2 3-4.1 2.8-6.1 3.9-6.1 3.7-8.2 4.7-8.1 4.5-8.1 4.3-10.1 5.1-10 5.1-22.1 10.5-26.7 12.3" stroke="url(#c88)"/><path d="M492.2 160.9l-1.1 10.8-1.1 9-2.3 11.6-1.2 5.3-1.4 5.4-1.6 4.3-1.7 3.6-3.5 6.2-3.7 6.1-4 5.8-4 5.3-6.2 7.5-6.2 6.9-4.1 4.2-4.2 3.8-6.2 5.2-6.2 4.8-4.1 3-4.1 2.7-6.1 4-6.2 3.7-8.1 4.7-8.1 4.5-8.1 4.3-10.1 5.2-10.1 5-22.1 10.5-26.7 12.3" stroke="url(#c89)"/><path d="M495.2 161.4l-1.1 10.7-1.1 9-2.3 11.5-1.2 5.3-1.5 5.3-1.5 4.3-1.7 3.6-3.5 6.2-3.8 6.1-1.9 2.9-4 5.6-4 5.1-6.2 7.4-4.2 4.5-4.1 4.2-4.2 3.8-6.2 5.2-6.2 4.9-4.1 2.9-4.1 2.8-6.2 4-6.1 3.7-8.1 4.7-8.2 4.5-8.1 4.3-10.1 5.2-10 5-22.1 10.6-26.7 12.3" stroke="url(#c90)"/><path d="M498.1 162l-1.1 10.5-1.1 8.9-2.2 11.5-1.3 5.2-1.4 5.3-1.6 4.3-1.6 3.6-3.5 6.2-3.8 6.1-1.9 2.9-4 5.6-4.1 5.1-6.1 7.4-4.2 4.6-4.2 4.1-4.1 3.8-6.2 5.3-6.2 4.8-4.2 3-4.1 2.8-6.1 3.9-6.1 3.8-8.2 4.7-8.1 4.5-8.1 4.3-10.1 5.2-10.1 5-22.1 10.6-26.7 12.3" stroke="url(#c91)"/><path d="M501 162.5l-1 10.4-1.1 8.9-2.3 11.3-1.2 5.3-1.4 5.2-1.6 4.3-1.6 3.6-3.5 6.2-3.8 6.1-1.9 2.9-4 5.5-4.1 5.2-6.2 7.4-4.1 4.6-4.2 4.2-4.1 3.8-6.3 5.2-6.2 4.9-4.1 3-4.1 2.8-6.1 3.9-6.2 3.8-8.1 4.7-8.1 4.5-8.1 4.3-10.1 5.2-10.1 5.1-22.1 10.5-26.8 12.4" stroke="url(#c92)"/><path d="M504 163l-1.1 10.3-1.1 8.8-2.2 11.3-1.2 5.2-1.5 5.3-1.5 4.2-1.6 3.6-3.5 6.2-3.8 6.1-1.9 2.9-4 5.5-4.1 5.2-6.2 7.4-4.1 4.6-4.2 4.2-4.2 3.8-6.2 5.3-6.2 4.8-4.1 3-4.1 2.8-6.2 4-6.1 3.8-8.2 4.7-8.1 4.5-8.1 4.3-10.1 5.2-10.1 5.1-22.1 10.6-26.7 12.3" stroke="url(#c93)"/><path d="M506.9 163.5l-1.1 10.2-1 8.8-2.3 11.2-1.2 5.2-1.4 5.2-1.5 4.2-1.7 3.6-3.5 6.2-3.7 6.1-1.9 2.9-4 5.5-4.1 5.2-6.2 7.4-4.2 4.6-4.1 4.2-4.2 3.8-6.2 5.3-6.2 4.9-4.1 3-4.2 2.8-6.1 4-6.1 3.7-8.2 4.8-8.1 4.5-8.1 4.4-10.1 5.2-10.1 5-22.1 10.6-26.8 12.4" stroke="url(#c94)"/><path d="M509.8 164.1l-1 10.1-1.1 8.6-2.2 11.2-1.2 5.1-1.4 5.3-1.6 4.2-1.6 3.5-3.5 6.2-3.7 6.1-2 2.9-3.9 5.5-4.1 5.2-6.2 7.4-4.2 4.6-4.1 4.2-4.2 3.9-6.2 5.3-6.2 4.9-4.2 3-4.1 2.8-6.1 4-6.2 3.7-8.1 4.8-8.2 4.5-8.1 4.4-10.1 5.2-10 5-22.1 10.7-26.9 12.3" stroke="url(#c95)"/><path d="M512.8 164.6l-1.1 10-1 8.6-2.2 11.1-1.2 5.1-1.4 5.2-1.6 4.2-1.6 3.6-3.5 6.1-3.7 6.1-2 2.9-4 5.6-4 5.2-6.2 7.4-4.2 4.6-4.2 4.2-4.1 3.8-6.3 5.3-6.2 4.9-4.1 3.1-4.1 2.8-6.2 4-6.1 3.7-8.2 4.8-8.1 4.6-8.1 4.3-10.1 5.2-10.1 5.1-22.1 10.6-26.8 12.4" stroke="url(#c96)"/><path d="M515.7 165.2l-1 9.9-1.1 8.5-2.2 11-1.2 5.2-1.4 5.1-1.5 4.2-1.6 3.5-3.5 6.2-3.7 6.1-2 2.9-4 5.5-4 5.2-6.2 7.4-4.2 4.6-4.2 4.2-4.1 3.9-6.3 5.3-6.2 4.9-4.1 3-4.1 2.9-6.2 4-6.1 3.7-8.2 4.8-8.1 4.6-8.1 4.3-10.2 5.3-10 5-10.1 4.9-12 5.7-26.9 12.4" stroke="url(#c97)"/><path d="M518.6 165.9l-1 9.7-1 8.5-2.2 10.9-1.2 5.1-1.4 5.1-1.5 4.2-1.6 3.5-3.5 6.1-3.8 6.1-1.9 2.9-4 5.6-4.1 5.2-6.2 7.4-4.1 4.6-4.2 4.2-4.2 3.9-6.2 5.3-6.2 4.9-4.2 3-4.1 2.9-6.1 4-6.2 3.8-8.1 4.8-8.2 4.5-8.1 4.4-10.1 5.2-10.1 5.1-10 4.9-12.1 5.7-26.9 12.4" stroke="url(#c98)"/><path d="M521.6 166.6l-1 9.6-1.1 8.4-2.2 10.8-1.1 5.1-1.4 5.1-1.6 4.1-1.6 3.5-3.4 6.1-3.8 6.1-1.9 2.9-4 5.5-4.1 5.2-6.2 7.4-4.1 4.7-4.2 4.2-4.2 3.9-6.2 5.3-6.3 4.9-4.1 3-4.1 2.9-6.2 4-6.1 3.8-8.2 4.8-8.1 4.5-8.1 4.4-10.1 5.2-10.1 5.1-10.1 4.9-12 5.7-26.9 12.5" stroke="url(#c99)"/><path d="M524.5 167.3l-1 9.5-1 8.3-2.2 10.7-1.2 5.1-1.4 5.1-1.5 4.1-1.6 3.5-3.5 6.1-3.7 6-1.9 2.9-4 5.5-4.1 5.2-6.2 7.4-4.2 4.6-4.1 4.3-4.2 3.8-6.3 5.4-6.2 4.9-4.1 3.1-4.1 2.8-6.2 4-6.2 3.8-8.1 4.8-8.2 4.6-8.1 4.3-10.1 5.3-10.1 5-10 5-12.1 5.7-26.9 12.4" stroke="url(#c100)"/></g></g>
<path d="M58.6 330.9L58.6 76.5M58.6 330.9L352.0 373.2M352.0 373.2L524.5 301.4M58.6 330.9L51.6 333.8M524.5 301.4L531.6 302.4M117.3 339.4L110.3 342.3M490.0 315.8L497.1 316.8M176.0 347.8L168.9 350.7M455.5 330.1L462.6 331.1M234.6 356.3L227.6 359.2M421.0 344.5L428.1 345.5M293.3 364.7L286.3 367.7M386.5 358.8L393.6 359.9M352.0 373.2L345.0 376.1M352.0 373.2L359.1 374.2M58.6 288.5L51.3 287.4M58.6 246.1L51.3 245.0M58.6 203.7L51.3 202.6M58.6 161.3L51.3 160.2M58.6 118.9L51.3 117.8M58.6 76.5L51.3 75.4" fill="none" stroke="#444" stroke-width="0.8"/>
<g><text x="45.6" y="351.0" text-anchor="end">0</text><text x="104.3" y="359.5" text-anchor="end">20</text><text x="163.0" y="367.9" text-anchor="end">40</text><text x="221.6" y="376.4" text-anchor="end">60</text><text x="280.3" y="384.8" text-anchor="end">80</text><text x="339.0" y="393.3" text-anchor="end">100</text><text x="537.3" y="318.5">0</text><text x="502.8" y="332.9">20</text><text x="468.3" y="347.2">40</text><text x="433.8" y="361.6">60</text><text x="399.3" y="375.9">80</text><text x="364.8" y="390.3">100</text><text x="45.3" y="292.8" text-anchor="end">0.3</text><text x="45.3" y="250.4" text-anchor="end">0.4</text><text x="45.3" y="208.0" text-anchor="end">0.5</text><text x="45.3" y="165.6" text-anchor="end">0.6</text><text x="45.3" y="123.2" text-anchor="end">0.7</text><text x="45.3" y="80.8" text-anchor="end">0.8</text><text x="218.6" y="405.7" text-anchor="middle" style="font-size:15.6px">NV</text><text x="454.8" y="398.2" text-anchor="middle" style="font-size:15.6px">NA</text><text transform="translate(17.5,203.9) rotate(-90)" text-anchor="middle" style="font-size:15.6px">L</text></g>
</svg></body></html>
